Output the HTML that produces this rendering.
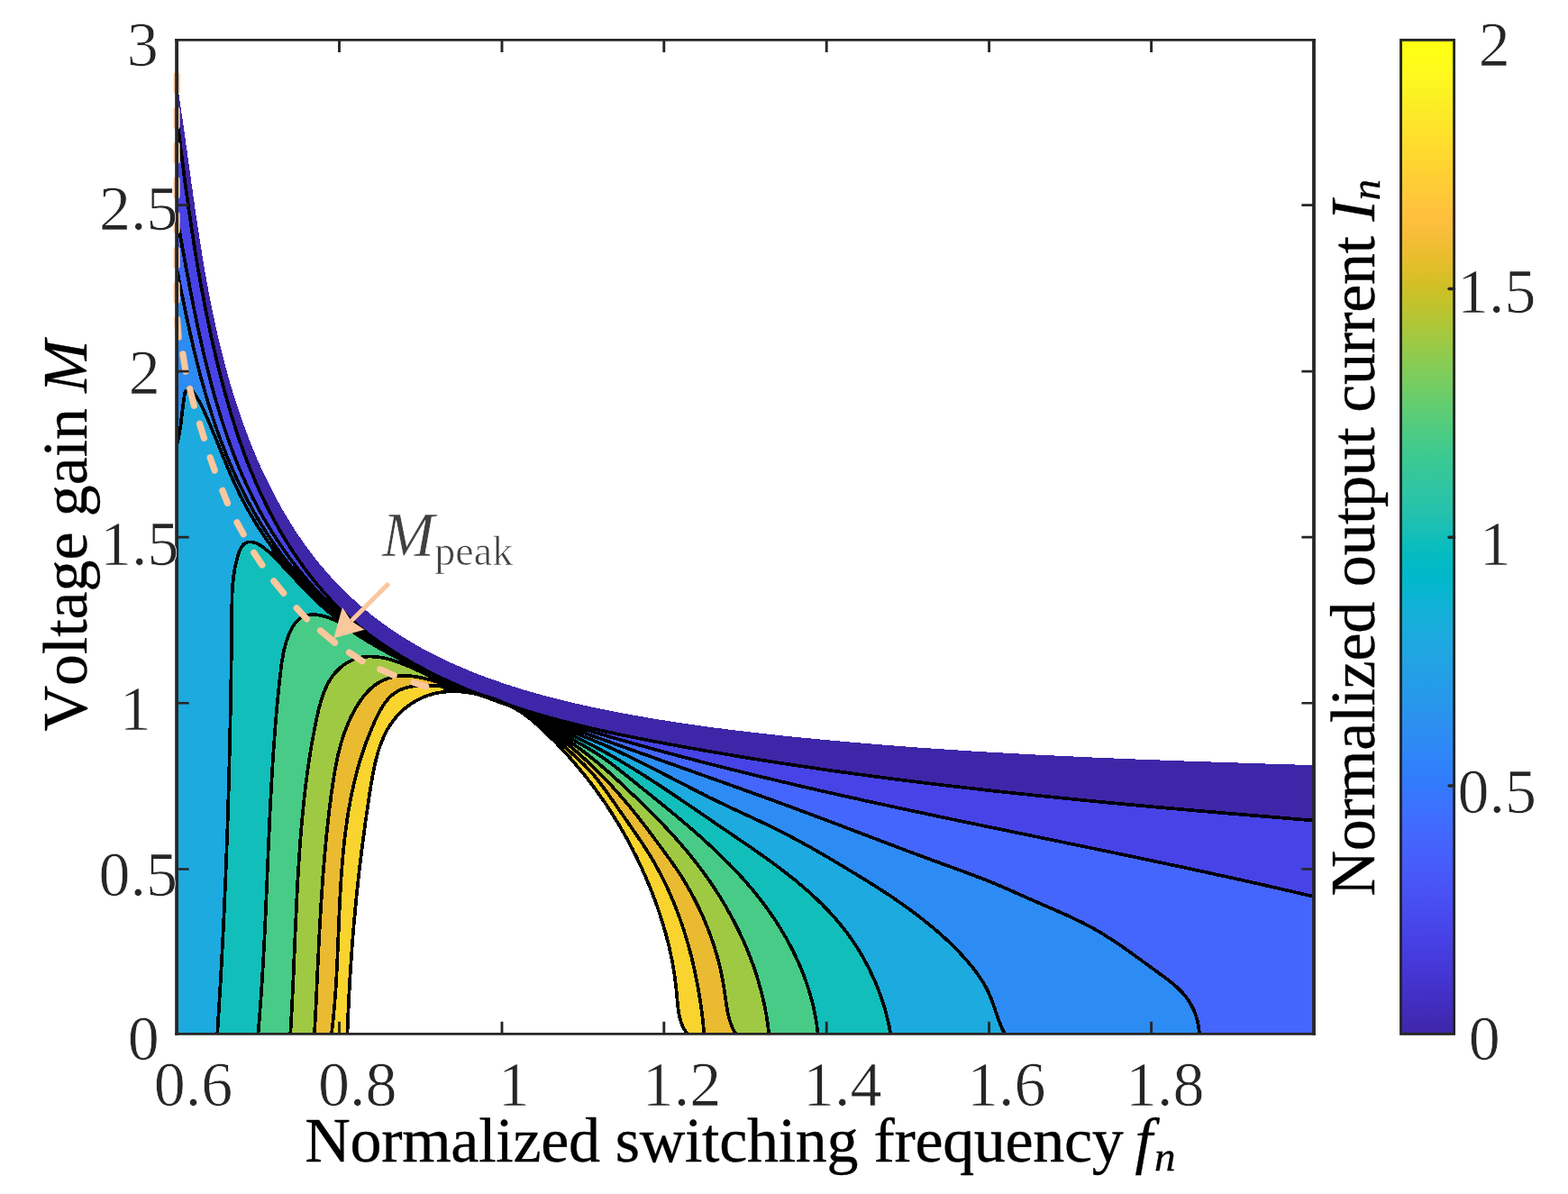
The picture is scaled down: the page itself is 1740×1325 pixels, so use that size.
<!DOCTYPE html>
<html lang="en"><head><meta charset="utf-8"><title>Voltage gain contour</title>
<style>html,body{margin:0;padding:0;background:#fff}body{width:1740px;height:1325px;overflow:hidden}svg{display:block}text{font-family:"Liberation Serif","Times New Roman",serif;font-kerning:none}</style></head><body>
<svg width="1740" height="1325" viewBox="0 0 1740 1325">
<defs><linearGradient id="cb" x1="0" y1="1" x2="0" y2="0">
<stop offset="0.0000" stop-color="#3E26A8"/>
<stop offset="0.0159" stop-color="#402AB4"/>
<stop offset="0.0317" stop-color="#422EC0"/>
<stop offset="0.0476" stop-color="#4332CB"/>
<stop offset="0.0635" stop-color="#4537D5"/>
<stop offset="0.0794" stop-color="#463CDE"/>
<stop offset="0.0952" stop-color="#4741E5"/>
<stop offset="0.1111" stop-color="#4747EB"/>
<stop offset="0.1270" stop-color="#484DF0"/>
<stop offset="0.1429" stop-color="#4852F4"/>
<stop offset="0.1587" stop-color="#4758F8"/>
<stop offset="0.1746" stop-color="#465EFB"/>
<stop offset="0.1905" stop-color="#4563FD"/>
<stop offset="0.2063" stop-color="#4269FE"/>
<stop offset="0.2222" stop-color="#3E6FFF"/>
<stop offset="0.2381" stop-color="#3875FE"/>
<stop offset="0.2540" stop-color="#327CFC"/>
<stop offset="0.2698" stop-color="#2F81FA"/>
<stop offset="0.2857" stop-color="#2E87F7"/>
<stop offset="0.3016" stop-color="#2D8CF3"/>
<stop offset="0.3175" stop-color="#2B91EF"/>
<stop offset="0.3333" stop-color="#2797EB"/>
<stop offset="0.3492" stop-color="#259BE8"/>
<stop offset="0.3651" stop-color="#23A0E5"/>
<stop offset="0.3810" stop-color="#20A5E3"/>
<stop offset="0.3968" stop-color="#1CA9DF"/>
<stop offset="0.4127" stop-color="#18ADDB"/>
<stop offset="0.4286" stop-color="#12B1D6"/>
<stop offset="0.4444" stop-color="#08B5D0"/>
<stop offset="0.4603" stop-color="#01B8CA"/>
<stop offset="0.4762" stop-color="#02BAC3"/>
<stop offset="0.4921" stop-color="#0BBDBD"/>
<stop offset="0.5079" stop-color="#19BFB6"/>
<stop offset="0.5238" stop-color="#24C1AE"/>
<stop offset="0.5397" stop-color="#2CC4A7"/>
<stop offset="0.5556" stop-color="#31C69F"/>
<stop offset="0.5714" stop-color="#37C897"/>
<stop offset="0.5873" stop-color="#3FCA8E"/>
<stop offset="0.6032" stop-color="#4ACB84"/>
<stop offset="0.6190" stop-color="#57CC7A"/>
<stop offset="0.6349" stop-color="#64CD6F"/>
<stop offset="0.6508" stop-color="#72CD64"/>
<stop offset="0.6667" stop-color="#81CC59"/>
<stop offset="0.6825" stop-color="#8FCB4E"/>
<stop offset="0.6966" stop-color="#9DC943"/>
<stop offset="0.7106" stop-color="#ABC739"/>
<stop offset="0.7247" stop-color="#B9C431"/>
<stop offset="0.7387" stop-color="#C5C22A"/>
<stop offset="0.7527" stop-color="#D1BF27"/>
<stop offset="0.7668" stop-color="#DDBE29"/>
<stop offset="0.7827" stop-color="#E9BD2D"/>
<stop offset="0.7985" stop-color="#F3BD36"/>
<stop offset="0.8144" stop-color="#FDBE3D"/>
<stop offset="0.8303" stop-color="#FFC23C"/>
<stop offset="0.8461" stop-color="#FFC938"/>
<stop offset="0.8620" stop-color="#FFCF34"/>
<stop offset="0.8779" stop-color="#FFD630"/>
<stop offset="0.8938" stop-color="#FFDC2D"/>
<stop offset="0.9096" stop-color="#FEE32A"/>
<stop offset="0.9255" stop-color="#FCE927"/>
<stop offset="0.9414" stop-color="#FCF024"/>
<stop offset="0.9573" stop-color="#FDF620"/>
<stop offset="0.9731" stop-color="#FFFC1B"/>
<stop offset="0.9890" stop-color="#FFFF15"/>
<stop offset="1" stop-color="#FFFF14"/>
</linearGradient>
<clipPath id="ax"><rect x="196.1" y="44.4" width="1261.9" height="1103.0"/></clipPath>
</defs>
<rect width="1740" height="1325" fill="#fff"/>
<g clip-path="url(#ax)" shape-rendering="crispEdges">
<path d="M196.1 90.0L196.6 93.0L197.0 95.9L197.5 98.9L198.0 101.8L198.4 104.8L198.9 107.7L199.3 110.7L199.8 113.7L200.2 116.6L200.7 119.6L201.1 122.6L201.5 125.5L202.0 128.5L202.4 131.5L202.8 134.4L203.3 137.4L203.7 140.4L204.1 143.3L204.5 146.3L205.0 149.3L205.4 152.3L205.8 155.2L206.2 158.2L206.6 161.2L207.0 164.2L207.5 167.1L207.9 170.1L208.3 173.1L208.7 176.1L209.1 179.0L209.5 182.0L209.9 185.0L210.4 188.0L210.8 191.0L211.2 193.9L211.6 196.9L212.0 199.9L212.4 202.9L212.9 205.8L213.3 208.8L213.7 211.8L214.1 214.8L214.5 217.8L215.0 220.7L215.4 223.7L215.8 226.7L216.2 229.7L216.7 232.7L217.1 235.6L217.5 238.6L218.0 241.6L218.4 244.6L218.9 247.5L219.3 250.5L219.8 253.5L220.2 256.5L220.7 259.4L221.1 262.4L221.6 265.4L222.0 268.4L222.5 271.3L223.0 274.3L223.5 277.3L223.9 280.2L224.4 283.2L224.9 286.2L225.4 289.2L225.9 292.1L226.4 295.1L226.9 298.0L227.4 301.0L228.0 304.0L228.5 306.9L229.0 309.9L229.5 312.9L230.1 315.8L230.6 318.8L231.2 321.7L231.7 324.7L232.3 327.6L232.9 330.6L233.4 333.5L234.0 336.5L234.6 339.4L235.2 342.4L235.8 345.3L236.4 348.2L237.0 351.2L237.7 354.1L238.3 357.1L238.9 360.0L239.6 362.9L240.2 365.9L240.9 368.8L241.5 371.7L242.2 374.6L242.9 377.6L243.6 380.5L244.3 383.4L245.0 386.3L245.7 389.2L246.5 392.1L247.2 395.1L247.9 398.0L248.7 400.9L249.5 403.8L250.2 406.7L251.0 409.6L251.8 412.5L252.6 415.4L253.4 418.3L254.2 421.2L255.1 424.0L255.9 426.9L256.8 429.8L257.6 432.7L258.5 435.6L259.4 438.4L260.3 441.3L261.2 444.2L262.1 447.0L263.1 449.9L264.0 452.8L265.0 455.6L265.9 458.5L266.9 461.3L267.9 464.2L268.9 467.0L269.9 469.9L270.9 472.7L272.0 475.5L273.0 478.4L274.1 481.2L275.1 484.0L276.2 486.9L277.3 489.7L278.5 492.5L279.6 495.3L280.7 498.1L281.9 500.9L283.0 503.7L284.2 506.5L285.4 509.3L286.6 512.0L287.8 514.8L289.1 517.6L290.3 520.3L291.6 523.1L292.9 525.8L294.2 528.6L295.5 531.3L296.8 534.0L298.1 536.7L299.5 539.4L300.8 542.1L302.2 544.8L303.6 547.5L305.0 550.2L306.4 552.8L307.8 555.5L309.3 558.1L310.8 560.8L312.2 563.4L313.7 566.0L315.2 568.6L316.8 571.2L318.3 573.8L319.9 576.4L321.4 578.9L323.0 581.5L324.6 584.0L326.2 586.6L327.9 589.1L329.5 591.6L331.2 594.1L332.9 596.6L334.6 599.0L336.3 601.5L338.0 603.9L339.8 606.4L341.5 608.8L343.3 611.2L345.1 613.6L346.9 616.0L348.8 618.3L350.6 620.7L352.5 623.0L354.3 625.3L356.2 627.6L358.2 629.9L360.1 632.2L362.1 634.4L364.0 636.7L366.0 638.9L368.0 641.1L370.0 643.3L372.1 645.5L374.1 647.6L376.2 649.8L378.3 651.9L380.4 654.0L382.5 656.1L384.7 658.2L386.8 660.3L389.0 662.3L391.2 664.3L393.4 666.3L395.6 668.3L397.9 670.3L400.1 672.3L402.4 674.2L404.7 676.1L407.0 678.0L409.3 679.9L411.6 681.8L413.9 683.6L416.3 685.5L418.7 687.3L421.0 689.1L423.4 690.8L425.9 692.6L428.3 694.3L430.7 696.1L433.2 697.8L435.6 699.4L438.1 701.1L440.6 702.8L443.1 704.4L445.6 706.0L448.2 707.6L450.7 709.2L453.3 710.7L455.8 712.3L458.4 713.8L461.0 715.3L463.6 716.8L466.2 718.2L468.8 719.7L471.5 721.1L474.1 722.5L476.8 723.9L479.4 725.3L482.1 726.7L484.8 728.0L487.5 729.3L490.2 730.7L492.9 732.0L495.6 733.2L498.3 734.5L501.1 735.8L503.8 737.0L506.6 738.2L509.3 739.4L512.1 740.6L514.9 741.8L517.7 743.0L520.4 744.1L523.2 745.2L526.0 746.4L528.9 747.5L531.7 748.6L534.5 749.6L537.3 750.7L540.1 751.8L543.0 752.8L545.8 753.8L548.7 754.8L551.5 755.8L554.4 756.8L557.3 757.8L560.1 758.8L563.0 759.7L565.9 760.6L568.7 761.6L571.6 762.5L574.5 763.4L577.4 764.3L580.3 765.2L583.2 766.0L586.1 766.9L589.0 767.7L591.9 768.6L594.8 769.4L597.7 770.2L600.6 771.0L603.5 771.8L606.4 772.6L609.3 773.4L612.3 774.1L615.2 774.9L618.1 775.6L621.0 776.3L623.9 777.1L626.9 777.8L629.8 778.5L632.7 779.2L635.7 779.9L638.6 780.6L641.5 781.2L644.5 781.9L647.4 782.6L650.4 783.2L653.3 783.9L656.2 784.5L659.2 785.1L662.1 785.7L665.1 786.4L668.0 787.0L671.0 787.6L673.9 788.2L676.9 788.7L679.8 789.3L682.8 789.9L685.7 790.5L688.7 791.0L691.6 791.6L694.6 792.1L697.6 792.7L700.5 793.2L703.5 793.7L706.4 794.3L709.4 794.8L712.4 795.3L715.3 795.8L718.3 796.3L721.2 796.8L724.2 797.3L727.2 797.8L730.1 798.3L733.1 798.8L736.1 799.3L739.0 799.7L742.0 800.2L745.0 800.7L747.9 801.1L750.9 801.6L753.9 802.0L756.8 802.5L759.8 802.9L762.8 803.3L765.7 803.8L768.7 804.2L771.7 804.6L774.7 805.0L777.6 805.5L780.6 805.9L783.6 806.3L786.5 806.7L789.5 807.1L792.5 807.5L795.5 807.9L798.4 808.2L801.4 808.6L804.4 809.0L807.4 809.4L810.3 809.8L813.3 810.1L816.3 810.5L819.3 810.9L822.3 811.2L825.2 811.6L828.2 811.9L831.2 812.3L834.2 812.6L837.2 813.0L840.1 813.3L843.1 813.6L846.1 814.0L849.1 814.3L852.1 814.6L855.0 815.0L858.0 815.3L861.0 815.6L864.0 815.9L867.0 816.2L870.0 816.6L872.9 816.9L875.9 817.2L878.9 817.5L881.9 817.8L884.9 818.1L887.9 818.4L890.9 818.7L893.9 819.0L896.8 819.3L899.8 819.5L902.8 819.8L905.8 820.1L908.8 820.4L911.8 820.7L914.8 821.0L917.8 821.2L920.7 821.5L923.7 821.8L926.7 822.1L929.7 822.3L932.7 822.6L935.7 822.9L938.7 823.1L941.7 823.4L944.7 823.7L947.7 823.9L950.7 824.2L953.7 824.4L956.6 824.7L959.6 824.9L962.6 825.2L965.6 825.4L968.6 825.7L971.6 825.9L974.6 826.1L977.6 826.4L980.6 826.6L983.6 826.9L986.6 827.1L989.6 827.3L992.6 827.6L995.6 827.8L998.6 828.0L1001.6 828.2L1004.6 828.5L1007.6 828.7L1010.6 828.9L1013.6 829.1L1016.6 829.4L1019.6 829.6L1022.6 829.8L1025.6 830.0L1028.6 830.2L1031.6 830.4L1034.6 830.6L1037.6 830.8L1040.6 831.0L1043.6 831.2L1046.6 831.4L1049.6 831.6L1052.6 831.8L1055.6 832.0L1058.6 832.2L1061.6 832.4L1064.6 832.6L1067.6 832.8L1070.6 833.0L1073.6 833.2L1076.6 833.4L1079.6 833.6L1082.6 833.7L1085.6 833.9L1088.6 834.1L1091.6 834.3L1094.6 834.5L1097.6 834.6L1100.6 834.8L1103.6 835.0L1106.6 835.2L1109.6 835.3L1112.6 835.5L1115.6 835.7L1118.6 835.9L1121.6 836.0L1124.6 836.2L1127.6 836.3L1130.6 836.5L1133.6 836.7L1136.6 836.8L1139.6 837.0L1142.6 837.2L1145.6 837.3L1148.6 837.5L1151.6 837.6L1154.6 837.8L1157.6 837.9L1160.6 838.1L1163.6 838.2L1166.7 838.4L1169.7 838.5L1172.7 838.7L1175.7 838.8L1178.7 839.0L1181.7 839.1L1184.7 839.2L1187.7 839.4L1190.7 839.5L1193.7 839.7L1196.7 839.8L1199.7 839.9L1202.7 840.1L1205.7 840.2L1208.7 840.3L1211.7 840.5L1214.7 840.6L1217.7 840.7L1220.7 840.9L1223.7 841.0L1226.8 841.1L1229.8 841.3L1232.8 841.4L1235.8 841.5L1238.8 841.6L1241.8 841.8L1244.8 841.9L1247.8 842.0L1250.8 842.1L1253.8 842.3L1256.8 842.4L1259.8 842.5L1262.8 842.6L1265.8 842.7L1268.8 842.8L1271.8 843.0L1274.8 843.1L1277.8 843.2L1280.8 843.3L1283.9 843.4L1286.9 843.5L1289.9 843.6L1292.9 843.8L1295.9 843.9L1298.9 844.0L1301.9 844.1L1304.9 844.2L1307.9 844.3L1310.9 844.4L1313.9 844.5L1316.9 844.6L1319.9 844.7L1322.9 844.8L1325.9 844.9L1328.9 845.0L1331.9 845.1L1334.9 845.2L1337.9 845.3L1340.9 845.4L1343.9 845.5L1346.9 845.6L1350.0 845.7L1353.0 845.8L1356.0 845.9L1359.0 846.0L1362.0 846.1L1365.0 846.2L1368.0 846.3L1371.0 846.4L1374.0 846.5L1377.0 846.6L1380.0 846.7L1383.0 846.8L1386.0 846.9L1389.0 847.0L1392.0 847.1L1395.0 847.2L1398.0 847.3L1401.0 847.4L1404.0 847.5L1407.0 847.6L1410.0 847.7L1413.0 847.7L1416.0 847.8L1419.0 847.9L1422.0 848.0L1425.0 848.1L1428.0 848.2L1431.0 848.3L1434.0 848.4L1437.0 848.5L1440.0 848.6L1443.0 848.7L1446.0 848.7L1449.0 848.8L1452.0 848.9L1455.0 849.0L1458.0 849.1L1458.0 1147.4L196.1 1147.4Z" fill="#3E26A8"/>
<path d="M196.1 128.0L196.5 131.0L196.8 134.0L197.2 137.0L197.5 140.0L197.9 143.0L198.2 146.0L198.6 149.0L199.0 151.9L199.3 154.9L199.7 157.9L200.1 160.9L200.4 163.9L200.8 166.9L201.2 169.9L201.6 172.9L201.9 175.9L202.3 178.9L202.7 181.8L203.1 184.8L203.5 187.8L203.8 190.8L204.2 193.8L204.6 196.8L205.0 199.8L205.4 202.7L205.8 205.7L206.2 208.7L206.6 211.7L207.0 214.7L207.4 217.6L207.8 220.6L208.3 223.6L208.7 226.6L209.1 229.6L209.5 232.5L209.9 235.5L210.4 238.5L210.8 241.5L211.2 244.4L211.7 247.4L212.1 250.4L212.6 253.4L213.0 256.3L213.5 259.3L213.9 262.3L214.4 265.2L214.8 268.2L215.3 271.2L215.8 274.1L216.3 277.1L216.7 280.1L217.2 283.0L217.7 286.0L218.2 289.0L218.7 291.9L219.2 294.9L219.7 297.9L220.2 300.8L220.7 303.8L221.3 306.7L221.8 309.7L222.3 312.7L222.8 315.6L223.4 318.6L223.9 321.5L224.5 324.5L225.0 327.4L225.6 330.4L226.2 333.3L226.7 336.3L227.3 339.2L227.9 342.2L228.5 345.1L229.1 348.1L229.6 351.0L230.3 354.0L230.9 356.9L231.5 359.8L232.1 362.8L232.7 365.7L233.4 368.7L234.0 371.6L234.6 374.5L235.3 377.5L235.9 380.4L236.6 383.4L237.3 386.3L237.9 389.2L238.6 392.1L239.3 395.1L240.0 398.0L240.7 400.9L241.4 403.9L242.1 406.8L242.9 409.7L243.6 412.6L244.3 415.6L245.1 418.5L245.8 421.4L246.6 424.3L247.3 427.2L248.1 430.1L248.9 433.1L249.7 436.0L250.5 438.9L251.3 441.8L252.1 444.7L252.9 447.6L253.8 450.5L254.6 453.4L255.5 456.3L256.3 459.2L257.2 462.1L258.1 464.9L259.0 467.8L259.9 470.7L260.8 473.6L261.7 476.4L262.7 479.3L263.6 482.2L264.6 485.0L265.6 487.9L266.5 490.7L267.5 493.6L268.5 496.4L269.6 499.3L270.6 502.1L271.6 504.9L272.7 507.8L273.8 510.6L274.8 513.4L275.9 516.2L277.1 519.0L278.2 521.8L279.3 524.6L280.5 527.4L281.6 530.2L282.8 533.0L284.0 535.7L285.2 538.5L286.4 541.2L287.7 544.0L288.9 546.7L290.2 549.5L291.5 552.2L292.8 554.9L294.1 557.7L295.4 560.4L296.8 563.1L298.1 565.8L299.5 568.5L300.9 571.1L302.3 573.8L303.8 576.5L305.2 579.1L306.7 581.8L308.1 584.4L309.6 587.0L311.1 589.6L312.6 592.3L314.2 594.8L315.7 597.4L317.3 600.0L318.9 602.6L320.5 605.1L322.1 607.7L323.8 610.2L325.4 612.7L327.1 615.2L328.8 617.7L330.5 620.2L332.2 622.6L333.9 625.1L335.7 627.5L337.4 630.0L339.2 632.4L341.0 634.8L342.8 637.2L344.7 639.5L346.5 641.9L348.4 644.2L350.3 646.6L352.2 648.9L354.1 651.2L356.1 653.4L358.0 655.7L360.0 657.9L362.0 660.2L364.0 662.4L366.0 664.6L368.1 666.8L370.1 668.9L372.2 671.1L374.3 673.2L376.4 675.3L378.6 677.4L380.7 679.5L382.9 681.5L385.1 683.6L387.3 685.6L389.5 687.6L391.8 689.6L394.0 691.5L396.3 693.5L398.6 695.4L400.9 697.3L403.3 699.2L405.6 701.0L408.0 702.9L410.3 704.7L412.7 706.5L415.2 708.3L417.6 710.0L420.0 711.8L422.5 713.5L425.0 715.2L427.4 716.9L429.9 718.6L432.4 720.3L435.0 721.9L437.5 723.5L440.1 725.1L442.6 726.7L445.2 728.3L447.8 729.9L450.4 731.4L453.0 732.9L455.6 734.4L458.2 735.9L460.9 737.4L463.5 738.9L466.2 740.3L468.8 741.7L471.5 743.1L474.2 744.5L476.9 745.9L479.6 747.3L482.3 748.6L485.0 750.0L487.7 751.3L490.4 752.6L493.2 753.9L495.9 755.2L498.6 756.4L501.4 757.7L504.1 758.9L506.9 760.1L509.7 761.3L512.4 762.5L515.2 763.7L518.0 764.9L520.7 766.0L523.5 767.2L526.3 768.3L529.1 769.4L531.9 770.5L534.7 771.6L537.5 772.7L540.3 773.8L543.1 774.8L545.9 775.8L548.8 776.9L551.6 777.9L554.4 778.9L557.3 779.9L560.1 780.9L562.9 781.9L565.8 782.8L568.6 783.8L571.5 784.7L574.3 785.6L577.2 786.6L580.1 787.5L582.9 788.4L585.8 789.3L588.7 790.1L591.5 791.0L594.4 791.9L597.3 792.7L600.2 793.6L603.1 794.4L606.0 795.2L608.8 796.0L611.7 796.8L614.6 797.6L617.5 798.4L620.4 799.2L623.3 800.0L626.3 800.7L629.2 801.5L632.1 802.2L635.0 803.0L637.9 803.7L640.8 804.4L643.8 805.2L646.7 805.9L649.6 806.6L652.5 807.3L655.5 808.0L658.4 808.6L661.3 809.3L664.3 810.0L667.2 810.6L670.2 811.3L673.1 812.0L676.0 812.6L679.0 813.2L681.9 813.9L684.9 814.5L687.8 815.1L690.8 815.7L693.7 816.4L696.7 817.0L699.6 817.6L702.6 818.2L705.6 818.8L708.5 819.4L711.5 819.9L714.4 820.5L717.4 821.1L720.3 821.7L723.3 822.3L726.3 822.8L729.2 823.4L732.2 823.9L735.2 824.5L738.1 825.1L741.1 825.6L744.1 826.2L747.0 826.7L750.0 827.2L753.0 827.8L755.9 828.3L758.9 828.9L761.9 829.4L764.8 829.9L767.8 830.5L770.8 831.0L773.7 831.5L776.7 832.0L779.7 832.6L782.6 833.1L785.6 833.6L788.6 834.1L791.5 834.6L794.5 835.1L797.5 835.6L800.5 836.1L803.4 836.6L806.4 837.1L809.4 837.6L812.3 838.1L815.3 838.6L818.3 839.1L821.3 839.6L824.2 840.1L827.2 840.6L830.2 841.1L833.1 841.6L836.1 842.0L839.1 842.5L842.1 843.0L845.0 843.5L848.0 843.9L851.0 844.4L853.9 844.9L856.9 845.3L859.9 845.8L862.9 846.3L865.8 846.7L868.8 847.2L871.8 847.6L874.8 848.1L877.7 848.5L880.7 849.0L883.7 849.4L886.7 849.9L889.6 850.3L892.6 850.8L895.6 851.2L898.6 851.6L901.6 852.1L904.5 852.5L907.5 852.9L910.5 853.4L913.5 853.8L916.4 854.2L919.4 854.7L922.4 855.1L925.4 855.5L928.4 855.9L931.3 856.3L934.3 856.8L937.3 857.2L940.3 857.6L943.2 858.0L946.2 858.4L949.2 858.8L952.2 859.2L955.2 859.6L958.1 860.0L961.1 860.4L964.1 860.8L967.1 861.2L970.1 861.6L973.0 862.0L976.0 862.4L979.0 862.8L982.0 863.2L985.0 863.6L988.0 864.0L990.9 864.3L993.9 864.7L996.9 865.1L999.9 865.5L1002.9 865.9L1005.9 866.2L1008.8 866.6L1011.8 867.0L1014.8 867.4L1017.8 867.7L1020.8 868.1L1023.8 868.5L1026.7 868.8L1029.7 869.2L1032.7 869.6L1035.7 869.9L1038.7 870.3L1041.7 870.6L1044.6 871.0L1047.6 871.4L1050.6 871.7L1053.6 872.1L1056.6 872.4L1059.6 872.8L1062.6 873.1L1065.5 873.5L1068.5 873.8L1071.5 874.2L1074.5 874.5L1077.5 874.8L1080.5 875.2L1083.5 875.5L1086.5 875.9L1089.4 876.2L1092.4 876.5L1095.4 876.9L1098.4 877.2L1101.4 877.5L1104.4 877.9L1107.4 878.2L1110.4 878.5L1113.4 878.8L1116.3 879.2L1119.3 879.5L1122.3 879.8L1125.3 880.1L1128.3 880.5L1131.3 880.8L1134.3 881.1L1137.3 881.4L1140.3 881.7L1143.2 882.0L1146.2 882.4L1149.2 882.7L1152.2 883.0L1155.2 883.3L1158.2 883.6L1161.2 883.9L1164.2 884.2L1167.2 884.5L1170.2 884.8L1173.2 885.1L1176.2 885.4L1179.1 885.7L1182.1 886.0L1185.1 886.3L1188.1 886.6L1191.1 886.9L1194.1 887.2L1197.1 887.5L1200.1 887.8L1203.1 888.1L1206.1 888.4L1209.1 888.7L1212.1 889.0L1215.1 889.3L1218.1 889.6L1221.1 889.8L1224.0 890.1L1227.0 890.4L1230.0 890.7L1233.0 891.0L1236.0 891.3L1239.0 891.6L1242.0 891.8L1245.0 892.1L1248.0 892.4L1251.0 892.7L1254.0 893.0L1257.0 893.2L1260.0 893.5L1263.0 893.8L1266.0 894.1L1269.0 894.3L1272.0 894.6L1275.0 894.9L1278.0 895.2L1281.0 895.4L1284.0 895.7L1287.0 896.0L1290.0 896.2L1293.0 896.5L1296.0 896.8L1299.0 897.0L1301.9 897.3L1304.9 897.6L1307.9 897.8L1310.9 898.1L1313.9 898.4L1316.9 898.6L1319.9 898.9L1322.9 899.2L1325.9 899.4L1328.9 899.7L1331.9 899.9L1334.9 900.2L1337.9 900.5L1340.9 900.7L1343.9 901.0L1346.9 901.2L1349.9 901.5L1352.9 901.8L1355.9 902.0L1358.9 902.3L1361.9 902.5L1364.9 902.8L1367.9 903.0L1370.9 903.3L1373.9 903.5L1376.9 903.8L1379.9 904.0L1382.9 904.3L1385.9 904.6L1388.9 904.8L1391.9 905.1L1394.9 905.3L1397.9 905.6L1400.9 905.8L1403.9 906.1L1406.9 906.3L1410.0 906.6L1413.0 906.8L1416.0 907.1L1419.0 907.3L1422.0 907.5L1425.0 907.8L1428.0 908.0L1431.0 908.3L1434.0 908.5L1437.0 908.8L1440.0 909.0L1443.0 909.3L1446.0 909.5L1449.0 909.8L1452.0 910.0L1455.0 910.3L1458.0 910.5L1458.0 1147.4L196.1 1147.4Z" fill="#4743E6"/>
<path d="M196.1 240.0L196.6 242.9L197.2 245.9L197.7 248.8L198.3 251.8L198.8 254.7L199.3 257.7L199.9 260.6L200.4 263.6L200.9 266.5L201.5 269.5L202.0 272.5L202.5 275.4L203.1 278.4L203.6 281.3L204.2 284.3L204.7 287.2L205.2 290.2L205.8 293.1L206.3 296.1L206.9 299.1L207.4 302.0L208.0 305.0L208.5 307.9L209.1 310.9L209.7 313.8L210.2 316.8L210.8 319.8L211.3 322.7L211.9 325.7L212.5 328.6L213.1 331.6L213.7 334.5L214.2 337.5L214.8 340.5L215.4 343.4L216.0 346.4L216.6 349.3L217.2 352.3L217.8 355.2L218.5 358.2L219.1 361.1L219.7 364.1L220.3 367.0L221.0 370.0L221.6 372.9L222.3 375.8L222.9 378.8L223.6 381.7L224.3 384.7L224.9 387.6L225.6 390.5L226.3 393.5L227.0 396.4L227.7 399.3L228.4 402.3L229.1 405.2L229.8 408.1L230.6 411.1L231.3 414.0L232.1 416.9L232.8 419.8L233.6 422.7L234.4 425.7L235.1 428.6L235.9 431.5L236.7 434.4L237.5 437.3L238.3 440.2L239.2 443.1L240.0 446.0L240.9 448.9L241.7 451.8L242.6 454.7L243.5 457.6L244.3 460.5L245.2 463.3L246.1 466.2L247.1 469.1L248.0 472.0L248.9 474.8L249.9 477.7L250.9 480.6L251.8 483.4L252.8 486.3L253.8 489.1L254.8 492.0L255.9 494.8L256.9 497.6L258.0 500.5L259.0 503.3L260.1 506.1L261.2 508.9L262.3 511.7L263.5 514.5L264.6 517.3L265.7 520.1L266.9 522.9L268.1 525.6L269.3 528.4L270.5 531.2L271.8 533.9L273.0 536.7L274.3 539.4L275.5 542.1L276.8 544.9L278.2 547.6L279.5 550.3L280.8 553.0L282.2 555.7L283.6 558.3L285.0 561.0L286.4 563.7L287.8 566.3L289.3 569.0L290.8 571.6L292.2 574.2L293.7 576.9L295.3 579.5L296.8 582.1L298.3 584.6L299.9 587.2L301.5 589.8L303.1 592.3L304.7 594.9L306.3 597.4L308.0 599.9L309.7 602.4L311.3 604.9L313.0 607.4L314.8 609.9L316.5 612.3L318.2 614.8L320.0 617.2L321.8 619.7L323.6 622.1L325.4 624.5L327.2 626.8L329.1 629.2L330.9 631.6L332.8 633.9L334.7 636.2L336.6 638.6L338.6 640.9L340.5 643.1L342.5 645.4L344.4 647.7L346.4 649.9L348.4 652.1L350.5 654.4L352.5 656.6L354.6 658.7L356.6 660.9L358.7 663.0L360.8 665.2L363.0 667.3L365.1 669.4L367.2 671.5L369.4 673.5L371.6 675.6L373.8 677.6L376.0 679.6L378.2 681.6L380.5 683.6L382.8 685.6L385.0 687.5L387.3 689.4L389.6 691.4L392.0 693.2L394.3 695.1L396.7 697.0L399.0 698.8L401.4 700.6L403.8 702.4L406.2 704.2L408.7 706.0L411.1 707.7L413.6 709.4L416.0 711.2L418.5 712.9L421.0 714.5L423.5 716.2L426.0 717.8L428.6 719.5L431.1 721.1L433.7 722.7L436.2 724.3L438.8 725.8L441.4 727.4L444.0 728.9L446.6 730.4L449.2 731.9L451.8 733.4L454.5 734.9L457.1 736.3L459.8 737.8L462.4 739.2L465.1 740.6L467.8 742.0L470.5 743.4L473.2 744.8L475.9 746.1L478.6 747.5L481.3 748.8L484.0 750.1L486.7 751.4L489.5 752.7L492.2 754.0L494.9 755.2L497.7 756.5L500.5 757.7L503.2 758.9L506.0 760.2L508.7 761.3L511.5 762.5L514.3 763.7L517.1 764.9L519.9 766.0L522.7 767.2L525.5 768.3L528.3 769.4L531.1 770.5L533.9 771.6L536.7 772.7L539.5 773.8L542.3 774.8L545.1 775.9L548.0 776.9L550.8 778.0L553.6 779.0L556.5 780.0L559.3 781.0L562.2 782.0L565.0 783.0L567.8 784.0L570.7 785.0L573.5 786.0L576.4 786.9L579.3 787.9L582.1 788.8L585.0 789.8L587.8 790.7L590.7 791.6L593.6 792.6L596.5 793.5L599.3 794.4L602.2 795.3L605.1 796.2L607.9 797.1L610.8 798.0L613.7 798.9L616.6 799.8L619.5 800.7L622.4 801.6L625.2 802.4L628.1 803.3L631.0 804.2L633.9 805.0L636.8 805.9L639.7 806.8L642.6 807.6L645.4 808.5L648.3 809.3L651.2 810.2L654.1 811.0L657.0 811.9L659.9 812.7L662.8 813.6L665.7 814.4L668.6 815.3L671.4 816.1L674.3 816.9L677.2 817.8L680.1 818.6L683.0 819.4L685.9 820.3L688.8 821.1L691.7 821.9L694.6 822.7L697.5 823.5L700.4 824.4L703.3 825.2L706.2 826.0L709.1 826.8L712.0 827.6L714.9 828.4L717.8 829.2L720.7 830.0L723.6 830.8L726.5 831.6L729.4 832.4L732.3 833.2L735.2 834.0L738.1 834.8L741.0 835.5L743.9 836.3L746.8 837.1L749.7 837.9L752.6 838.7L755.5 839.4L758.4 840.2L761.3 841.0L764.3 841.7L767.2 842.5L770.1 843.3L773.0 844.0L775.9 844.8L778.8 845.5L781.7 846.3L784.6 847.0L787.6 847.8L790.5 848.5L793.4 849.3L796.3 850.0L799.2 850.7L802.1 851.5L805.0 852.2L808.0 852.9L810.9 853.7L813.8 854.4L816.7 855.1L819.6 855.8L822.6 856.6L825.5 857.3L828.4 858.0L831.3 858.7L834.3 859.4L837.2 860.1L840.1 860.8L843.0 861.6L845.9 862.3L848.9 863.0L851.8 863.7L854.7 864.4L857.7 865.1L860.6 865.8L863.5 866.5L866.4 867.2L869.4 867.9L872.3 868.5L875.2 869.2L878.2 869.9L881.1 870.6L884.0 871.3L886.9 872.0L889.9 872.7L892.8 873.3L895.7 874.0L898.7 874.7L901.6 875.4L904.5 876.0L907.5 876.7L910.4 877.4L913.3 878.0L916.3 878.7L919.2 879.4L922.1 880.0L925.1 880.7L928.0 881.4L931.0 882.0L933.9 882.7L936.8 883.3L939.8 884.0L942.7 884.7L945.6 885.3L948.6 886.0L951.5 886.6L954.5 887.3L957.4 887.9L960.3 888.6L963.3 889.2L966.2 889.8L969.2 890.5L972.1 891.1L975.0 891.8L978.0 892.4L980.9 893.1L983.9 893.7L986.8 894.3L989.8 895.0L992.7 895.6L995.6 896.2L998.6 896.9L1001.5 897.5L1004.5 898.1L1007.4 898.8L1010.4 899.4L1013.3 900.0L1016.3 900.7L1019.2 901.3L1022.2 901.9L1025.1 902.5L1028.0 903.2L1031.0 903.8L1033.9 904.4L1036.9 905.0L1039.8 905.7L1042.8 906.3L1045.7 906.9L1048.7 907.5L1051.6 908.1L1054.6 908.8L1057.5 909.4L1060.5 910.0L1063.4 910.6L1066.4 911.2L1069.3 911.8L1072.3 912.5L1075.2 913.1L1078.2 913.7L1081.1 914.3L1084.1 914.9L1087.0 915.5L1090.0 916.1L1092.9 916.8L1095.9 917.4L1098.8 918.0L1101.8 918.6L1104.7 919.2L1107.7 919.8L1110.6 920.4L1113.6 921.0L1116.5 921.6L1119.5 922.3L1122.4 922.9L1125.4 923.5L1128.3 924.1L1131.3 924.7L1134.2 925.3L1137.2 925.9L1140.1 926.5L1143.1 927.1L1146.0 927.7L1149.0 928.3L1151.9 928.9L1154.9 929.5L1157.8 930.2L1160.8 930.8L1163.7 931.4L1166.7 932.0L1169.6 932.6L1172.6 933.2L1175.5 933.8L1178.5 934.4L1181.4 935.0L1184.4 935.6L1187.3 936.2L1190.3 936.8L1193.2 937.4L1196.2 938.1L1199.1 938.7L1202.1 939.3L1205.0 939.9L1208.0 940.5L1210.9 941.1L1213.9 941.7L1216.8 942.3L1219.8 942.9L1222.7 943.5L1225.7 944.2L1228.6 944.8L1231.6 945.4L1234.5 946.0L1237.5 946.6L1240.4 947.2L1243.4 947.8L1246.3 948.4L1249.3 949.1L1252.2 949.7L1255.2 950.3L1258.1 950.9L1261.1 951.5L1264.0 952.1L1267.0 952.8L1269.9 953.4L1272.8 954.0L1275.8 954.6L1278.7 955.2L1281.7 955.9L1284.6 956.5L1287.6 957.1L1290.5 957.7L1293.5 958.3L1296.4 959.0L1299.4 959.6L1302.3 960.2L1305.3 960.8L1308.2 961.5L1311.1 962.1L1314.1 962.7L1317.0 963.4L1320.0 964.0L1322.9 964.6L1325.9 965.3L1328.8 965.9L1331.8 966.5L1334.7 967.2L1337.6 967.8L1340.6 968.4L1343.5 969.1L1346.5 969.7L1349.4 970.4L1352.3 971.0L1355.3 971.6L1358.2 972.3L1361.2 972.9L1364.1 973.6L1367.1 974.2L1370.0 974.9L1372.9 975.5L1375.9 976.2L1378.8 976.8L1381.7 977.5L1384.7 978.1L1387.6 978.8L1390.6 979.5L1393.5 980.1L1396.4 980.8L1399.4 981.4L1402.3 982.1L1405.2 982.8L1408.2 983.4L1411.1 984.1L1414.0 984.8L1417.0 985.4L1419.9 986.1L1422.8 986.8L1425.8 987.5L1428.7 988.1L1431.6 988.8L1434.6 989.5L1437.5 990.2L1440.4 990.9L1443.4 991.6L1446.3 992.2L1449.2 992.9L1452.1 993.6L1455.1 994.3L1458.0 995.0L1458.0 1147.4L196.1 1147.4Z" fill="#4466FD"/>
<path d="M196.1 298.0L196.7 300.9L197.3 303.9L197.9 306.8L198.4 309.8L199.0 312.7L199.6 315.7L200.2 318.6L200.8 321.6L201.4 324.5L202.0 327.5L202.6 330.4L203.2 333.4L203.8 336.3L204.4 339.3L205.0 342.2L205.7 345.2L206.3 348.1L206.9 351.0L207.5 354.0L208.2 356.9L208.8 359.9L209.5 362.8L210.1 365.7L210.8 368.7L211.4 371.6L212.1 374.5L212.7 377.5L213.4 380.4L214.1 383.3L214.8 386.3L215.5 389.2L216.2 392.1L216.9 395.0L217.6 398.0L218.3 400.9L219.0 403.8L219.8 406.7L220.5 409.6L221.3 412.5L222.0 415.4L222.8 418.4L223.6 421.3L224.4 424.2L225.2 427.1L226.0 429.9L226.8 432.8L227.6 435.7L228.5 438.6L229.3 441.5L230.2 444.4L231.0 447.3L231.9 450.1L232.8 453.0L233.7 455.9L234.6 458.7L235.5 461.6L236.5 464.4L237.4 467.3L238.4 470.1L239.3 473.0L240.3 475.8L241.3 478.7L242.3 481.5L243.4 484.3L244.4 487.1L245.4 490.0L246.5 492.8L247.6 495.6L248.7 498.4L249.8 501.2L250.9 504.0L252.0 506.8L253.2 509.6L254.4 512.3L255.5 515.1L256.7 517.9L257.9 520.6L259.2 523.4L260.4 526.1L261.7 528.9L262.9 531.6L264.2 534.4L265.5 537.1L266.8 539.8L268.2 542.5L269.5 545.2L270.9 547.9L272.2 550.6L273.6 553.3L275.0 555.9L276.5 558.6L277.9 561.2L279.4 563.9L280.8 566.5L282.3 569.1L283.8 571.7L285.3 574.3L286.9 576.9L288.4 579.5L290.0 582.1L291.6 584.6L293.2 587.2L294.8 589.7L296.4 592.3L298.1 594.8L299.7 597.3L301.4 599.8L303.1 602.2L304.8 604.7L306.6 607.2L308.3 609.6L310.1 612.0L311.8 614.5L313.6 616.9L315.5 619.2L317.3 621.6L319.1 624.0L321.0 626.3L322.9 628.7L324.8 631.0L326.7 633.3L328.6 635.6L330.6 637.9L332.5 640.1L334.5 642.4L336.5 644.6L338.5 646.8L340.6 649.0L342.6 651.2L344.7 653.3L346.8 655.5L348.9 657.6L351.0 659.7L353.2 661.8L355.3 663.9L357.5 666.0L359.7 668.0L361.9 670.0L364.2 672.1L366.4 674.0L368.7 676.0L370.9 678.0L373.2 679.9L375.5 681.9L377.9 683.8L380.2 685.7L382.6 687.5L384.9 689.4L387.3 691.3L389.7 693.1L392.1 694.9L394.5 696.7L396.9 698.5L399.4 700.3L401.8 702.0L404.3 703.8L406.8 705.5L409.2 707.2L411.7 708.9L414.2 710.6L416.8 712.3L419.3 714.0L421.8 715.6L424.4 717.2L426.9 718.9L429.5 720.5L432.0 722.1L434.6 723.6L437.2 725.2L439.7 726.8L442.3 728.3L444.9 729.8L447.5 731.4L450.1 732.9L452.8 734.4L455.4 735.8L458.0 737.3L460.6 738.8L463.2 740.2L465.9 741.7L468.5 743.1L471.2 744.5L473.8 745.9L476.5 747.3L479.1 748.6L481.8 750.0L484.5 751.3L487.2 752.6L489.9 753.9L492.6 755.2L495.3 756.4L498.0 757.6L500.8 758.8L503.5 760.0L506.3 761.2L509.1 762.3L511.9 763.4L514.7 764.5L517.5 765.6L520.3 766.7L523.1 767.7L525.9 768.8L528.8 769.8L531.6 770.9L534.4 771.9L537.2 772.9L540.1 774.0L542.9 775.0L545.7 776.0L548.6 777.0L551.4 778.1L554.2 779.1L557.1 780.1L559.9 781.2L562.7 782.2L565.5 783.2L568.4 784.2L571.2 785.3L574.0 786.3L576.9 787.3L579.7 788.4L582.5 789.4L585.3 790.4L588.2 791.5L591.0 792.5L593.8 793.5L596.6 794.5L599.5 795.6L602.3 796.6L605.1 797.6L607.9 798.6L610.8 799.7L613.6 800.7L616.4 801.7L619.2 802.8L622.1 803.8L624.9 804.8L627.7 805.8L630.5 806.9L633.4 807.9L636.2 808.9L639.0 809.9L641.8 811.0L644.7 812.0L647.5 813.0L650.3 814.0L653.1 815.0L656.0 816.1L658.8 817.1L661.6 818.1L664.4 819.1L667.3 820.1L670.1 821.1L672.9 822.2L675.8 823.2L678.6 824.2L681.4 825.2L684.3 826.2L687.1 827.2L689.9 828.2L692.7 829.2L695.6 830.3L698.4 831.3L701.2 832.3L704.1 833.3L706.9 834.3L709.7 835.3L712.6 836.3L715.4 837.3L718.2 838.3L721.1 839.3L723.9 840.3L726.7 841.3L729.6 842.3L732.4 843.3L735.2 844.4L738.1 845.4L740.9 846.4L743.7 847.4L746.6 848.4L749.4 849.4L752.2 850.4L755.1 851.4L757.9 852.4L760.7 853.4L763.6 854.4L766.4 855.4L769.2 856.4L772.1 857.4L774.9 858.4L777.7 859.5L780.6 860.5L783.4 861.5L786.2 862.5L789.1 863.5L791.9 864.5L794.7 865.5L797.6 866.5L800.4 867.5L803.2 868.5L806.1 869.6L808.9 870.6L811.7 871.6L814.6 872.6L817.4 873.6L820.2 874.6L823.1 875.7L825.9 876.7L828.7 877.7L831.5 878.7L834.4 879.7L837.2 880.8L840.0 881.8L842.9 882.8L845.7 883.8L848.5 884.9L851.3 885.9L854.2 886.9L857.0 887.9L859.8 889.0L862.6 890.0L865.5 891.0L868.3 892.1L871.1 893.1L873.9 894.1L876.8 895.2L879.6 896.2L882.4 897.3L885.2 898.3L888.0 899.4L890.9 900.4L893.7 901.5L896.5 902.5L899.3 903.6L902.1 904.6L904.9 905.7L907.8 906.7L910.6 907.8L913.4 908.8L916.2 909.9L919.0 911.0L921.8 912.0L924.6 913.1L927.4 914.1L930.3 915.2L933.1 916.3L935.9 917.3L938.7 918.4L941.5 919.5L944.3 920.6L947.1 921.6L949.9 922.7L952.7 923.8L955.6 924.8L958.4 925.9L961.2 927.0L964.0 928.0L966.8 929.1L969.6 930.2L972.4 931.2L975.2 932.3L978.0 933.4L980.8 934.4L983.7 935.5L986.5 936.6L989.3 937.6L992.1 938.7L994.9 939.8L997.7 940.8L1000.5 941.9L1003.3 942.9L1006.2 944.0L1009.0 945.1L1011.8 946.1L1014.6 947.2L1017.4 948.2L1020.2 949.3L1023.1 950.3L1025.9 951.3L1028.7 952.4L1031.5 953.4L1034.3 954.5L1037.2 955.5L1040.0 956.5L1042.8 957.6L1045.6 958.6L1048.5 959.6L1051.3 960.6L1054.1 961.7L1057.0 962.7L1059.8 963.7L1062.6 964.8L1065.4 965.8L1068.3 966.8L1071.1 967.9L1073.9 968.9L1076.7 970.0L1079.5 971.0L1082.3 972.1L1085.1 973.2L1087.9 974.2L1090.7 975.3L1093.5 976.4L1096.3 977.6L1099.1 978.7L1101.9 979.8L1104.7 981.0L1107.4 982.2L1110.2 983.3L1113.0 984.5L1115.7 985.7L1118.5 986.9L1121.2 988.1L1124.0 989.3L1126.7 990.6L1129.5 991.8L1132.2 993.0L1135.0 994.2L1137.7 995.4L1140.5 996.7L1143.2 997.9L1146.0 999.1L1148.7 1000.3L1151.5 1001.5L1154.3 1002.7L1157.0 1003.9L1159.8 1005.1L1162.6 1006.3L1165.3 1007.5L1168.1 1008.7L1170.8 1009.9L1173.6 1011.1L1176.3 1012.3L1179.1 1013.5L1181.8 1014.7L1184.6 1016.0L1187.3 1017.2L1190.0 1018.5L1192.7 1019.8L1195.4 1021.1L1198.1 1022.4L1200.8 1023.7L1203.5 1025.1L1206.1 1026.5L1208.8 1027.9L1211.4 1029.3L1214.0 1030.7L1216.6 1032.2L1219.2 1033.7L1221.8 1035.2L1224.4 1036.8L1226.9 1038.4L1229.4 1040.0L1232.0 1041.6L1234.5 1043.2L1237.0 1044.9L1239.5 1046.5L1242.0 1048.2L1244.5 1049.9L1246.9 1051.6L1249.4 1053.4L1251.9 1055.1L1254.3 1056.9L1256.8 1058.6L1259.3 1060.4L1261.7 1062.2L1264.2 1063.9L1266.6 1065.7L1269.0 1067.5L1271.5 1069.3L1273.9 1071.1L1276.4 1072.9L1278.8 1074.7L1281.3 1076.4L1283.8 1078.2L1286.2 1080.0L1288.7 1081.8L1291.1 1083.6L1293.5 1085.4L1295.9 1087.2L1298.3 1089.0L1300.7 1090.9L1302.9 1092.8L1305.2 1094.8L1307.4 1096.8L1309.5 1098.9L1311.5 1101.0L1313.5 1103.2L1315.3 1105.4L1317.1 1107.8L1318.8 1110.2L1320.4 1112.7L1321.9 1115.2L1323.2 1117.9L1324.5 1120.5L1325.7 1123.3L1326.7 1126.1L1327.7 1129.0L1328.5 1131.9L1329.2 1134.9L1329.8 1138.0L1330.3 1141.1L1330.7 1144.2L1330.9 1147.4L196.1 1147.4Z" fill="#2D8CF3"/>
<path d="M196.1 494.0L197.0 490.9L197.7 487.8L198.4 484.7L199.0 481.5L199.5 478.4L200.0 475.3L200.5 472.1L200.9 468.9L201.2 465.8L201.6 462.6L202.0 459.4L202.3 456.3L202.7 453.1L203.1 449.9L203.5 446.8L203.9 443.6L204.4 440.5L205.0 437.3L205.6 434.2L207.3 433.7L208.9 433.4L210.6 433.4L212.3 433.7L214.0 434.2L215.7 436.7L217.4 439.2L218.9 441.7L220.4 444.3L221.9 446.9L223.3 449.6L224.6 452.3L225.9 455.0L227.1 457.7L228.4 460.4L229.6 463.1L230.8 465.9L232.0 468.7L233.1 471.4L234.3 474.2L235.5 477.0L236.6 479.8L237.7 482.6L238.9 485.3L240.0 488.1L241.2 490.9L242.3 493.7L243.4 496.5L244.5 499.3L245.7 502.1L246.8 504.9L248.0 507.7L249.1 510.5L250.3 513.3L251.4 516.1L252.6 518.9L253.8 521.7L254.9 524.4L256.2 527.2L257.4 530.0L258.6 532.7L259.8 535.5L261.1 538.2L262.4 540.9L263.7 543.6L265.0 546.4L266.3 549.0L267.7 551.7L269.0 554.4L270.4 557.1L271.9 559.7L273.3 562.4L274.7 565.0L276.2 567.6L277.7 570.2L279.2 572.8L280.7 575.4L282.3 578.0L283.9 580.5L285.4 583.1L287.0 585.6L288.7 588.1L290.3 590.7L292.0 593.2L293.6 595.6L295.3 598.1L297.0 600.6L298.8 603.0L300.5 605.5L302.3 607.9L304.1 610.3L305.9 612.7L307.7 615.1L309.5 617.5L311.4 619.8L313.3 622.2L315.2 624.5L317.1 626.9L319.0 629.2L320.9 631.5L322.9 633.8L324.8 636.0L326.8 638.3L328.8 640.5L330.9 642.8L332.9 645.0L335.0 647.2L337.0 649.4L339.1 651.5L341.2 653.7L343.3 655.9L345.5 658.0L347.6 660.1L349.8 662.2L352.0 664.3L354.2 666.4L356.4 668.4L358.6 670.4L360.9 672.5L363.1 674.5L365.4 676.4L367.7 678.4L370.0 680.3L372.3 682.3L374.6 684.2L377.0 686.0L379.3 687.9L381.7 689.7L384.1 691.6L386.5 693.3L389.0 695.1L391.4 696.9L393.8 698.6L396.3 700.3L398.8 702.0L401.3 703.7L403.8 705.3L406.3 707.0L408.8 708.6L411.3 710.2L413.9 711.8L416.4 713.4L419.0 715.0L421.5 716.5L424.1 718.1L426.7 719.6L429.3 721.2L431.9 722.7L434.5 724.2L437.1 725.7L439.7 727.2L442.3 728.7L444.9 730.2L447.5 731.7L450.1 733.2L452.8 734.7L455.4 736.1L458.0 737.6L460.6 739.1L463.3 740.6L465.9 742.1L468.5 743.5L471.1 745.0L473.8 746.5L476.4 747.9L479.1 749.3L481.7 750.7L484.4 752.1L487.1 753.4L489.8 754.8L492.5 756.1L495.2 757.3L498.0 758.5L500.8 759.7L503.5 760.8L506.3 761.9L509.2 763.0L512.0 764.0L514.8 765.0L517.7 766.0L520.5 766.9L523.4 767.9L526.2 768.8L529.1 769.8L532.0 770.7L534.8 771.7L537.7 772.6L540.5 773.6L543.4 774.6L546.2 775.6L549.0 776.7L551.8 777.7L554.6 778.8L557.5 779.9L560.2 781.0L563.0 782.1L565.8 783.2L568.6 784.3L571.4 785.4L574.2 786.6L576.9 787.7L579.7 788.9L582.5 790.1L585.3 791.2L588.0 792.4L590.8 793.6L593.5 794.8L596.3 795.9L599.1 797.1L601.8 798.3L604.6 799.5L607.4 800.7L610.1 801.8L612.9 803.0L615.7 804.2L618.4 805.3L621.2 806.5L624.0 807.6L626.8 808.8L629.6 809.9L632.3 811.0L635.1 812.1L637.9 813.3L640.7 814.4L643.5 815.5L646.3 816.7L649.1 817.8L651.8 818.9L654.6 820.1L657.4 821.2L660.2 822.4L662.9 823.6L665.7 824.7L668.5 825.9L671.2 827.1L674.0 828.3L676.7 829.6L679.4 830.8L682.2 832.1L684.9 833.3L687.6 834.6L690.3 835.9L693.0 837.2L695.7 838.5L698.4 839.8L701.1 841.1L703.8 842.4L706.5 843.7L709.2 845.1L711.9 846.4L714.6 847.7L717.3 849.1L720.0 850.5L722.6 851.8L725.3 853.2L728.0 854.6L730.7 855.9L733.3 857.3L736.0 858.7L738.7 860.1L741.4 861.5L744.0 862.8L746.7 864.2L749.4 865.6L752.0 867.0L754.7 868.4L757.4 869.8L760.1 871.1L762.7 872.5L765.4 873.9L768.1 875.3L770.8 876.6L773.5 878.0L776.1 879.4L778.8 880.7L781.5 882.1L784.2 883.4L786.9 884.8L789.6 886.1L792.3 887.4L795.0 888.8L797.7 890.1L800.4 891.4L803.1 892.7L805.9 894.0L808.6 895.2L811.3 896.5L814.0 897.8L816.8 899.1L819.5 900.3L822.2 901.6L825.0 902.9L827.7 904.1L830.4 905.4L833.2 906.7L835.9 907.9L838.6 909.2L841.4 910.5L844.1 911.8L846.8 913.1L849.5 914.4L852.2 915.7L854.9 917.0L857.6 918.3L860.3 919.6L863.0 921.0L865.7 922.3L868.4 923.7L871.0 925.0L873.7 926.4L876.3 927.8L879.0 929.2L881.6 930.6L884.3 932.1L886.9 933.5L889.6 934.9L892.2 936.4L894.8 937.8L897.4 939.3L900.1 940.7L902.7 942.2L905.3 943.7L907.9 945.2L910.5 946.7L913.1 948.2L915.7 949.7L918.3 951.2L920.9 952.7L923.5 954.3L926.0 955.8L928.6 957.3L931.2 958.9L933.8 960.4L936.4 961.9L939.0 963.5L941.5 965.1L944.1 966.6L946.7 968.2L949.3 969.7L951.8 971.3L954.4 972.9L957.0 974.5L959.6 976.0L962.1 977.6L964.7 979.2L967.2 980.8L969.8 982.4L972.3 984.1L974.9 985.7L977.4 987.3L979.9 989.0L982.4 990.6L985.0 992.3L987.5 993.9L990.0 995.6L992.5 997.3L995.0 999.0L997.4 1000.7L999.9 1002.4L1002.4 1004.2L1004.8 1005.9L1007.3 1007.7L1009.7 1009.4L1012.1 1011.2L1014.5 1013.0L1016.9 1014.8L1019.3 1016.6L1021.7 1018.5L1024.0 1020.3L1026.4 1022.2L1028.7 1024.1L1031.1 1026.0L1033.4 1027.9L1035.7 1029.8L1038.0 1031.7L1040.2 1033.7L1042.5 1035.7L1044.7 1037.7L1047.0 1039.7L1049.2 1041.7L1051.4 1043.8L1053.5 1045.8L1055.7 1047.9L1057.8 1050.0L1060.0 1052.2L1062.1 1054.3L1064.2 1056.5L1066.2 1058.7L1068.3 1060.9L1070.3 1063.1L1072.3 1065.4L1074.3 1067.7L1076.3 1070.0L1078.2 1072.3L1080.1 1074.7L1081.9 1077.1L1083.7 1079.5L1085.5 1081.9L1087.2 1084.4L1088.9 1086.9L1090.5 1089.4L1092.0 1092.0L1093.5 1094.6L1094.9 1097.2L1096.2 1099.9L1097.5 1102.6L1098.6 1105.4L1099.8 1108.2L1100.8 1111.0L1101.9 1113.8L1102.9 1116.6L1103.9 1119.4L1104.8 1122.3L1105.8 1125.1L1106.8 1128.0L1107.8 1130.8L1108.9 1133.7L1110.0 1136.5L1111.1 1139.2L1112.3 1142.0L1113.6 1144.7L1115.0 1147.4L196.1 1147.4Z" fill="#1CAADF"/>
<path d="M241.2 1147.4L241.4 1144.4L241.6 1141.4L241.8 1138.4L242.0 1135.4L242.2 1132.4L242.3 1129.4L242.5 1126.4L242.7 1123.4L242.9 1120.4L243.1 1117.4L243.3 1114.4L243.4 1111.4L243.6 1108.4L243.8 1105.4L244.0 1102.4L244.2 1099.4L244.3 1096.4L244.5 1093.3L244.7 1090.3L244.8 1087.3L245.0 1084.3L245.2 1081.3L245.3 1078.3L245.5 1075.3L245.7 1072.3L245.8 1069.3L246.0 1066.3L246.1 1063.3L246.3 1060.3L246.5 1057.3L246.6 1054.3L246.8 1051.3L246.9 1048.3L247.1 1045.3L247.2 1042.2L247.4 1039.2L247.5 1036.2L247.7 1033.2L247.8 1030.2L248.0 1027.2L248.1 1024.2L248.2 1021.2L248.4 1018.2L248.5 1015.2L248.7 1012.2L248.8 1009.2L248.9 1006.2L249.1 1003.1L249.2 1000.1L249.3 997.1L249.5 994.1L249.6 991.1L249.7 988.1L249.9 985.1L250.0 982.1L250.1 979.1L250.2 976.1L250.4 973.1L250.5 970.1L250.6 967.0L250.7 964.0L250.8 961.0L250.9 958.0L251.1 955.0L251.2 952.0L251.3 949.0L251.4 946.0L251.5 943.0L251.6 940.0L251.7 936.9L251.8 933.9L251.9 930.9L252.1 927.9L252.2 924.9L252.3 921.9L252.4 918.9L252.5 915.9L252.6 912.9L252.7 909.9L252.8 906.9L252.9 903.8L253.0 900.8L253.0 897.8L253.1 894.8L253.2 891.8L253.3 888.8L253.4 885.8L253.5 882.8L253.6 879.8L253.7 876.8L253.8 873.7L253.9 870.7L253.9 867.7L254.0 864.7L254.1 861.7L254.2 858.7L254.3 855.7L254.3 852.7L254.4 849.7L254.5 846.6L254.6 843.6L254.6 840.6L254.7 837.6L254.8 834.6L254.9 831.6L254.9 828.6L255.0 825.6L255.1 822.6L255.1 819.6L255.2 816.6L255.3 813.5L255.3 810.5L255.4 807.5L255.5 804.5L255.5 801.5L255.6 798.5L255.6 795.5L255.7 792.5L255.8 789.5L255.8 786.5L255.9 783.5L255.9 780.4L256.0 777.4L256.0 774.4L256.1 771.4L256.1 768.4L256.2 765.4L256.2 762.4L256.3 759.4L256.3 756.4L256.4 753.4L256.4 750.4L256.5 747.3L256.5 744.3L256.6 741.3L256.6 738.3L256.6 735.3L256.7 732.3L256.7 729.3L256.8 726.3L256.8 723.3L256.8 720.3L256.9 717.3L256.9 714.3L256.9 711.3L257.0 708.3L257.0 705.3L257.0 702.2L257.1 699.2L257.1 696.2L257.1 693.2L257.1 690.2L257.2 687.2L257.2 684.2L257.2 681.2L257.2 678.2L257.3 675.2L257.3 672.2L257.4 669.2L257.4 666.2L257.5 663.2L257.6 660.2L257.7 657.2L257.9 654.2L258.1 651.2L258.3 648.2L258.6 645.2L258.9 642.1L259.3 639.1L259.7 636.1L260.2 633.1L260.7 630.1L261.3 627.1L262.0 624.1L262.8 621.1L263.6 618.1L264.5 615.1L265.6 612.1L266.7 609.3L268.1 606.8L269.8 604.6L271.8 603.0L274.1 601.9L276.7 601.4L279.4 601.5L282.2 602.0L285.1 603.1L287.8 604.5L290.4 606.2L293.0 608.1L295.4 610.0L297.7 612.0L300.0 614.0L302.2 616.1L304.3 618.3L306.4 620.4L308.5 622.6L310.6 624.8L312.7 627.0L314.7 629.2L316.8 631.4L318.9 633.6L320.9 635.8L323.0 638.0L325.1 640.2L327.1 642.4L329.2 644.6L331.3 646.8L333.4 649.0L335.5 651.1L337.6 653.3L339.7 655.5L341.8 657.6L343.9 659.7L346.0 661.9L348.2 664.0L350.4 666.1L352.5 668.2L354.7 670.2L356.9 672.3L359.1 674.3L361.4 676.3L363.6 678.3L365.9 680.2L368.2 682.1L370.5 684.0L372.9 685.9L375.2 687.8L377.6 689.6L380.0 691.4L382.4 693.1L384.9 694.8L387.4 696.5L389.9 698.2L392.4 699.8L394.9 701.5L397.5 703.0L400.1 704.6L402.7 706.2L405.3 707.7L407.9 709.3L410.5 710.8L413.1 712.3L415.7 713.8L418.3 715.3L420.9 716.8L423.5 718.3L426.1 719.8L428.7 721.4L431.3 722.9L433.9 724.4L436.5 725.9L439.1 727.4L441.7 728.9L444.3 730.4L446.9 732.0L449.5 733.5L452.1 735.0L454.7 736.5L457.3 738.0L459.9 739.5L462.6 741.0L465.2 742.5L467.8 744.0L470.4 745.5L473.1 746.9L475.7 748.4L478.4 749.8L481.1 751.2L483.7 752.6L486.4 753.9L489.1 755.2L491.9 756.5L494.6 757.7L497.4 758.9L500.1 760.1L502.9 761.2L505.7 762.2L508.6 763.3L511.4 764.2L514.3 765.2L517.1 766.1L520.0 767.1L522.9 768.0L525.7 768.9L528.6 769.8L531.5 770.7L534.4 771.6L537.2 772.5L540.1 773.4L543.0 774.4L545.8 775.3L548.7 776.3L551.5 777.4L554.4 778.4L557.2 779.5L560.0 780.5L562.8 781.7L565.6 782.8L568.4 783.9L571.1 785.1L573.9 786.3L576.6 787.6L579.4 788.8L582.1 790.1L584.8 791.4L587.5 792.7L590.2 794.0L592.8 795.4L595.5 796.7L598.2 798.1L600.8 799.4L603.5 800.8L606.1 802.2L608.8 803.6L611.5 804.9L614.2 806.3L616.9 807.6L619.6 808.9L622.3 810.3L625.0 811.6L627.8 812.8L630.5 814.1L633.3 815.4L636.0 816.7L638.8 818.0L641.5 819.3L644.2 820.6L646.9 821.9L649.6 823.3L652.3 824.6L655.0 826.0L657.7 827.4L660.4 828.8L663.0 830.2L665.7 831.6L668.3 833.1L670.9 834.5L673.6 836.0L676.2 837.4L678.8 838.9L681.4 840.4L684.0 841.9L686.6 843.4L689.2 844.9L691.8 846.4L694.4 848.0L696.9 849.5L699.5 851.1L702.0 852.6L704.6 854.2L707.1 855.8L709.7 857.4L712.2 859.0L714.8 860.6L717.3 862.2L719.8 863.8L722.3 865.4L724.9 867.0L727.4 868.7L729.9 870.3L732.4 871.9L734.9 873.6L737.4 875.3L739.9 876.9L742.4 878.6L744.9 880.2L747.4 881.9L749.9 883.6L752.4 885.3L754.9 887.0L757.3 888.6L759.8 890.3L762.3 892.0L764.8 893.7L767.3 895.4L769.8 897.1L772.3 898.8L774.7 900.5L777.2 902.2L779.7 903.9L782.2 905.6L784.7 907.3L787.2 909.0L789.7 910.7L792.2 912.5L794.7 914.2L797.1 915.9L799.6 917.6L802.1 919.3L804.6 921.0L807.2 922.7L809.7 924.4L812.2 926.1L814.7 927.8L817.2 929.5L819.7 931.2L822.2 932.9L824.7 934.6L827.2 936.3L829.7 938.0L832.2 939.7L834.7 941.5L837.2 943.2L839.6 944.9L842.1 946.7L844.6 948.4L847.1 950.2L849.5 951.9L852.0 953.7L854.4 955.4L856.9 957.2L859.3 959.0L861.7 960.8L864.1 962.6L866.6 964.4L868.9 966.3L871.3 968.1L873.7 969.9L876.1 971.8L878.4 973.7L880.8 975.5L883.1 977.4L885.4 979.3L887.7 981.3L890.0 983.2L892.3 985.1L894.5 987.1L896.8 989.1L899.0 991.1L901.2 993.1L903.4 995.1L905.6 997.1L907.7 999.2L909.9 1001.3L912.0 1003.3L914.1 1005.5L916.2 1007.6L918.3 1009.7L920.3 1011.9L922.3 1014.1L924.3 1016.3L926.3 1018.5L928.3 1020.8L930.2 1023.0L932.1 1025.3L934.0 1027.7L935.9 1030.0L937.7 1032.4L939.5 1034.7L941.3 1037.1L943.1 1039.6L944.8 1042.0L946.5 1044.5L948.2 1047.0L949.9 1049.6L951.5 1052.1L953.1 1054.7L954.7 1057.3L956.2 1059.9L957.8 1062.6L959.2 1065.2L960.7 1067.9L962.1 1070.6L963.5 1073.3L964.9 1076.1L966.2 1078.8L967.5 1081.6L968.8 1084.4L970.1 1087.1L971.3 1089.9L972.4 1092.8L973.6 1095.6L974.7 1098.4L975.8 1101.3L976.8 1104.1L977.8 1107.0L978.8 1109.8L979.8 1112.7L980.7 1115.6L981.6 1118.5L982.4 1121.4L983.2 1124.3L984.0 1127.2L984.7 1130.0L985.4 1132.9L986.0 1135.8L986.7 1138.7L987.2 1141.6L987.8 1144.5L988.3 1147.4Z" fill="#12BEB9"/>
<path d="M286.4 1147.4L286.7 1144.4L286.9 1141.4L287.2 1138.4L287.4 1135.4L287.7 1132.4L287.9 1129.4L288.1 1126.3L288.4 1123.3L288.6 1120.3L288.8 1117.3L289.1 1114.3L289.3 1111.3L289.5 1108.3L289.7 1105.3L289.9 1102.3L290.1 1099.3L290.3 1096.3L290.5 1093.3L290.7 1090.3L290.9 1087.3L291.1 1084.3L291.3 1081.2L291.4 1078.2L291.6 1075.2L291.8 1072.2L292.0 1069.2L292.1 1066.2L292.3 1063.2L292.5 1060.2L292.6 1057.2L292.8 1054.2L292.9 1051.2L293.1 1048.2L293.2 1045.2L293.4 1042.2L293.5 1039.2L293.7 1036.2L293.8 1033.2L294.0 1030.1L294.1 1027.1L294.3 1024.1L294.4 1021.1L294.5 1018.1L294.7 1015.1L294.8 1012.1L294.9 1009.1L295.1 1006.1L295.2 1003.1L295.3 1000.1L295.5 997.1L295.6 994.1L295.7 991.1L295.8 988.1L296.0 985.1L296.1 982.1L296.2 979.1L296.4 976.1L296.5 973.0L296.6 970.0L296.7 967.0L296.9 964.0L297.0 961.0L297.1 958.0L297.2 955.0L297.4 952.0L297.5 949.0L297.6 946.0L297.7 943.0L297.9 940.0L298.0 937.0L298.1 934.0L298.3 931.0L298.4 928.0L298.5 925.0L298.7 922.0L298.8 919.0L298.9 916.0L299.1 913.0L299.2 910.0L299.4 906.9L299.5 903.9L299.6 900.9L299.8 897.9L299.9 894.9L300.1 891.9L300.2 888.9L300.4 885.9L300.6 882.9L300.7 879.9L300.9 876.9L301.0 873.9L301.2 870.9L301.4 867.9L301.5 864.9L301.7 861.9L301.9 858.9L302.1 855.9L302.3 852.9L302.4 849.9L302.6 846.9L302.8 843.9L303.0 840.8L303.2 837.8L303.4 834.8L303.6 831.8L303.8 828.8L304.0 825.8L304.3 822.8L304.5 819.8L304.7 816.8L304.9 813.8L305.2 810.8L305.4 807.8L305.6 804.8L305.9 801.8L306.1 798.8L306.4 795.8L306.6 792.8L306.9 789.8L307.2 786.8L307.4 783.8L307.7 780.8L308.0 777.8L308.3 774.8L308.6 771.7L308.9 768.7L309.2 765.7L309.5 762.7L309.8 759.7L310.1 756.7L310.4 753.7L310.8 750.7L311.1 747.7L311.5 744.7L311.8 741.7L312.2 738.7L312.6 735.7L313.1 732.7L313.6 729.8L314.1 726.8L314.7 723.8L315.3 720.9L316.1 717.9L316.9 715.0L317.7 712.1L318.7 709.2L319.7 706.4L320.9 703.5L322.2 700.7L323.5 697.9L325.0 695.3L326.7 692.7L328.4 690.4L330.4 688.3L332.5 686.5L334.8 685.0L337.3 683.8L340.0 683.0L342.7 682.4L345.6 682.1L348.6 682.1L351.6 682.3L354.6 682.7L357.7 683.4L360.8 684.2L363.8 685.2L366.8 686.3L369.7 687.5L372.5 688.9L375.2 690.3L377.8 691.8L380.4 693.4L382.9 695.0L385.4 696.7L387.9 698.4L390.3 700.1L392.8 701.8L395.2 703.5L397.7 705.2L400.2 706.8L402.7 708.4L405.2 710.0L407.8 711.6L410.3 713.1L412.9 714.6L415.5 716.1L418.1 717.6L420.7 719.1L423.3 720.6L426.0 722.1L428.6 723.5L431.3 724.9L433.9 726.4L436.6 727.8L439.2 729.2L441.9 730.6L444.6 732.1L447.2 733.5L449.9 734.9L452.6 736.3L455.2 737.8L457.9 739.2L460.6 740.6L463.2 742.1L465.9 743.5L468.5 745.0L471.2 746.4L473.8 747.9L476.5 749.3L479.1 750.7L481.8 752.1L484.5 753.4L487.2 754.8L489.9 756.1L492.6 757.3L495.4 758.5L498.1 759.7L500.9 760.8L503.7 761.9L506.5 762.9L509.4 763.9L512.2 764.9L515.1 765.8L518.0 766.7L520.8 767.6L523.7 768.4L526.6 769.3L529.5 770.1L532.4 771.0L535.3 771.9L538.2 772.8L541.1 773.7L543.9 774.7L546.8 775.6L549.6 776.6L552.5 777.7L555.3 778.7L558.1 779.8L560.9 780.9L563.7 782.1L566.5 783.2L569.2 784.5L572.0 785.7L574.7 786.9L577.4 788.2L580.1 789.6L582.8 790.9L585.4 792.3L588.1 793.7L590.7 795.2L593.3 796.6L596.0 798.1L598.6 799.6L601.2 801.1L603.8 802.6L606.4 804.1L609.0 805.6L611.6 807.1L614.2 808.7L616.8 810.2L619.4 811.7L622.0 813.2L624.6 814.7L627.3 816.1L629.9 817.6L632.5 819.1L635.2 820.5L637.8 822.0L640.4 823.5L643.1 825.0L645.7 826.4L648.3 827.9L650.9 829.5L653.5 831.0L656.1 832.5L658.6 834.1L661.2 835.7L663.7 837.3L666.2 839.0L668.7 840.6L671.2 842.3L673.6 844.1L676.0 845.8L678.5 847.6L680.8 849.4L683.2 851.2L685.6 853.1L687.9 854.9L690.3 856.8L692.6 858.7L695.0 860.6L697.3 862.4L699.6 864.3L702.0 866.2L704.3 868.1L706.7 870.0L709.0 871.9L711.4 873.8L713.7 875.7L716.1 877.6L718.4 879.4L720.8 881.3L723.1 883.2L725.5 885.1L727.8 887.0L730.2 888.9L732.5 890.8L734.8 892.7L737.2 894.6L739.5 896.6L741.9 898.5L744.2 900.4L746.5 902.3L748.9 904.2L751.2 906.2L753.5 908.1L755.8 910.1L758.1 912.0L760.4 914.0L762.7 915.9L765.0 917.9L767.3 919.9L769.6 921.8L771.8 923.8L774.1 925.8L776.4 927.8L778.6 929.8L780.9 931.8L783.1 933.8L785.3 935.9L787.5 937.9L789.7 940.0L791.9 942.0L794.1 944.1L796.3 946.2L798.5 948.3L800.6 950.3L802.8 952.5L804.9 954.6L807.0 956.7L809.2 958.8L811.3 961.0L813.3 963.1L815.4 965.3L817.5 967.5L819.5 969.7L821.5 971.9L823.6 974.1L825.6 976.4L827.6 978.6L829.5 980.9L831.5 983.2L833.4 985.4L835.4 987.7L837.3 990.1L839.2 992.4L841.0 994.7L842.9 997.1L844.8 999.5L846.6 1001.9L848.4 1004.3L850.2 1006.7L851.9 1009.2L853.7 1011.6L855.4 1014.1L857.1 1016.6L858.8 1019.1L860.5 1021.6L862.1 1024.1L863.8 1026.7L865.4 1029.2L866.9 1031.8L868.5 1034.4L870.0 1037.0L871.6 1039.6L873.0 1042.2L874.5 1044.9L875.9 1047.5L877.4 1050.2L878.7 1052.8L880.1 1055.5L881.4 1058.2L882.7 1061.0L884.0 1063.7L885.3 1066.4L886.5 1069.2L887.7 1071.9L888.9 1074.7L890.0 1077.5L891.1 1080.3L892.2 1083.1L893.2 1085.9L894.3 1088.8L895.2 1091.6L896.2 1094.4L897.1 1097.3L898.0 1100.2L898.9 1103.1L899.7 1106.0L900.5 1108.9L901.3 1111.8L902.0 1114.7L902.7 1117.6L903.3 1120.6L904.0 1123.5L904.5 1126.5L905.1 1129.4L905.6 1132.4L906.1 1135.4L906.5 1138.4L906.9 1141.4L907.3 1144.4L907.6 1147.4Z" fill="#48CB86"/>
<path d="M322.2 1147.4L322.4 1144.4L322.6 1141.5L322.8 1138.5L322.9 1135.5L323.1 1132.5L323.3 1129.5L323.4 1126.6L323.6 1123.6L323.8 1120.6L323.9 1117.6L324.1 1114.6L324.2 1111.6L324.4 1108.6L324.5 1105.6L324.7 1102.6L324.8 1099.6L325.0 1096.6L325.1 1093.6L325.3 1090.5L325.4 1087.5L325.5 1084.5L325.7 1081.5L325.8 1078.5L325.9 1075.5L326.1 1072.4L326.2 1069.4L326.3 1066.4L326.4 1063.4L326.6 1060.3L326.7 1057.3L326.8 1054.3L327.0 1051.3L327.1 1048.2L327.2 1045.2L327.3 1042.2L327.5 1039.1L327.6 1036.1L327.7 1033.1L327.9 1030.0L328.0 1027.0L328.1 1024.0L328.3 1020.9L328.4 1017.9L328.5 1014.9L328.7 1011.8L328.8 1008.8L328.9 1005.8L329.1 1002.7L329.2 999.7L329.4 996.7L329.5 993.6L329.7 990.6L329.8 987.6L330.0 984.6L330.2 981.5L330.3 978.5L330.5 975.5L330.7 972.4L330.8 969.4L331.0 966.4L331.2 963.4L331.4 960.4L331.6 957.3L331.8 954.3L332.0 951.3L332.2 948.3L332.4 945.3L332.6 942.3L332.8 939.3L333.0 936.3L333.2 933.2L333.5 930.2L333.7 927.2L333.9 924.2L334.2 921.3L334.4 918.3L334.7 915.3L335.0 912.3L335.2 909.3L335.5 906.3L335.8 903.3L336.1 900.4L336.4 897.4L336.7 894.4L337.0 891.4L337.3 888.5L337.6 885.5L337.9 882.5L338.3 879.6L338.6 876.6L339.0 873.7L339.3 870.7L339.7 867.8L340.1 864.9L340.5 861.9L340.8 859.0L341.2 856.0L341.7 853.1L342.1 850.1L342.5 847.2L342.9 844.2L343.4 841.3L343.9 838.3L344.3 835.4L344.8 832.4L345.3 829.4L345.8 826.4L346.3 823.5L346.9 820.5L347.4 817.5L348.0 814.5L348.6 811.5L349.1 808.4L349.7 805.4L350.4 802.4L351.0 799.3L351.6 796.2L352.3 793.2L353.0 790.1L353.7 787.1L354.5 784.0L355.3 781.0L356.2 778.0L357.1 775.0L358.1 772.1L359.1 769.2L360.2 766.3L361.5 763.5L362.7 760.8L364.1 758.1L365.6 755.5L367.2 752.9L368.9 750.5L370.7 748.1L372.7 745.8L374.7 743.7L376.9 741.6L379.1 739.6L381.5 737.8L383.9 736.2L386.5 734.7L389.1 733.3L391.8 732.1L394.5 731.1L397.3 730.3L400.2 729.6L403.0 729.1L405.9 728.8L408.8 728.6L411.8 728.6L414.7 728.7L417.7 728.9L420.6 729.3L423.6 729.8L426.6 730.4L429.6 731.0L432.5 731.8L435.5 732.7L438.5 733.7L441.4 734.7L444.4 735.8L447.3 736.9L450.2 738.1L453.1 739.3L456.0 740.5L458.8 741.8L461.6 743.1L464.4 744.4L467.1 745.7L469.8 747.0L472.6 748.3L475.2 749.6L477.9 750.9L480.6 752.2L483.3 753.5L486.0 754.7L488.6 756.0L491.3 757.1L494.0 758.3L496.8 759.4L499.5 760.5L502.3 761.6L505.1 762.6L507.9 763.6L510.7 764.5L513.6 765.4L516.5 766.3L519.3 767.2L522.2 768.1L525.1 769.0L528.0 769.8L530.9 770.7L533.8 771.6L536.7 772.5L539.6 773.4L542.5 774.3L545.4 775.3L548.3 776.3L551.1 777.3L553.9 778.3L556.8 779.4L559.6 780.5L562.4 781.7L565.1 782.8L567.9 784.0L570.7 785.3L573.4 786.6L576.1 787.9L578.8 789.2L581.4 790.6L584.1 792.1L586.7 793.6L589.3 795.1L591.9 796.6L594.4 798.2L597.0 799.8L599.5 801.4L602.1 803.0L604.6 804.7L607.1 806.4L609.6 808.0L612.1 809.7L614.6 811.4L617.1 813.1L619.7 814.8L622.2 816.4L624.7 818.1L627.2 819.8L629.7 821.5L632.2 823.1L634.7 824.8L637.2 826.5L639.6 828.3L642.1 830.0L644.5 831.8L646.9 833.6L649.3 835.4L651.7 837.2L654.1 839.0L656.4 840.9L658.8 842.8L661.1 844.7L663.4 846.6L665.7 848.5L668.0 850.5L670.3 852.5L672.6 854.4L674.9 856.4L677.1 858.4L679.4 860.4L681.6 862.4L683.8 864.5L686.0 866.5L688.3 868.6L690.5 870.6L692.7 872.7L694.9 874.7L697.1 876.8L699.2 878.9L701.4 881.0L703.6 883.0L705.8 885.1L708.0 887.2L710.1 889.3L712.3 891.4L714.5 893.5L716.6 895.6L718.8 897.8L720.9 899.9L723.0 902.0L725.1 904.1L727.3 906.3L729.4 908.4L731.5 910.6L733.6 912.8L735.7 915.0L737.7 917.1L739.8 919.3L741.8 921.5L743.9 923.7L745.9 926.0L748.0 928.2L750.0 930.4L752.0 932.7L754.0 934.9L755.9 937.2L757.9 939.5L759.8 941.8L761.8 944.1L763.7 946.4L765.6 948.8L767.5 951.1L769.4 953.5L771.3 955.8L773.1 958.2L775.0 960.6L776.8 963.0L778.6 965.4L780.4 967.9L782.1 970.3L783.9 972.8L785.6 975.2L787.4 977.7L789.1 980.2L790.8 982.7L792.5 985.2L794.1 987.7L795.7 990.3L797.4 992.8L799.0 995.4L800.6 998.0L802.1 1000.5L803.7 1003.1L805.2 1005.7L806.7 1008.3L808.2 1011.0L809.7 1013.6L811.1 1016.2L812.6 1018.9L814.0 1021.6L815.4 1024.2L816.7 1026.9L818.1 1029.6L819.4 1032.3L820.7 1035.0L822.0 1037.8L823.3 1040.5L824.5 1043.2L825.8 1046.0L827.0 1048.7L828.2 1051.5L829.3 1054.3L830.4 1057.1L831.6 1059.9L832.6 1062.7L833.7 1065.5L834.8 1068.3L835.8 1071.2L836.8 1074.0L837.7 1076.8L838.7 1079.7L839.6 1082.6L840.5 1085.4L841.4 1088.3L842.2 1091.2L843.0 1094.1L843.8 1097.0L844.6 1099.9L845.4 1102.8L846.1 1105.7L846.8 1108.7L847.4 1111.6L848.1 1114.6L848.7 1117.5L849.3 1120.5L849.8 1123.4L850.4 1126.4L850.9 1129.4L851.3 1132.4L851.8 1135.4L852.2 1138.4L852.6 1141.4L853.0 1144.4L853.3 1147.4Z" fill="#9FC942"/>
<path d="M349.0 1147.4L349.2 1144.4L349.3 1141.4L349.5 1138.3L349.6 1135.3L349.8 1132.3L349.9 1129.3L350.1 1126.3L350.2 1123.2L350.4 1120.2L350.5 1117.2L350.7 1114.2L350.8 1111.2L350.9 1108.2L351.1 1105.2L351.2 1102.1L351.4 1099.1L351.5 1096.1L351.6 1093.1L351.8 1090.1L351.9 1087.1L352.1 1084.1L352.2 1081.1L352.3 1078.1L352.5 1075.1L352.6 1072.1L352.8 1069.1L352.9 1066.1L353.1 1063.1L353.2 1060.1L353.4 1057.1L353.5 1054.1L353.6 1051.1L353.8 1048.1L353.9 1045.1L354.1 1042.1L354.3 1039.1L354.4 1036.1L354.6 1033.1L354.7 1030.1L354.9 1027.1L355.1 1024.1L355.2 1021.1L355.4 1018.1L355.6 1015.1L355.8 1012.1L355.9 1009.1L356.1 1006.1L356.3 1003.1L356.5 1000.1L356.7 997.1L356.9 994.1L357.1 991.1L357.3 988.1L357.5 985.1L357.7 982.1L357.9 979.1L358.1 976.1L358.3 973.1L358.6 970.1L358.8 967.1L359.0 964.1L359.3 961.1L359.5 958.1L359.8 955.1L360.0 952.1L360.3 949.1L360.5 946.1L360.8 943.2L361.1 940.2L361.4 937.2L361.6 934.2L361.9 931.2L362.2 928.2L362.5 925.2L362.8 922.2L363.2 919.2L363.5 916.2L363.8 913.2L364.1 910.2L364.5 907.1L364.8 904.1L365.2 901.1L365.5 898.1L365.9 895.1L366.3 892.1L366.7 889.1L367.0 886.1L367.4 883.1L367.8 880.1L368.3 877.1L368.7 874.1L369.1 871.1L369.6 868.1L370.0 865.1L370.5 862.1L371.0 859.1L371.5 856.1L372.0 853.1L372.6 850.1L373.2 847.1L373.8 844.2L374.4 841.2L375.0 838.3L375.7 835.3L376.5 832.4L377.2 829.5L378.0 826.6L378.8 823.7L379.7 820.8L380.6 817.9L381.6 815.1L382.5 812.3L383.6 809.4L384.7 806.6L385.8 803.9L387.0 801.1L388.2 798.4L389.5 795.6L390.9 792.9L392.3 790.2L393.7 787.6L395.2 785.0L396.8 782.3L398.5 779.8L400.2 777.2L402.0 774.8L403.8 772.3L405.8 770.0L407.8 767.8L409.9 765.6L412.1 763.5L414.4 761.6L416.8 759.8L419.3 758.1L421.9 756.6L424.6 755.2L427.3 754.0L430.2 752.9L433.0 752.0L435.9 751.3L438.9 750.7L441.8 750.3L444.7 750.1L447.7 749.9L450.6 750.0L453.5 750.1L456.5 750.3L459.4 750.7L462.4 751.1L465.4 751.7L468.3 752.3L471.3 752.9L474.2 753.7L477.2 754.4L480.2 755.2L483.1 756.1L486.1 756.9L489.0 757.8L492.0 758.6L494.9 759.5L497.9 760.3L500.8 761.2L503.7 762.0L506.6 762.8L509.5 763.7L512.5 764.5L515.4 765.4L518.2 766.3L521.1 767.1L524.0 768.0L526.9 768.9L529.7 769.8L532.6 770.8L535.4 771.7L538.3 772.7L541.1 773.6L543.9 774.6L546.7 775.7L549.5 776.7L552.2 777.8L555.0 778.9L557.8 780.0L560.5 781.2L563.2 782.3L565.9 783.6L568.6 784.8L571.3 786.1L574.0 787.4L576.6 788.8L579.3 790.2L581.9 791.6L584.5 793.1L587.1 794.6L589.6 796.2L592.2 797.8L594.7 799.4L597.3 801.1L599.8 802.8L602.3 804.5L604.8 806.2L607.2 808.0L609.7 809.8L612.1 811.6L614.6 813.5L617.0 815.3L619.4 817.2L621.7 819.1L624.1 821.0L626.5 823.0L628.8 824.9L631.1 826.8L633.4 828.8L635.7 830.8L638.0 832.8L640.3 834.7L642.5 836.7L644.8 838.7L647.0 840.7L649.2 842.7L651.4 844.7L653.6 846.8L655.8 848.8L657.9 850.8L660.1 852.9L662.2 855.0L664.3 857.0L666.4 859.2L668.5 861.3L670.6 863.4L672.7 865.6L674.7 867.7L676.8 869.9L678.8 872.1L680.8 874.4L682.9 876.6L684.9 878.8L686.8 881.1L688.8 883.4L690.8 885.7L692.8 888.0L694.7 890.3L696.6 892.6L698.6 894.9L700.5 897.3L702.4 899.6L704.3 902.0L706.2 904.3L708.1 906.7L709.9 909.1L711.8 911.5L713.7 913.9L715.5 916.3L717.3 918.7L719.2 921.1L721.0 923.5L722.8 925.9L724.6 928.3L726.4 930.8L728.2 933.2L730.0 935.6L731.8 938.0L733.6 940.5L735.4 942.9L737.2 945.3L738.9 947.7L740.7 950.2L742.4 952.6L744.2 955.0L745.9 957.4L747.6 959.9L749.4 962.3L751.0 964.8L752.7 967.3L754.3 969.8L756.0 972.3L757.6 974.9L759.1 977.4L760.7 980.0L762.2 982.6L763.7 985.2L765.2 987.8L766.7 990.4L768.1 993.1L769.6 995.7L771.0 998.4L772.3 1001.1L773.7 1003.8L775.0 1006.5L776.3 1009.2L777.6 1012.0L778.9 1014.7L780.1 1017.5L781.3 1020.3L782.5 1023.1L783.6 1025.8L784.8 1028.7L785.9 1031.5L786.9 1034.3L788.0 1037.1L789.0 1040.0L790.0 1042.8L791.0 1045.7L792.0 1048.6L792.9 1051.5L793.8 1054.3L794.6 1057.2L795.5 1060.1L796.3 1063.1L797.1 1066.0L797.8 1068.9L798.6 1071.8L799.3 1074.8L799.9 1077.7L800.6 1080.7L801.2 1083.6L801.8 1086.6L802.3 1089.5L802.8 1092.5L803.3 1095.5L803.8 1098.5L804.2 1101.4L804.6 1104.4L805.0 1107.4L805.4 1110.4L805.9 1113.3L806.3 1116.3L806.8 1119.2L807.3 1122.2L807.9 1125.1L808.6 1128.0L809.3 1130.9L810.2 1133.7L811.2 1136.5L812.3 1139.3L813.6 1142.0L815.0 1144.7L816.6 1147.4Z" fill="#EABA31"/>
<path d="M367.9 1147.4L368.3 1144.4L368.6 1141.5L369.0 1138.5L369.3 1135.5L369.6 1132.6L369.9 1129.6L370.2 1126.6L370.5 1123.6L370.7 1120.7L371.0 1117.7L371.3 1114.7L371.5 1111.7L371.7 1108.7L371.9 1105.7L372.2 1102.7L372.4 1099.7L372.6 1096.7L372.8 1093.7L372.9 1090.7L373.1 1087.7L373.3 1084.6L373.5 1081.6L373.6 1078.6L373.8 1075.6L373.9 1072.6L374.1 1069.5L374.2 1066.5L374.4 1063.5L374.5 1060.5L374.6 1057.4L374.8 1054.4L374.9 1051.4L375.0 1048.4L375.2 1045.3L375.3 1042.3L375.4 1039.3L375.5 1036.2L375.7 1033.2L375.8 1030.2L375.9 1027.1L376.0 1024.1L376.2 1021.1L376.3 1018.0L376.4 1015.0L376.6 1012.0L376.7 1008.9L376.8 1005.9L377.0 1002.9L377.1 999.8L377.3 996.8L377.4 993.8L377.6 990.7L377.8 987.7L378.0 984.7L378.1 981.6L378.3 978.6L378.5 975.6L378.7 972.6L378.9 969.5L379.1 966.5L379.4 963.5L379.6 960.5L379.8 957.5L380.1 954.4L380.4 951.4L380.6 948.4L380.9 945.4L381.2 942.4L381.5 939.4L381.8 936.4L382.1 933.4L382.5 930.4L382.8 927.4L383.2 924.4L383.6 921.4L384.0 918.4L384.4 915.4L384.8 912.5L385.2 909.5L385.7 906.5L386.2 903.5L386.6 900.6L387.1 897.6L387.7 894.7L388.2 891.7L388.7 888.7L389.3 885.8L389.9 882.8L390.5 879.9L391.1 877.0L391.8 874.0L392.4 871.1L393.1 868.2L393.8 865.3L394.5 862.3L395.3 859.4L396.0 856.5L396.8 853.6L397.6 850.7L398.5 847.8L399.3 844.9L400.2 842.1L401.1 839.2L402.0 836.3L403.0 833.4L404.0 830.6L405.0 827.7L406.0 824.9L407.0 822.0L408.1 819.2L409.2 816.4L410.3 813.5L411.5 810.7L412.7 807.9L413.9 805.1L415.1 802.3L416.4 799.5L417.7 796.7L419.0 793.9L420.4 791.2L421.8 788.5L423.4 785.9L424.9 783.3L426.6 780.9L428.3 778.5L430.2 776.3L432.1 774.1L434.2 772.1L436.4 770.3L438.7 768.6L441.2 767.0L443.8 765.7L446.5 764.5L449.4 763.6L452.4 762.7L455.4 762.0L458.5 761.5L461.7 761.1L464.8 760.8L468.1 760.6L471.3 760.5L474.4 760.6L477.6 760.7L480.7 760.8L483.7 761.1L486.7 761.4L489.7 761.8L492.6 762.2L495.5 762.6L498.4 763.1L501.3 763.6L504.2 764.2L507.1 764.8L510.0 765.4L512.9 766.0L515.8 766.7L518.8 767.4L521.7 768.1L524.6 768.9L527.5 769.6L530.5 770.5L533.4 771.3L536.3 772.2L539.2 773.1L542.1 774.0L545.0 774.9L547.9 775.9L550.7 776.9L553.6 778.0L556.4 779.1L559.2 780.2L562.0 781.4L564.8 782.6L567.5 783.9L570.2 785.2L572.9 786.6L575.5 788.0L578.2 789.5L580.7 791.0L583.3 792.6L585.8 794.2L588.3 795.8L590.8 797.6L593.2 799.3L595.6 801.1L598.0 803.0L600.3 804.9L602.6 806.8L604.9 808.7L607.2 810.7L609.5 812.7L611.8 814.7L614.0 816.7L616.3 818.8L618.5 820.8L620.7 822.9L622.9 825.0L625.1 827.1L627.3 829.2L629.5 831.3L631.7 833.4L633.9 835.4L636.1 837.5L638.3 839.6L640.6 841.7L642.8 843.7L645.0 845.8L647.2 847.8L649.3 849.9L651.4 852.1L653.5 854.2L655.5 856.4L657.5 858.7L659.5 860.9L661.4 863.2L663.2 865.6L665.1 867.9L666.9 870.3L668.7 872.7L670.5 875.1L672.3 877.5L674.0 880.0L675.8 882.4L677.5 884.9L679.2 887.4L680.9 889.8L682.7 892.3L684.4 894.8L686.1 897.3L687.8 899.8L689.5 902.3L691.3 904.8L693.0 907.2L694.7 909.7L696.5 912.2L698.2 914.7L699.9 917.2L701.7 919.7L703.4 922.2L705.1 924.7L706.8 927.2L708.5 929.7L710.2 932.2L711.9 934.7L713.6 937.2L715.2 939.8L716.9 942.3L718.5 944.9L720.1 947.4L721.7 950.0L723.2 952.6L724.8 955.2L726.3 957.8L727.7 960.4L729.2 963.1L730.6 965.7L732.1 968.4L733.5 971.0L734.8 973.7L736.2 976.4L737.5 979.1L738.8 981.8L740.1 984.5L741.4 987.3L742.6 990.0L743.8 992.8L745.0 995.5L746.2 998.3L747.4 1001.1L748.5 1003.8L749.6 1006.6L750.7 1009.4L751.8 1012.3L752.8 1015.1L753.9 1017.9L754.9 1020.7L755.9 1023.6L756.9 1026.4L757.8 1029.3L758.8 1032.1L759.7 1035.0L760.6 1037.9L761.5 1040.8L762.3 1043.7L763.2 1046.6L764.0 1049.5L764.8 1052.4L765.6 1055.3L766.3 1058.2L767.1 1061.1L767.8 1064.1L768.5 1067.0L769.2 1069.9L769.9 1072.9L770.6 1075.8L771.2 1078.8L771.8 1081.7L772.4 1084.7L773.0 1087.6L773.6 1090.6L774.1 1093.6L774.7 1096.6L775.2 1099.5L775.7 1102.5L776.2 1105.5L776.7 1108.5L777.1 1111.5L777.6 1114.5L778.0 1117.4L778.4 1120.4L778.8 1123.4L779.2 1126.4L779.5 1129.4L779.9 1132.4L780.2 1135.4L780.5 1138.4L780.8 1141.4L781.1 1144.4L781.4 1147.4Z" fill="#FAD42E"/>
<path d="M385.5 1147.4L385.6 1144.3L385.7 1141.2L385.8 1138.0L386.0 1134.9L386.1 1131.9L386.2 1128.8L386.3 1125.7L386.5 1122.6L386.6 1119.5L386.8 1116.5L386.9 1113.4L387.0 1110.4L387.2 1107.3L387.3 1104.3L387.5 1101.3L387.7 1098.2L387.8 1095.2L388.0 1092.2L388.2 1089.2L388.3 1086.2L388.5 1083.2L388.7 1080.2L388.9 1077.2L389.1 1074.2L389.3 1071.2L389.5 1068.3L389.7 1065.3L389.9 1062.3L390.1 1059.3L390.3 1056.4L390.5 1053.4L390.7 1050.4L390.9 1047.5L391.2 1044.5L391.4 1041.6L391.6 1038.6L391.9 1035.7L392.1 1032.7L392.4 1029.8L392.6 1026.8L392.9 1023.9L393.1 1020.9L393.4 1018.0L393.7 1015.1L393.9 1012.1L394.2 1009.2L394.5 1006.2L394.8 1003.3L395.0 1000.3L395.3 997.4L395.6 994.4L395.9 991.5L396.2 988.6L396.5 985.6L396.9 982.7L397.2 979.7L397.5 976.8L397.8 973.8L398.2 970.8L398.5 967.9L398.8 964.9L399.2 962.0L399.5 959.0L399.9 956.0L400.2 953.1L400.6 950.1L401.0 947.1L401.3 944.1L401.7 941.1L402.1 938.1L402.5 935.1L402.9 932.1L403.3 929.1L403.7 926.1L404.1 923.1L404.5 920.1L404.9 917.1L405.3 914.1L405.7 911.0L406.2 908.0L406.6 904.9L407.0 901.9L407.5 898.8L407.9 895.8L408.4 892.7L408.8 889.6L409.3 886.5L409.8 883.4L410.2 880.3L410.7 877.2L411.2 874.1L411.7 871.0L412.2 867.9L412.8 864.8L413.3 861.7L413.9 858.6L414.5 855.5L415.1 852.4L415.8 849.3L416.4 846.3L417.2 843.3L418.0 840.3L418.8 837.3L419.6 834.3L420.6 831.4L421.5 828.5L422.5 825.6L423.6 822.8L424.8 820.0L426.0 817.3L427.3 814.6L428.6 812.0L430.0 809.4L431.5 806.8L433.1 804.3L434.8 801.9L436.5 799.5L438.4 797.2L440.3 794.9L442.3 792.8L444.4 790.6L446.6 788.6L448.8 786.6L451.1 784.8L453.5 783.0L455.9 781.2L458.4 779.6L461.0 778.1L463.6 776.6L466.3 775.3L469.0 774.0L471.7 772.9L474.5 771.8L477.4 770.9L480.2 770.1L483.1 769.4L486.1 768.8L489.0 768.3L492.0 767.9L495.0 767.6L498.0 767.4L501.1 767.3L504.1 767.3L507.2 767.4L510.2 767.5L513.3 767.8L516.3 768.1L519.4 768.5L522.4 769.0L525.5 769.5L528.5 770.1L531.5 770.8L534.5 771.5L537.5 772.3L540.5 773.1L543.4 774.0L546.3 775.0L549.2 776.0L552.0 777.0L554.9 778.1L557.7 779.3L560.4 780.5L563.1 781.7L565.8 783.1L568.5 784.5L571.1 785.9L573.6 787.4L576.2 789.0L578.7 790.6L581.1 792.3L583.5 794.0L585.9 795.8L588.3 797.7L590.6 799.6L592.9 801.5L595.1 803.5L597.4 805.5L599.6 807.5L601.8 809.6L604.0 811.6L606.2 813.7L608.4 815.8L610.5 817.9L612.6 820.0L614.8 822.1L616.9 824.2L619.0 826.4L621.1 828.6L623.2 830.7L625.2 832.9L627.3 835.1L629.3 837.4L631.3 839.6L633.3 841.9L635.3 844.1L637.3 846.4L639.2 848.7L641.2 851.0L643.1 853.3L645.0 855.7L647.0 858.0L648.8 860.3L650.7 862.7L652.6 865.1L654.4 867.5L656.3 869.9L658.1 872.3L659.9 874.7L661.7 877.2L663.4 879.6L665.2 882.1L666.9 884.5L668.7 887.0L670.4 889.5L672.1 892.0L673.8 894.5L675.4 897.1L677.1 899.6L678.7 902.1L680.3 904.7L681.9 907.3L683.5 909.8L685.1 912.4L686.7 915.0L688.2 917.6L689.7 920.2L691.2 922.9L692.7 925.5L694.2 928.1L695.7 930.8L697.1 933.4L698.5 936.1L700.0 938.8L701.4 941.4L702.7 944.1L704.1 946.8L705.5 949.5L706.8 952.2L708.1 955.0L709.4 957.7L710.7 960.4L712.0 963.2L713.2 965.9L714.4 968.7L715.7 971.4L716.9 974.2L718.1 977.0L719.2 979.8L720.4 982.5L721.5 985.3L722.6 988.1L723.7 990.9L724.8 993.7L725.9 996.6L726.9 999.4L727.9 1002.2L729.0 1005.0L730.0 1007.9L730.9 1010.7L731.9 1013.6L732.8 1016.4L733.7 1019.3L734.6 1022.1L735.5 1025.0L736.4 1027.9L737.2 1030.8L738.1 1033.7L738.9 1036.6L739.6 1039.5L740.4 1042.4L741.1 1045.3L741.9 1048.2L742.6 1051.1L743.2 1054.0L743.9 1057.0L744.5 1059.9L745.1 1062.9L745.7 1065.8L746.3 1068.8L746.8 1071.7L747.3 1074.7L747.8 1077.7L748.3 1080.7L748.7 1083.7L749.1 1086.7L749.5 1089.7L749.9 1092.7L750.2 1095.7L750.6 1098.8L750.8 1101.8L751.1 1104.8L751.4 1107.9L751.6 1110.9L751.9 1113.9L752.3 1116.9L752.6 1119.9L753.1 1122.9L753.6 1125.8L754.2 1128.7L754.9 1131.6L755.8 1134.4L756.8 1137.1L758.0 1139.8L759.4 1142.4L761.0 1145.0L762.8 1147.4Z" fill="#FFFFFF"/>
</g><g clip-path="url(#ax)" shape-rendering="crispEdges">
<g fill="none" stroke="#000" stroke-width="3.7" stroke-linejoin="miter" stroke-miterlimit="3">
<path d="M196.1 128.0L196.5 131.0L196.8 134.0L197.2 137.0L197.5 140.0L197.9 143.0L198.2 146.0L198.6 149.0L199.0 151.9L199.3 154.9L199.7 157.9L200.1 160.9L200.4 163.9L200.8 166.9L201.2 169.9L201.6 172.9L201.9 175.9L202.3 178.9L202.7 181.8L203.1 184.8L203.5 187.8L203.8 190.8L204.2 193.8L204.6 196.8L205.0 199.8L205.4 202.7L205.8 205.7L206.2 208.7L206.6 211.7L207.0 214.7L207.4 217.6L207.8 220.6L208.3 223.6L208.7 226.6L209.1 229.6L209.5 232.5L209.9 235.5L210.4 238.5L210.8 241.5L211.2 244.4L211.7 247.4L212.1 250.4L212.6 253.4L213.0 256.3L213.5 259.3L213.9 262.3L214.4 265.2L214.8 268.2L215.3 271.2L215.8 274.1L216.3 277.1L216.7 280.1L217.2 283.0L217.7 286.0L218.2 289.0L218.7 291.9L219.2 294.9L219.7 297.9L220.2 300.8L220.7 303.8L221.3 306.7L221.8 309.7L222.3 312.7L222.8 315.6L223.4 318.6L223.9 321.5L224.5 324.5L225.0 327.4L225.6 330.4L226.2 333.3L226.7 336.3L227.3 339.2L227.9 342.2L228.5 345.1L229.1 348.1L229.6 351.0L230.3 354.0L230.9 356.9L231.5 359.8L232.1 362.8L232.7 365.7L233.4 368.7L234.0 371.6L234.6 374.5L235.3 377.5L235.9 380.4L236.6 383.4L237.3 386.3L237.9 389.2L238.6 392.1L239.3 395.1L240.0 398.0L240.7 400.9L241.4 403.9L242.1 406.8L242.9 409.7L243.6 412.6L244.3 415.6L245.1 418.5L245.8 421.4L246.6 424.3L247.3 427.2L248.1 430.1L248.9 433.1L249.7 436.0L250.5 438.9L251.3 441.8L252.1 444.7L252.9 447.6L253.8 450.5L254.6 453.4L255.5 456.3L256.3 459.2L257.2 462.1L258.1 464.9L259.0 467.8L259.9 470.7L260.8 473.6L261.7 476.4L262.7 479.3L263.6 482.2L264.6 485.0L265.6 487.9L266.5 490.7L267.5 493.6L268.5 496.4L269.6 499.3L270.6 502.1L271.6 504.9L272.7 507.8L273.8 510.6L274.8 513.4L275.9 516.2L277.1 519.0L278.2 521.8L279.3 524.6L280.5 527.4L281.6 530.2L282.8 533.0L284.0 535.7L285.2 538.5L286.4 541.2L287.7 544.0L288.9 546.7L290.2 549.5L291.5 552.2L292.8 554.9L294.1 557.7L295.4 560.4L296.8 563.1L298.1 565.8L299.5 568.5L300.9 571.1L302.3 573.8L303.8 576.5L305.2 579.1L306.7 581.8L308.1 584.4L309.6 587.0L311.1 589.6L312.6 592.3L314.2 594.8L315.7 597.4L317.3 600.0L318.9 602.6L320.5 605.1L322.1 607.7L323.8 610.2L325.4 612.7L327.1 615.2L328.8 617.7L330.5 620.2L332.2 622.6L333.9 625.1L335.7 627.5L337.4 630.0L339.2 632.4L341.0 634.8L342.8 637.2L344.7 639.5L346.5 641.9L348.4 644.2L350.3 646.6L352.2 648.9L354.1 651.2L356.1 653.4L358.0 655.7L360.0 657.9L362.0 660.2L364.0 662.4L366.0 664.6L368.1 666.8L370.1 668.9L372.2 671.1L374.3 673.2L376.4 675.3L378.6 677.4L380.7 679.5L382.9 681.5L385.1 683.6L387.3 685.6L389.5 687.6L391.8 689.6L394.0 691.5L396.3 693.5L398.6 695.4L400.9 697.3L403.3 699.2L405.6 701.0L408.0 702.9L410.3 704.7L412.7 706.5L415.2 708.3L417.6 710.0L420.0 711.8L422.5 713.5L425.0 715.2L427.4 716.9L429.9 718.6L432.4 720.3L435.0 721.9L437.5 723.5L440.1 725.1L442.6 726.7L445.2 728.3L447.8 729.9L450.4 731.4L453.0 732.9L455.6 734.4L458.2 735.9L460.9 737.4L463.5 738.9L466.2 740.3L468.8 741.7L471.5 743.1L474.2 744.5L476.9 745.9L479.6 747.3L482.3 748.6L485.0 750.0L487.7 751.3L490.4 752.6L493.2 753.9L495.9 755.2L498.6 756.4L501.4 757.7L504.1 758.9L506.9 760.1L509.7 761.3L512.4 762.5L515.2 763.7L518.0 764.9L520.7 766.0L523.5 767.2L526.3 768.3L529.1 769.4L531.9 770.5L534.7 771.6L537.5 772.7L540.3 773.8L543.1 774.8L545.9 775.8L548.8 776.9L551.6 777.9L554.4 778.9L557.3 779.9L560.1 780.9L562.9 781.9L565.8 782.8L568.6 783.8L571.5 784.7L574.3 785.6L577.2 786.6L580.1 787.5L582.9 788.4L585.8 789.3L588.7 790.1L591.5 791.0L594.4 791.9L597.3 792.7L600.2 793.6L603.1 794.4L606.0 795.2L608.8 796.0L611.7 796.8L614.6 797.6L617.5 798.4L620.4 799.2L623.3 800.0L626.3 800.7L629.2 801.5L632.1 802.2L635.0 803.0L637.9 803.7L640.8 804.4L643.8 805.2L646.7 805.9L649.6 806.6L652.5 807.3L655.5 808.0L658.4 808.6L661.3 809.3L664.3 810.0L667.2 810.6L670.2 811.3L673.1 812.0L676.0 812.6L679.0 813.2L681.9 813.9L684.9 814.5L687.8 815.1L690.8 815.7L693.7 816.4L696.7 817.0L699.6 817.6L702.6 818.2L705.6 818.8L708.5 819.4L711.5 819.9L714.4 820.5L717.4 821.1L720.3 821.7L723.3 822.3L726.3 822.8L729.2 823.4L732.2 823.9L735.2 824.5L738.1 825.1L741.1 825.6L744.1 826.2L747.0 826.7L750.0 827.2L753.0 827.8L755.9 828.3L758.9 828.9L761.9 829.4L764.8 829.9L767.8 830.5L770.8 831.0L773.7 831.5L776.7 832.0L779.7 832.6L782.6 833.1L785.6 833.6L788.6 834.1L791.5 834.6L794.5 835.1L797.5 835.6L800.5 836.1L803.4 836.6L806.4 837.1L809.4 837.6L812.3 838.1L815.3 838.6L818.3 839.1L821.3 839.6L824.2 840.1L827.2 840.6L830.2 841.1L833.1 841.6L836.1 842.0L839.1 842.5L842.1 843.0L845.0 843.5L848.0 843.9L851.0 844.4L853.9 844.9L856.9 845.3L859.9 845.8L862.9 846.3L865.8 846.7L868.8 847.2L871.8 847.6L874.8 848.1L877.7 848.5L880.7 849.0L883.7 849.4L886.7 849.9L889.6 850.3L892.6 850.8L895.6 851.2L898.6 851.6L901.6 852.1L904.5 852.5L907.5 852.9L910.5 853.4L913.5 853.8L916.4 854.2L919.4 854.7L922.4 855.1L925.4 855.5L928.4 855.9L931.3 856.3L934.3 856.8L937.3 857.2L940.3 857.6L943.2 858.0L946.2 858.4L949.2 858.8L952.2 859.2L955.2 859.6L958.1 860.0L961.1 860.4L964.1 860.8L967.1 861.2L970.1 861.6L973.0 862.0L976.0 862.4L979.0 862.8L982.0 863.2L985.0 863.6L988.0 864.0L990.9 864.3L993.9 864.7L996.9 865.1L999.9 865.5L1002.9 865.9L1005.9 866.2L1008.8 866.6L1011.8 867.0L1014.8 867.4L1017.8 867.7L1020.8 868.1L1023.8 868.5L1026.7 868.8L1029.7 869.2L1032.7 869.6L1035.7 869.9L1038.7 870.3L1041.7 870.6L1044.6 871.0L1047.6 871.4L1050.6 871.7L1053.6 872.1L1056.6 872.4L1059.6 872.8L1062.6 873.1L1065.5 873.5L1068.5 873.8L1071.5 874.2L1074.5 874.5L1077.5 874.8L1080.5 875.2L1083.5 875.5L1086.5 875.9L1089.4 876.2L1092.4 876.5L1095.4 876.9L1098.4 877.2L1101.4 877.5L1104.4 877.9L1107.4 878.2L1110.4 878.5L1113.4 878.8L1116.3 879.2L1119.3 879.5L1122.3 879.8L1125.3 880.1L1128.3 880.5L1131.3 880.8L1134.3 881.1L1137.3 881.4L1140.3 881.7L1143.2 882.0L1146.2 882.4L1149.2 882.7L1152.2 883.0L1155.2 883.3L1158.2 883.6L1161.2 883.9L1164.2 884.2L1167.2 884.5L1170.2 884.8L1173.2 885.1L1176.2 885.4L1179.1 885.7L1182.1 886.0L1185.1 886.3L1188.1 886.6L1191.1 886.9L1194.1 887.2L1197.1 887.5L1200.1 887.8L1203.1 888.1L1206.1 888.4L1209.1 888.7L1212.1 889.0L1215.1 889.3L1218.1 889.6L1221.1 889.8L1224.0 890.1L1227.0 890.4L1230.0 890.7L1233.0 891.0L1236.0 891.3L1239.0 891.6L1242.0 891.8L1245.0 892.1L1248.0 892.4L1251.0 892.7L1254.0 893.0L1257.0 893.2L1260.0 893.5L1263.0 893.8L1266.0 894.1L1269.0 894.3L1272.0 894.6L1275.0 894.9L1278.0 895.2L1281.0 895.4L1284.0 895.7L1287.0 896.0L1290.0 896.2L1293.0 896.5L1296.0 896.8L1299.0 897.0L1301.9 897.3L1304.9 897.6L1307.9 897.8L1310.9 898.1L1313.9 898.4L1316.9 898.6L1319.9 898.9L1322.9 899.2L1325.9 899.4L1328.9 899.7L1331.9 899.9L1334.9 900.2L1337.9 900.5L1340.9 900.7L1343.9 901.0L1346.9 901.2L1349.9 901.5L1352.9 901.8L1355.9 902.0L1358.9 902.3L1361.9 902.5L1364.9 902.8L1367.9 903.0L1370.9 903.3L1373.9 903.5L1376.9 903.8L1379.9 904.0L1382.9 904.3L1385.9 904.6L1388.9 904.8L1391.9 905.1L1394.9 905.3L1397.9 905.6L1400.9 905.8L1403.9 906.1L1406.9 906.3L1410.0 906.6L1413.0 906.8L1416.0 907.1L1419.0 907.3L1422.0 907.5L1425.0 907.8L1428.0 908.0L1431.0 908.3L1434.0 908.5L1437.0 908.8L1440.0 909.0L1443.0 909.3L1446.0 909.5L1449.0 909.8L1452.0 910.0L1455.0 910.3L1458.0 910.5"/>
<path d="M196.1 240.0L196.6 242.9L197.2 245.9L197.7 248.8L198.3 251.8L198.8 254.7L199.3 257.7L199.9 260.6L200.4 263.6L200.9 266.5L201.5 269.5L202.0 272.5L202.5 275.4L203.1 278.4L203.6 281.3L204.2 284.3L204.7 287.2L205.2 290.2L205.8 293.1L206.3 296.1L206.9 299.1L207.4 302.0L208.0 305.0L208.5 307.9L209.1 310.9L209.7 313.8L210.2 316.8L210.8 319.8L211.3 322.7L211.9 325.7L212.5 328.6L213.1 331.6L213.7 334.5L214.2 337.5L214.8 340.5L215.4 343.4L216.0 346.4L216.6 349.3L217.2 352.3L217.8 355.2L218.5 358.2L219.1 361.1L219.7 364.1L220.3 367.0L221.0 370.0L221.6 372.9L222.3 375.8L222.9 378.8L223.6 381.7L224.3 384.7L224.9 387.6L225.6 390.5L226.3 393.5L227.0 396.4L227.7 399.3L228.4 402.3L229.1 405.2L229.8 408.1L230.6 411.1L231.3 414.0L232.1 416.9L232.8 419.8L233.6 422.7L234.4 425.7L235.1 428.6L235.9 431.5L236.7 434.4L237.5 437.3L238.3 440.2L239.2 443.1L240.0 446.0L240.9 448.9L241.7 451.8L242.6 454.7L243.5 457.6L244.3 460.5L245.2 463.3L246.1 466.2L247.1 469.1L248.0 472.0L248.9 474.8L249.9 477.7L250.9 480.6L251.8 483.4L252.8 486.3L253.8 489.1L254.8 492.0L255.9 494.8L256.9 497.6L258.0 500.5L259.0 503.3L260.1 506.1L261.2 508.9L262.3 511.7L263.5 514.5L264.6 517.3L265.7 520.1L266.9 522.9L268.1 525.6L269.3 528.4L270.5 531.2L271.8 533.9L273.0 536.7L274.3 539.4L275.5 542.1L276.8 544.9L278.2 547.6L279.5 550.3L280.8 553.0L282.2 555.7L283.6 558.3L285.0 561.0L286.4 563.7L287.8 566.3L289.3 569.0L290.8 571.6L292.2 574.2L293.7 576.9L295.3 579.5L296.8 582.1L298.3 584.6L299.9 587.2L301.5 589.8L303.1 592.3L304.7 594.9L306.3 597.4L308.0 599.9L309.7 602.4L311.3 604.9L313.0 607.4L314.8 609.9L316.5 612.3L318.2 614.8L320.0 617.2L321.8 619.7L323.6 622.1L325.4 624.5L327.2 626.8L329.1 629.2L330.9 631.6L332.8 633.9L334.7 636.2L336.6 638.6L338.6 640.9L340.5 643.1L342.5 645.4L344.4 647.7L346.4 649.9L348.4 652.1L350.5 654.4L352.5 656.6L354.6 658.7L356.6 660.9L358.7 663.0L360.8 665.2L363.0 667.3L365.1 669.4L367.2 671.5L369.4 673.5L371.6 675.6L373.8 677.6L376.0 679.6L378.2 681.6L380.5 683.6L382.8 685.6L385.0 687.5L387.3 689.4L389.6 691.4L392.0 693.2L394.3 695.1L396.7 697.0L399.0 698.8L401.4 700.6L403.8 702.4L406.2 704.2L408.7 706.0L411.1 707.7L413.6 709.4L416.0 711.2L418.5 712.9L421.0 714.5L423.5 716.2L426.0 717.8L428.6 719.5L431.1 721.1L433.7 722.7L436.2 724.3L438.8 725.8L441.4 727.4L444.0 728.9L446.6 730.4L449.2 731.9L451.8 733.4L454.5 734.9L457.1 736.3L459.8 737.8L462.4 739.2L465.1 740.6L467.8 742.0L470.5 743.4L473.2 744.8L475.9 746.1L478.6 747.5L481.3 748.8L484.0 750.1L486.7 751.4L489.5 752.7L492.2 754.0L494.9 755.2L497.7 756.5L500.5 757.7L503.2 758.9L506.0 760.2L508.7 761.3L511.5 762.5L514.3 763.7L517.1 764.9L519.9 766.0L522.7 767.2L525.5 768.3L528.3 769.4L531.1 770.5L533.9 771.6L536.7 772.7L539.5 773.8L542.3 774.8L545.1 775.9L548.0 776.9L550.8 778.0L553.6 779.0L556.5 780.0L559.3 781.0L562.2 782.0L565.0 783.0L567.8 784.0L570.7 785.0L573.5 786.0L576.4 786.9L579.3 787.9L582.1 788.8L585.0 789.8L587.8 790.7L590.7 791.6L593.6 792.6L596.5 793.5L599.3 794.4L602.2 795.3L605.1 796.2L607.9 797.1L610.8 798.0L613.7 798.9L616.6 799.8L619.5 800.7L622.4 801.6L625.2 802.4L628.1 803.3L631.0 804.2L633.9 805.0L636.8 805.9L639.7 806.8L642.6 807.6L645.4 808.5L648.3 809.3L651.2 810.2L654.1 811.0L657.0 811.9L659.9 812.7L662.8 813.6L665.7 814.4L668.6 815.3L671.4 816.1L674.3 816.9L677.2 817.8L680.1 818.6L683.0 819.4L685.9 820.3L688.8 821.1L691.7 821.9L694.6 822.7L697.5 823.5L700.4 824.4L703.3 825.2L706.2 826.0L709.1 826.8L712.0 827.6L714.9 828.4L717.8 829.2L720.7 830.0L723.6 830.8L726.5 831.6L729.4 832.4L732.3 833.2L735.2 834.0L738.1 834.8L741.0 835.5L743.9 836.3L746.8 837.1L749.7 837.9L752.6 838.7L755.5 839.4L758.4 840.2L761.3 841.0L764.3 841.7L767.2 842.5L770.1 843.3L773.0 844.0L775.9 844.8L778.8 845.5L781.7 846.3L784.6 847.0L787.6 847.8L790.5 848.5L793.4 849.3L796.3 850.0L799.2 850.7L802.1 851.5L805.0 852.2L808.0 852.9L810.9 853.7L813.8 854.4L816.7 855.1L819.6 855.8L822.6 856.6L825.5 857.3L828.4 858.0L831.3 858.7L834.3 859.4L837.2 860.1L840.1 860.8L843.0 861.6L845.9 862.3L848.9 863.0L851.8 863.7L854.7 864.4L857.7 865.1L860.6 865.8L863.5 866.5L866.4 867.2L869.4 867.9L872.3 868.5L875.2 869.2L878.2 869.9L881.1 870.6L884.0 871.3L886.9 872.0L889.9 872.7L892.8 873.3L895.7 874.0L898.7 874.7L901.6 875.4L904.5 876.0L907.5 876.7L910.4 877.4L913.3 878.0L916.3 878.7L919.2 879.4L922.1 880.0L925.1 880.7L928.0 881.4L931.0 882.0L933.9 882.7L936.8 883.3L939.8 884.0L942.7 884.7L945.6 885.3L948.6 886.0L951.5 886.6L954.5 887.3L957.4 887.9L960.3 888.6L963.3 889.2L966.2 889.8L969.2 890.5L972.1 891.1L975.0 891.8L978.0 892.4L980.9 893.1L983.9 893.7L986.8 894.3L989.8 895.0L992.7 895.6L995.6 896.2L998.6 896.9L1001.5 897.5L1004.5 898.1L1007.4 898.8L1010.4 899.4L1013.3 900.0L1016.3 900.7L1019.2 901.3L1022.2 901.9L1025.1 902.5L1028.0 903.2L1031.0 903.8L1033.9 904.4L1036.9 905.0L1039.8 905.7L1042.8 906.3L1045.7 906.9L1048.7 907.5L1051.6 908.1L1054.6 908.8L1057.5 909.4L1060.5 910.0L1063.4 910.6L1066.4 911.2L1069.3 911.8L1072.3 912.5L1075.2 913.1L1078.2 913.7L1081.1 914.3L1084.1 914.9L1087.0 915.5L1090.0 916.1L1092.9 916.8L1095.9 917.4L1098.8 918.0L1101.8 918.6L1104.7 919.2L1107.7 919.8L1110.6 920.4L1113.6 921.0L1116.5 921.6L1119.5 922.3L1122.4 922.9L1125.4 923.5L1128.3 924.1L1131.3 924.7L1134.2 925.3L1137.2 925.9L1140.1 926.5L1143.1 927.1L1146.0 927.7L1149.0 928.3L1151.9 928.9L1154.9 929.5L1157.8 930.2L1160.8 930.8L1163.7 931.4L1166.7 932.0L1169.6 932.6L1172.6 933.2L1175.5 933.8L1178.5 934.4L1181.4 935.0L1184.4 935.6L1187.3 936.2L1190.3 936.8L1193.2 937.4L1196.2 938.1L1199.1 938.7L1202.1 939.3L1205.0 939.9L1208.0 940.5L1210.9 941.1L1213.9 941.7L1216.8 942.3L1219.8 942.9L1222.7 943.5L1225.7 944.2L1228.6 944.8L1231.6 945.4L1234.5 946.0L1237.5 946.6L1240.4 947.2L1243.4 947.8L1246.3 948.4L1249.3 949.1L1252.2 949.7L1255.2 950.3L1258.1 950.9L1261.1 951.5L1264.0 952.1L1267.0 952.8L1269.9 953.4L1272.8 954.0L1275.8 954.6L1278.7 955.2L1281.7 955.9L1284.6 956.5L1287.6 957.1L1290.5 957.7L1293.5 958.3L1296.4 959.0L1299.4 959.6L1302.3 960.2L1305.3 960.8L1308.2 961.5L1311.1 962.1L1314.1 962.7L1317.0 963.4L1320.0 964.0L1322.9 964.6L1325.9 965.3L1328.8 965.9L1331.8 966.5L1334.7 967.2L1337.6 967.8L1340.6 968.4L1343.5 969.1L1346.5 969.7L1349.4 970.4L1352.3 971.0L1355.3 971.6L1358.2 972.3L1361.2 972.9L1364.1 973.6L1367.1 974.2L1370.0 974.9L1372.9 975.5L1375.9 976.2L1378.8 976.8L1381.7 977.5L1384.7 978.1L1387.6 978.8L1390.6 979.5L1393.5 980.1L1396.4 980.8L1399.4 981.4L1402.3 982.1L1405.2 982.8L1408.2 983.4L1411.1 984.1L1414.0 984.8L1417.0 985.4L1419.9 986.1L1422.8 986.8L1425.8 987.5L1428.7 988.1L1431.6 988.8L1434.6 989.5L1437.5 990.2L1440.4 990.9L1443.4 991.6L1446.3 992.2L1449.2 992.9L1452.1 993.6L1455.1 994.3L1458.0 995.0"/>
<path d="M196.1 298.0L196.7 300.9L197.3 303.9L197.9 306.8L198.4 309.8L199.0 312.7L199.6 315.7L200.2 318.6L200.8 321.6L201.4 324.5L202.0 327.5L202.6 330.4L203.2 333.4L203.8 336.3L204.4 339.3L205.0 342.2L205.7 345.2L206.3 348.1L206.9 351.0L207.5 354.0L208.2 356.9L208.8 359.9L209.5 362.8L210.1 365.7L210.8 368.7L211.4 371.6L212.1 374.5L212.7 377.5L213.4 380.4L214.1 383.3L214.8 386.3L215.5 389.2L216.2 392.1L216.9 395.0L217.6 398.0L218.3 400.9L219.0 403.8L219.8 406.7L220.5 409.6L221.3 412.5L222.0 415.4L222.8 418.4L223.6 421.3L224.4 424.2L225.2 427.1L226.0 429.9L226.8 432.8L227.6 435.7L228.5 438.6L229.3 441.5L230.2 444.4L231.0 447.3L231.9 450.1L232.8 453.0L233.7 455.9L234.6 458.7L235.5 461.6L236.5 464.4L237.4 467.3L238.4 470.1L239.3 473.0L240.3 475.8L241.3 478.7L242.3 481.5L243.4 484.3L244.4 487.1L245.4 490.0L246.5 492.8L247.6 495.6L248.7 498.4L249.8 501.2L250.9 504.0L252.0 506.8L253.2 509.6L254.4 512.3L255.5 515.1L256.7 517.9L257.9 520.6L259.2 523.4L260.4 526.1L261.7 528.9L262.9 531.6L264.2 534.4L265.5 537.1L266.8 539.8L268.2 542.5L269.5 545.2L270.9 547.9L272.2 550.6L273.6 553.3L275.0 555.9L276.5 558.6L277.9 561.2L279.4 563.9L280.8 566.5L282.3 569.1L283.8 571.7L285.3 574.3L286.9 576.9L288.4 579.5L290.0 582.1L291.6 584.6L293.2 587.2L294.8 589.7L296.4 592.3L298.1 594.8L299.7 597.3L301.4 599.8L303.1 602.2L304.8 604.7L306.6 607.2L308.3 609.6L310.1 612.0L311.8 614.5L313.6 616.9L315.5 619.2L317.3 621.6L319.1 624.0L321.0 626.3L322.9 628.7L324.8 631.0L326.7 633.3L328.6 635.6L330.6 637.9L332.5 640.1L334.5 642.4L336.5 644.6L338.5 646.8L340.6 649.0L342.6 651.2L344.7 653.3L346.8 655.5L348.9 657.6L351.0 659.7L353.2 661.8L355.3 663.9L357.5 666.0L359.7 668.0L361.9 670.0L364.2 672.1L366.4 674.0L368.7 676.0L370.9 678.0L373.2 679.9L375.5 681.9L377.9 683.8L380.2 685.7L382.6 687.5L384.9 689.4L387.3 691.3L389.7 693.1L392.1 694.9L394.5 696.7L396.9 698.5L399.4 700.3L401.8 702.0L404.3 703.8L406.8 705.5L409.2 707.2L411.7 708.9L414.2 710.6L416.8 712.3L419.3 714.0L421.8 715.6L424.4 717.2L426.9 718.9L429.5 720.5L432.0 722.1L434.6 723.6L437.2 725.2L439.7 726.8L442.3 728.3L444.9 729.8L447.5 731.4L450.1 732.9L452.8 734.4L455.4 735.8L458.0 737.3L460.6 738.8L463.2 740.2L465.9 741.7L468.5 743.1L471.2 744.5L473.8 745.9L476.5 747.3L479.1 748.6L481.8 750.0L484.5 751.3L487.2 752.6L489.9 753.9L492.6 755.2L495.3 756.4L498.0 757.6L500.8 758.8L503.5 760.0L506.3 761.2L509.1 762.3L511.9 763.4L514.7 764.5L517.5 765.6L520.3 766.7L523.1 767.7L525.9 768.8L528.8 769.8L531.6 770.9L534.4 771.9L537.2 772.9L540.1 774.0L542.9 775.0L545.7 776.0L548.6 777.0L551.4 778.1L554.2 779.1L557.1 780.1L559.9 781.2L562.7 782.2L565.5 783.2L568.4 784.2L571.2 785.3L574.0 786.3L576.9 787.3L579.7 788.4L582.5 789.4L585.3 790.4L588.2 791.5L591.0 792.5L593.8 793.5L596.6 794.5L599.5 795.6L602.3 796.6L605.1 797.6L607.9 798.6L610.8 799.7L613.6 800.7L616.4 801.7L619.2 802.8L622.1 803.8L624.9 804.8L627.7 805.8L630.5 806.9L633.4 807.9L636.2 808.9L639.0 809.9L641.8 811.0L644.7 812.0L647.5 813.0L650.3 814.0L653.1 815.0L656.0 816.1L658.8 817.1L661.6 818.1L664.4 819.1L667.3 820.1L670.1 821.1L672.9 822.2L675.8 823.2L678.6 824.2L681.4 825.2L684.3 826.2L687.1 827.2L689.9 828.2L692.7 829.2L695.6 830.3L698.4 831.3L701.2 832.3L704.1 833.3L706.9 834.3L709.7 835.3L712.6 836.3L715.4 837.3L718.2 838.3L721.1 839.3L723.9 840.3L726.7 841.3L729.6 842.3L732.4 843.3L735.2 844.4L738.1 845.4L740.9 846.4L743.7 847.4L746.6 848.4L749.4 849.4L752.2 850.4L755.1 851.4L757.9 852.4L760.7 853.4L763.6 854.4L766.4 855.4L769.2 856.4L772.1 857.4L774.9 858.4L777.7 859.5L780.6 860.5L783.4 861.5L786.2 862.5L789.1 863.5L791.9 864.5L794.7 865.5L797.6 866.5L800.4 867.5L803.2 868.5L806.1 869.6L808.9 870.6L811.7 871.6L814.6 872.6L817.4 873.6L820.2 874.6L823.1 875.7L825.9 876.7L828.7 877.7L831.5 878.7L834.4 879.7L837.2 880.8L840.0 881.8L842.9 882.8L845.7 883.8L848.5 884.9L851.3 885.9L854.2 886.9L857.0 887.9L859.8 889.0L862.6 890.0L865.5 891.0L868.3 892.1L871.1 893.1L873.9 894.1L876.8 895.2L879.6 896.2L882.4 897.3L885.2 898.3L888.0 899.4L890.9 900.4L893.7 901.5L896.5 902.5L899.3 903.6L902.1 904.6L904.9 905.7L907.8 906.7L910.6 907.8L913.4 908.8L916.2 909.9L919.0 911.0L921.8 912.0L924.6 913.1L927.4 914.1L930.3 915.2L933.1 916.3L935.9 917.3L938.7 918.4L941.5 919.5L944.3 920.6L947.1 921.6L949.9 922.7L952.7 923.8L955.6 924.8L958.4 925.9L961.2 927.0L964.0 928.0L966.8 929.1L969.6 930.2L972.4 931.2L975.2 932.3L978.0 933.4L980.8 934.4L983.7 935.5L986.5 936.6L989.3 937.6L992.1 938.7L994.9 939.8L997.7 940.8L1000.5 941.9L1003.3 942.9L1006.2 944.0L1009.0 945.1L1011.8 946.1L1014.6 947.2L1017.4 948.2L1020.2 949.3L1023.1 950.3L1025.9 951.3L1028.7 952.4L1031.5 953.4L1034.3 954.5L1037.2 955.5L1040.0 956.5L1042.8 957.6L1045.6 958.6L1048.5 959.6L1051.3 960.6L1054.1 961.7L1057.0 962.7L1059.8 963.7L1062.6 964.8L1065.4 965.8L1068.3 966.8L1071.1 967.9L1073.9 968.9L1076.7 970.0L1079.5 971.0L1082.3 972.1L1085.1 973.2L1087.9 974.2L1090.7 975.3L1093.5 976.4L1096.3 977.6L1099.1 978.7L1101.9 979.8L1104.7 981.0L1107.4 982.2L1110.2 983.3L1113.0 984.5L1115.7 985.7L1118.5 986.9L1121.2 988.1L1124.0 989.3L1126.7 990.6L1129.5 991.8L1132.2 993.0L1135.0 994.2L1137.7 995.4L1140.5 996.7L1143.2 997.9L1146.0 999.1L1148.7 1000.3L1151.5 1001.5L1154.3 1002.7L1157.0 1003.9L1159.8 1005.1L1162.6 1006.3L1165.3 1007.5L1168.1 1008.7L1170.8 1009.9L1173.6 1011.1L1176.3 1012.3L1179.1 1013.5L1181.8 1014.7L1184.6 1016.0L1187.3 1017.2L1190.0 1018.5L1192.7 1019.8L1195.4 1021.1L1198.1 1022.4L1200.8 1023.7L1203.5 1025.1L1206.1 1026.5L1208.8 1027.9L1211.4 1029.3L1214.0 1030.7L1216.6 1032.2L1219.2 1033.7L1221.8 1035.2L1224.4 1036.8L1226.9 1038.4L1229.4 1040.0L1232.0 1041.6L1234.5 1043.2L1237.0 1044.9L1239.5 1046.5L1242.0 1048.2L1244.5 1049.9L1246.9 1051.6L1249.4 1053.4L1251.9 1055.1L1254.3 1056.9L1256.8 1058.6L1259.3 1060.4L1261.7 1062.2L1264.2 1063.9L1266.6 1065.7L1269.0 1067.5L1271.5 1069.3L1273.9 1071.1L1276.4 1072.9L1278.8 1074.7L1281.3 1076.4L1283.8 1078.2L1286.2 1080.0L1288.7 1081.8L1291.1 1083.6L1293.5 1085.4L1295.9 1087.2L1298.3 1089.0L1300.7 1090.9L1302.9 1092.8L1305.2 1094.8L1307.4 1096.8L1309.5 1098.9L1311.5 1101.0L1313.5 1103.2L1315.3 1105.4L1317.1 1107.8L1318.8 1110.2L1320.4 1112.7L1321.9 1115.2L1323.2 1117.9L1324.5 1120.5L1325.7 1123.3L1326.7 1126.1L1327.7 1129.0L1328.5 1131.9L1329.2 1134.9L1329.8 1138.0L1330.3 1141.1L1330.7 1144.2L1330.9 1147.4"/>
<path d="M196.1 494.0L197.0 490.9L197.7 487.8L198.4 484.7L199.0 481.5L199.5 478.4L200.0 475.3L200.5 472.1L200.9 468.9L201.2 465.8L201.6 462.6L202.0 459.4L202.3 456.3L202.7 453.1L203.1 449.9L203.5 446.8L203.9 443.6L204.4 440.5L205.0 437.3L205.6 434.2L207.3 433.7L208.9 433.4L210.6 433.4L212.3 433.7L214.0 434.2L215.7 436.7L217.4 439.2L218.9 441.7L220.4 444.3L221.9 446.9L223.3 449.6L224.6 452.3L225.9 455.0L227.1 457.7L228.4 460.4L229.6 463.1L230.8 465.9L232.0 468.7L233.1 471.4L234.3 474.2L235.5 477.0L236.6 479.8L237.7 482.6L238.9 485.3L240.0 488.1L241.2 490.9L242.3 493.7L243.4 496.5L244.5 499.3L245.7 502.1L246.8 504.9L248.0 507.7L249.1 510.5L250.3 513.3L251.4 516.1L252.6 518.9L253.8 521.7L254.9 524.4L256.2 527.2L257.4 530.0L258.6 532.7L259.8 535.5L261.1 538.2L262.4 540.9L263.7 543.6L265.0 546.4L266.3 549.0L267.7 551.7L269.0 554.4L270.4 557.1L271.9 559.7L273.3 562.4L274.7 565.0L276.2 567.6L277.7 570.2L279.2 572.8L280.7 575.4L282.3 578.0L283.9 580.5L285.4 583.1L287.0 585.6L288.7 588.1L290.3 590.7L292.0 593.2L293.6 595.6L295.3 598.1L297.0 600.6L298.8 603.0L300.5 605.5L302.3 607.9L304.1 610.3L305.9 612.7L307.7 615.1L309.5 617.5L311.4 619.8L313.3 622.2L315.2 624.5L317.1 626.9L319.0 629.2L320.9 631.5L322.9 633.8L324.8 636.0L326.8 638.3L328.8 640.5L330.9 642.8L332.9 645.0L335.0 647.2L337.0 649.4L339.1 651.5L341.2 653.7L343.3 655.9L345.5 658.0L347.6 660.1L349.8 662.2L352.0 664.3L354.2 666.4L356.4 668.4L358.6 670.4L360.9 672.5L363.1 674.5L365.4 676.4L367.7 678.4L370.0 680.3L372.3 682.3L374.6 684.2L377.0 686.0L379.3 687.9L381.7 689.7L384.1 691.6L386.5 693.3L389.0 695.1L391.4 696.9L393.8 698.6L396.3 700.3L398.8 702.0L401.3 703.7L403.8 705.3L406.3 707.0L408.8 708.6L411.3 710.2L413.9 711.8L416.4 713.4L419.0 715.0L421.5 716.5L424.1 718.1L426.7 719.6L429.3 721.2L431.9 722.7L434.5 724.2L437.1 725.7L439.7 727.2L442.3 728.7L444.9 730.2L447.5 731.7L450.1 733.2L452.8 734.7L455.4 736.1L458.0 737.6L460.6 739.1L463.3 740.6L465.9 742.1L468.5 743.5L471.1 745.0L473.8 746.5L476.4 747.9L479.1 749.3L481.7 750.7L484.4 752.1L487.1 753.4L489.8 754.8L492.5 756.1L495.2 757.3L498.0 758.5L500.8 759.7L503.5 760.8L506.3 761.9L509.2 763.0L512.0 764.0L514.8 765.0L517.7 766.0L520.5 766.9L523.4 767.9L526.2 768.8L529.1 769.8L532.0 770.7L534.8 771.7L537.7 772.6L540.5 773.6L543.4 774.6L546.2 775.6L549.0 776.7L551.8 777.7L554.6 778.8L557.5 779.9L560.2 781.0L563.0 782.1L565.8 783.2L568.6 784.3L571.4 785.4L574.2 786.6L576.9 787.7L579.7 788.9L582.5 790.1L585.3 791.2L588.0 792.4L590.8 793.6L593.5 794.8L596.3 795.9L599.1 797.1L601.8 798.3L604.6 799.5L607.4 800.7L610.1 801.8L612.9 803.0L615.7 804.2L618.4 805.3L621.2 806.5L624.0 807.6L626.8 808.8L629.6 809.9L632.3 811.0L635.1 812.1L637.9 813.3L640.7 814.4L643.5 815.5L646.3 816.7L649.1 817.8L651.8 818.9L654.6 820.1L657.4 821.2L660.2 822.4L662.9 823.6L665.7 824.7L668.5 825.9L671.2 827.1L674.0 828.3L676.7 829.6L679.4 830.8L682.2 832.1L684.9 833.3L687.6 834.6L690.3 835.9L693.0 837.2L695.7 838.5L698.4 839.8L701.1 841.1L703.8 842.4L706.5 843.7L709.2 845.1L711.9 846.4L714.6 847.7L717.3 849.1L720.0 850.5L722.6 851.8L725.3 853.2L728.0 854.6L730.7 855.9L733.3 857.3L736.0 858.7L738.7 860.1L741.4 861.5L744.0 862.8L746.7 864.2L749.4 865.6L752.0 867.0L754.7 868.4L757.4 869.8L760.1 871.1L762.7 872.5L765.4 873.9L768.1 875.3L770.8 876.6L773.5 878.0L776.1 879.4L778.8 880.7L781.5 882.1L784.2 883.4L786.9 884.8L789.6 886.1L792.3 887.4L795.0 888.8L797.7 890.1L800.4 891.4L803.1 892.7L805.9 894.0L808.6 895.2L811.3 896.5L814.0 897.8L816.8 899.1L819.5 900.3L822.2 901.6L825.0 902.9L827.7 904.1L830.4 905.4L833.2 906.7L835.9 907.9L838.6 909.2L841.4 910.5L844.1 911.8L846.8 913.1L849.5 914.4L852.2 915.7L854.9 917.0L857.6 918.3L860.3 919.6L863.0 921.0L865.7 922.3L868.4 923.7L871.0 925.0L873.7 926.4L876.3 927.8L879.0 929.2L881.6 930.6L884.3 932.1L886.9 933.5L889.6 934.9L892.2 936.4L894.8 937.8L897.4 939.3L900.1 940.7L902.7 942.2L905.3 943.7L907.9 945.2L910.5 946.7L913.1 948.2L915.7 949.7L918.3 951.2L920.9 952.7L923.5 954.3L926.0 955.8L928.6 957.3L931.2 958.9L933.8 960.4L936.4 961.9L939.0 963.5L941.5 965.1L944.1 966.6L946.7 968.2L949.3 969.7L951.8 971.3L954.4 972.9L957.0 974.5L959.6 976.0L962.1 977.6L964.7 979.2L967.2 980.8L969.8 982.4L972.3 984.1L974.9 985.7L977.4 987.3L979.9 989.0L982.4 990.6L985.0 992.3L987.5 993.9L990.0 995.6L992.5 997.3L995.0 999.0L997.4 1000.7L999.9 1002.4L1002.4 1004.2L1004.8 1005.9L1007.3 1007.7L1009.7 1009.4L1012.1 1011.2L1014.5 1013.0L1016.9 1014.8L1019.3 1016.6L1021.7 1018.5L1024.0 1020.3L1026.4 1022.2L1028.7 1024.1L1031.1 1026.0L1033.4 1027.9L1035.7 1029.8L1038.0 1031.7L1040.2 1033.7L1042.5 1035.7L1044.7 1037.7L1047.0 1039.7L1049.2 1041.7L1051.4 1043.8L1053.5 1045.8L1055.7 1047.9L1057.8 1050.0L1060.0 1052.2L1062.1 1054.3L1064.2 1056.5L1066.2 1058.7L1068.3 1060.9L1070.3 1063.1L1072.3 1065.4L1074.3 1067.7L1076.3 1070.0L1078.2 1072.3L1080.1 1074.7L1081.9 1077.1L1083.7 1079.5L1085.5 1081.9L1087.2 1084.4L1088.9 1086.9L1090.5 1089.4L1092.0 1092.0L1093.5 1094.6L1094.9 1097.2L1096.2 1099.9L1097.5 1102.6L1098.6 1105.4L1099.8 1108.2L1100.8 1111.0L1101.9 1113.8L1102.9 1116.6L1103.9 1119.4L1104.8 1122.3L1105.8 1125.1L1106.8 1128.0L1107.8 1130.8L1108.9 1133.7L1110.0 1136.5L1111.1 1139.2L1112.3 1142.0L1113.6 1144.7L1115.0 1147.4"/>
<path d="M241.2 1147.4L241.4 1144.4L241.6 1141.4L241.8 1138.4L242.0 1135.4L242.2 1132.4L242.3 1129.4L242.5 1126.4L242.7 1123.4L242.9 1120.4L243.1 1117.4L243.3 1114.4L243.4 1111.4L243.6 1108.4L243.8 1105.4L244.0 1102.4L244.2 1099.4L244.3 1096.4L244.5 1093.3L244.7 1090.3L244.8 1087.3L245.0 1084.3L245.2 1081.3L245.3 1078.3L245.5 1075.3L245.7 1072.3L245.8 1069.3L246.0 1066.3L246.1 1063.3L246.3 1060.3L246.5 1057.3L246.6 1054.3L246.8 1051.3L246.9 1048.3L247.1 1045.3L247.2 1042.2L247.4 1039.2L247.5 1036.2L247.7 1033.2L247.8 1030.2L248.0 1027.2L248.1 1024.2L248.2 1021.2L248.4 1018.2L248.5 1015.2L248.7 1012.2L248.8 1009.2L248.9 1006.2L249.1 1003.1L249.2 1000.1L249.3 997.1L249.5 994.1L249.6 991.1L249.7 988.1L249.9 985.1L250.0 982.1L250.1 979.1L250.2 976.1L250.4 973.1L250.5 970.1L250.6 967.0L250.7 964.0L250.8 961.0L250.9 958.0L251.1 955.0L251.2 952.0L251.3 949.0L251.4 946.0L251.5 943.0L251.6 940.0L251.7 936.9L251.8 933.9L251.9 930.9L252.1 927.9L252.2 924.9L252.3 921.9L252.4 918.9L252.5 915.9L252.6 912.9L252.7 909.9L252.8 906.9L252.9 903.8L253.0 900.8L253.0 897.8L253.1 894.8L253.2 891.8L253.3 888.8L253.4 885.8L253.5 882.8L253.6 879.8L253.7 876.8L253.8 873.7L253.9 870.7L253.9 867.7L254.0 864.7L254.1 861.7L254.2 858.7L254.3 855.7L254.3 852.7L254.4 849.7L254.5 846.6L254.6 843.6L254.6 840.6L254.7 837.6L254.8 834.6L254.9 831.6L254.9 828.6L255.0 825.6L255.1 822.6L255.1 819.6L255.2 816.6L255.3 813.5L255.3 810.5L255.4 807.5L255.5 804.5L255.5 801.5L255.6 798.5L255.6 795.5L255.7 792.5L255.8 789.5L255.8 786.5L255.9 783.5L255.9 780.4L256.0 777.4L256.0 774.4L256.1 771.4L256.1 768.4L256.2 765.4L256.2 762.4L256.3 759.4L256.3 756.4L256.4 753.4L256.4 750.4L256.5 747.3L256.5 744.3L256.6 741.3L256.6 738.3L256.6 735.3L256.7 732.3L256.7 729.3L256.8 726.3L256.8 723.3L256.8 720.3L256.9 717.3L256.9 714.3L256.9 711.3L257.0 708.3L257.0 705.3L257.0 702.2L257.1 699.2L257.1 696.2L257.1 693.2L257.1 690.2L257.2 687.2L257.2 684.2L257.2 681.2L257.2 678.2L257.3 675.2L257.3 672.2L257.4 669.2L257.4 666.2L257.5 663.2L257.6 660.2L257.7 657.2L257.9 654.2L258.1 651.2L258.3 648.2L258.6 645.2L258.9 642.1L259.3 639.1L259.7 636.1L260.2 633.1L260.7 630.1L261.3 627.1L262.0 624.1L262.8 621.1L263.6 618.1L264.5 615.1L265.6 612.1L266.7 609.3L268.1 606.8L269.8 604.6L271.8 603.0L274.1 601.9L276.7 601.4L279.4 601.5L282.2 602.0L285.1 603.1L287.8 604.5L290.4 606.2L293.0 608.1L295.4 610.0L297.7 612.0L300.0 614.0L302.2 616.1L304.3 618.3L306.4 620.4L308.5 622.6L310.6 624.8L312.7 627.0L314.7 629.2L316.8 631.4L318.9 633.6L320.9 635.8L323.0 638.0L325.1 640.2L327.1 642.4L329.2 644.6L331.3 646.8L333.4 649.0L335.5 651.1L337.6 653.3L339.7 655.5L341.8 657.6L343.9 659.7L346.0 661.9L348.2 664.0L350.4 666.1L352.5 668.2L354.7 670.2L356.9 672.3L359.1 674.3L361.4 676.3L363.6 678.3L365.9 680.2L368.2 682.1L370.5 684.0L372.9 685.9L375.2 687.8L377.6 689.6L380.0 691.4L382.4 693.1L384.9 694.8L387.4 696.5L389.9 698.2L392.4 699.8L394.9 701.5L397.5 703.0L400.1 704.6L402.7 706.2L405.3 707.7L407.9 709.3L410.5 710.8L413.1 712.3L415.7 713.8L418.3 715.3L420.9 716.8L423.5 718.3L426.1 719.8L428.7 721.4L431.3 722.9L433.9 724.4L436.5 725.9L439.1 727.4L441.7 728.9L444.3 730.4L446.9 732.0L449.5 733.5L452.1 735.0L454.7 736.5L457.3 738.0L459.9 739.5L462.6 741.0L465.2 742.5L467.8 744.0L470.4 745.5L473.1 746.9L475.7 748.4L478.4 749.8L481.1 751.2L483.7 752.6L486.4 753.9L489.1 755.2L491.9 756.5L494.6 757.7L497.4 758.9L500.1 760.1L502.9 761.2L505.7 762.2L508.6 763.3L511.4 764.2L514.3 765.2L517.1 766.1L520.0 767.1L522.9 768.0L525.7 768.9L528.6 769.8L531.5 770.7L534.4 771.6L537.2 772.5L540.1 773.4L543.0 774.4L545.8 775.3L548.7 776.3L551.5 777.4L554.4 778.4L557.2 779.5L560.0 780.5L562.8 781.7L565.6 782.8L568.4 783.9L571.1 785.1L573.9 786.3L576.6 787.6L579.4 788.8L582.1 790.1L584.8 791.4L587.5 792.7L590.2 794.0L592.8 795.4L595.5 796.7L598.2 798.1L600.8 799.4L603.5 800.8L606.1 802.2L608.8 803.6L611.5 804.9L614.2 806.3L616.9 807.6L619.6 808.9L622.3 810.3L625.0 811.6L627.8 812.8L630.5 814.1L633.3 815.4L636.0 816.7L638.8 818.0L641.5 819.3L644.2 820.6L646.9 821.9L649.6 823.3L652.3 824.6L655.0 826.0L657.7 827.4L660.4 828.8L663.0 830.2L665.7 831.6L668.3 833.1L670.9 834.5L673.6 836.0L676.2 837.4L678.8 838.9L681.4 840.4L684.0 841.9L686.6 843.4L689.2 844.9L691.8 846.4L694.4 848.0L696.9 849.5L699.5 851.1L702.0 852.6L704.6 854.2L707.1 855.8L709.7 857.4L712.2 859.0L714.8 860.6L717.3 862.2L719.8 863.8L722.3 865.4L724.9 867.0L727.4 868.7L729.9 870.3L732.4 871.9L734.9 873.6L737.4 875.3L739.9 876.9L742.4 878.6L744.9 880.2L747.4 881.9L749.9 883.6L752.4 885.3L754.9 887.0L757.3 888.6L759.8 890.3L762.3 892.0L764.8 893.7L767.3 895.4L769.8 897.1L772.3 898.8L774.7 900.5L777.2 902.2L779.7 903.9L782.2 905.6L784.7 907.3L787.2 909.0L789.7 910.7L792.2 912.5L794.7 914.2L797.1 915.9L799.6 917.6L802.1 919.3L804.6 921.0L807.2 922.7L809.7 924.4L812.2 926.1L814.7 927.8L817.2 929.5L819.7 931.2L822.2 932.9L824.7 934.6L827.2 936.3L829.7 938.0L832.2 939.7L834.7 941.5L837.2 943.2L839.6 944.9L842.1 946.7L844.6 948.4L847.1 950.2L849.5 951.9L852.0 953.7L854.4 955.4L856.9 957.2L859.3 959.0L861.7 960.8L864.1 962.6L866.6 964.4L868.9 966.3L871.3 968.1L873.7 969.9L876.1 971.8L878.4 973.7L880.8 975.5L883.1 977.4L885.4 979.3L887.7 981.3L890.0 983.2L892.3 985.1L894.5 987.1L896.8 989.1L899.0 991.1L901.2 993.1L903.4 995.1L905.6 997.1L907.7 999.2L909.9 1001.3L912.0 1003.3L914.1 1005.5L916.2 1007.6L918.3 1009.7L920.3 1011.9L922.3 1014.1L924.3 1016.3L926.3 1018.5L928.3 1020.8L930.2 1023.0L932.1 1025.3L934.0 1027.7L935.9 1030.0L937.7 1032.4L939.5 1034.7L941.3 1037.1L943.1 1039.6L944.8 1042.0L946.5 1044.5L948.2 1047.0L949.9 1049.6L951.5 1052.1L953.1 1054.7L954.7 1057.3L956.2 1059.9L957.8 1062.6L959.2 1065.2L960.7 1067.9L962.1 1070.6L963.5 1073.3L964.9 1076.1L966.2 1078.8L967.5 1081.6L968.8 1084.4L970.1 1087.1L971.3 1089.9L972.4 1092.8L973.6 1095.6L974.7 1098.4L975.8 1101.3L976.8 1104.1L977.8 1107.0L978.8 1109.8L979.8 1112.7L980.7 1115.6L981.6 1118.5L982.4 1121.4L983.2 1124.3L984.0 1127.2L984.7 1130.0L985.4 1132.9L986.0 1135.8L986.7 1138.7L987.2 1141.6L987.8 1144.5L988.3 1147.4"/>
<path d="M286.4 1147.4L286.7 1144.4L286.9 1141.4L287.2 1138.4L287.4 1135.4L287.7 1132.4L287.9 1129.4L288.1 1126.3L288.4 1123.3L288.6 1120.3L288.8 1117.3L289.1 1114.3L289.3 1111.3L289.5 1108.3L289.7 1105.3L289.9 1102.3L290.1 1099.3L290.3 1096.3L290.5 1093.3L290.7 1090.3L290.9 1087.3L291.1 1084.3L291.3 1081.2L291.4 1078.2L291.6 1075.2L291.8 1072.2L292.0 1069.2L292.1 1066.2L292.3 1063.2L292.5 1060.2L292.6 1057.2L292.8 1054.2L292.9 1051.2L293.1 1048.2L293.2 1045.2L293.4 1042.2L293.5 1039.2L293.7 1036.2L293.8 1033.2L294.0 1030.1L294.1 1027.1L294.3 1024.1L294.4 1021.1L294.5 1018.1L294.7 1015.1L294.8 1012.1L294.9 1009.1L295.1 1006.1L295.2 1003.1L295.3 1000.1L295.5 997.1L295.6 994.1L295.7 991.1L295.8 988.1L296.0 985.1L296.1 982.1L296.2 979.1L296.4 976.1L296.5 973.0L296.6 970.0L296.7 967.0L296.9 964.0L297.0 961.0L297.1 958.0L297.2 955.0L297.4 952.0L297.5 949.0L297.6 946.0L297.7 943.0L297.9 940.0L298.0 937.0L298.1 934.0L298.3 931.0L298.4 928.0L298.5 925.0L298.7 922.0L298.8 919.0L298.9 916.0L299.1 913.0L299.2 910.0L299.4 906.9L299.5 903.9L299.6 900.9L299.8 897.9L299.9 894.9L300.1 891.9L300.2 888.9L300.4 885.9L300.6 882.9L300.7 879.9L300.9 876.9L301.0 873.9L301.2 870.9L301.4 867.9L301.5 864.9L301.7 861.9L301.9 858.9L302.1 855.9L302.3 852.9L302.4 849.9L302.6 846.9L302.8 843.9L303.0 840.8L303.2 837.8L303.4 834.8L303.6 831.8L303.8 828.8L304.0 825.8L304.3 822.8L304.5 819.8L304.7 816.8L304.9 813.8L305.2 810.8L305.4 807.8L305.6 804.8L305.9 801.8L306.1 798.8L306.4 795.8L306.6 792.8L306.9 789.8L307.2 786.8L307.4 783.8L307.7 780.8L308.0 777.8L308.3 774.8L308.6 771.7L308.9 768.7L309.2 765.7L309.5 762.7L309.8 759.7L310.1 756.7L310.4 753.7L310.8 750.7L311.1 747.7L311.5 744.7L311.8 741.7L312.2 738.7L312.6 735.7L313.1 732.7L313.6 729.8L314.1 726.8L314.7 723.8L315.3 720.9L316.1 717.9L316.9 715.0L317.7 712.1L318.7 709.2L319.7 706.4L320.9 703.5L322.2 700.7L323.5 697.9L325.0 695.3L326.7 692.7L328.4 690.4L330.4 688.3L332.5 686.5L334.8 685.0L337.3 683.8L340.0 683.0L342.7 682.4L345.6 682.1L348.6 682.1L351.6 682.3L354.6 682.7L357.7 683.4L360.8 684.2L363.8 685.2L366.8 686.3L369.7 687.5L372.5 688.9L375.2 690.3L377.8 691.8L380.4 693.4L382.9 695.0L385.4 696.7L387.9 698.4L390.3 700.1L392.8 701.8L395.2 703.5L397.7 705.2L400.2 706.8L402.7 708.4L405.2 710.0L407.8 711.6L410.3 713.1L412.9 714.6L415.5 716.1L418.1 717.6L420.7 719.1L423.3 720.6L426.0 722.1L428.6 723.5L431.3 724.9L433.9 726.4L436.6 727.8L439.2 729.2L441.9 730.6L444.6 732.1L447.2 733.5L449.9 734.9L452.6 736.3L455.2 737.8L457.9 739.2L460.6 740.6L463.2 742.1L465.9 743.5L468.5 745.0L471.2 746.4L473.8 747.9L476.5 749.3L479.1 750.7L481.8 752.1L484.5 753.4L487.2 754.8L489.9 756.1L492.6 757.3L495.4 758.5L498.1 759.7L500.9 760.8L503.7 761.9L506.5 762.9L509.4 763.9L512.2 764.9L515.1 765.8L518.0 766.7L520.8 767.6L523.7 768.4L526.6 769.3L529.5 770.1L532.4 771.0L535.3 771.9L538.2 772.8L541.1 773.7L543.9 774.7L546.8 775.6L549.6 776.6L552.5 777.7L555.3 778.7L558.1 779.8L560.9 780.9L563.7 782.1L566.5 783.2L569.2 784.5L572.0 785.7L574.7 786.9L577.4 788.2L580.1 789.6L582.8 790.9L585.4 792.3L588.1 793.7L590.7 795.2L593.3 796.6L596.0 798.1L598.6 799.6L601.2 801.1L603.8 802.6L606.4 804.1L609.0 805.6L611.6 807.1L614.2 808.7L616.8 810.2L619.4 811.7L622.0 813.2L624.6 814.7L627.3 816.1L629.9 817.6L632.5 819.1L635.2 820.5L637.8 822.0L640.4 823.5L643.1 825.0L645.7 826.4L648.3 827.9L650.9 829.5L653.5 831.0L656.1 832.5L658.6 834.1L661.2 835.7L663.7 837.3L666.2 839.0L668.7 840.6L671.2 842.3L673.6 844.1L676.0 845.8L678.5 847.6L680.8 849.4L683.2 851.2L685.6 853.1L687.9 854.9L690.3 856.8L692.6 858.7L695.0 860.6L697.3 862.4L699.6 864.3L702.0 866.2L704.3 868.1L706.7 870.0L709.0 871.9L711.4 873.8L713.7 875.7L716.1 877.6L718.4 879.4L720.8 881.3L723.1 883.2L725.5 885.1L727.8 887.0L730.2 888.9L732.5 890.8L734.8 892.7L737.2 894.6L739.5 896.6L741.9 898.5L744.2 900.4L746.5 902.3L748.9 904.2L751.2 906.2L753.5 908.1L755.8 910.1L758.1 912.0L760.4 914.0L762.7 915.9L765.0 917.9L767.3 919.9L769.6 921.8L771.8 923.8L774.1 925.8L776.4 927.8L778.6 929.8L780.9 931.8L783.1 933.8L785.3 935.9L787.5 937.9L789.7 940.0L791.9 942.0L794.1 944.1L796.3 946.2L798.5 948.3L800.6 950.3L802.8 952.5L804.9 954.6L807.0 956.7L809.2 958.8L811.3 961.0L813.3 963.1L815.4 965.3L817.5 967.5L819.5 969.7L821.5 971.9L823.6 974.1L825.6 976.4L827.6 978.6L829.5 980.9L831.5 983.2L833.4 985.4L835.4 987.7L837.3 990.1L839.2 992.4L841.0 994.7L842.9 997.1L844.8 999.5L846.6 1001.9L848.4 1004.3L850.2 1006.7L851.9 1009.2L853.7 1011.6L855.4 1014.1L857.1 1016.6L858.8 1019.1L860.5 1021.6L862.1 1024.1L863.8 1026.7L865.4 1029.2L866.9 1031.8L868.5 1034.4L870.0 1037.0L871.6 1039.6L873.0 1042.2L874.5 1044.9L875.9 1047.5L877.4 1050.2L878.7 1052.8L880.1 1055.5L881.4 1058.2L882.7 1061.0L884.0 1063.7L885.3 1066.4L886.5 1069.2L887.7 1071.9L888.9 1074.7L890.0 1077.5L891.1 1080.3L892.2 1083.1L893.2 1085.9L894.3 1088.8L895.2 1091.6L896.2 1094.4L897.1 1097.3L898.0 1100.2L898.9 1103.1L899.7 1106.0L900.5 1108.9L901.3 1111.8L902.0 1114.7L902.7 1117.6L903.3 1120.6L904.0 1123.5L904.5 1126.5L905.1 1129.4L905.6 1132.4L906.1 1135.4L906.5 1138.4L906.9 1141.4L907.3 1144.4L907.6 1147.4"/>
<path d="M322.2 1147.4L322.4 1144.4L322.6 1141.5L322.8 1138.5L322.9 1135.5L323.1 1132.5L323.3 1129.5L323.4 1126.6L323.6 1123.6L323.8 1120.6L323.9 1117.6L324.1 1114.6L324.2 1111.6L324.4 1108.6L324.5 1105.6L324.7 1102.6L324.8 1099.6L325.0 1096.6L325.1 1093.6L325.3 1090.5L325.4 1087.5L325.5 1084.5L325.7 1081.5L325.8 1078.5L325.9 1075.5L326.1 1072.4L326.2 1069.4L326.3 1066.4L326.4 1063.4L326.6 1060.3L326.7 1057.3L326.8 1054.3L327.0 1051.3L327.1 1048.2L327.2 1045.2L327.3 1042.2L327.5 1039.1L327.6 1036.1L327.7 1033.1L327.9 1030.0L328.0 1027.0L328.1 1024.0L328.3 1020.9L328.4 1017.9L328.5 1014.9L328.7 1011.8L328.8 1008.8L328.9 1005.8L329.1 1002.7L329.2 999.7L329.4 996.7L329.5 993.6L329.7 990.6L329.8 987.6L330.0 984.6L330.2 981.5L330.3 978.5L330.5 975.5L330.7 972.4L330.8 969.4L331.0 966.4L331.2 963.4L331.4 960.4L331.6 957.3L331.8 954.3L332.0 951.3L332.2 948.3L332.4 945.3L332.6 942.3L332.8 939.3L333.0 936.3L333.2 933.2L333.5 930.2L333.7 927.2L333.9 924.2L334.2 921.3L334.4 918.3L334.7 915.3L335.0 912.3L335.2 909.3L335.5 906.3L335.8 903.3L336.1 900.4L336.4 897.4L336.7 894.4L337.0 891.4L337.3 888.5L337.6 885.5L337.9 882.5L338.3 879.6L338.6 876.6L339.0 873.7L339.3 870.7L339.7 867.8L340.1 864.9L340.5 861.9L340.8 859.0L341.2 856.0L341.7 853.1L342.1 850.1L342.5 847.2L342.9 844.2L343.4 841.3L343.9 838.3L344.3 835.4L344.8 832.4L345.3 829.4L345.8 826.4L346.3 823.5L346.9 820.5L347.4 817.5L348.0 814.5L348.6 811.5L349.1 808.4L349.7 805.4L350.4 802.4L351.0 799.3L351.6 796.2L352.3 793.2L353.0 790.1L353.7 787.1L354.5 784.0L355.3 781.0L356.2 778.0L357.1 775.0L358.1 772.1L359.1 769.2L360.2 766.3L361.5 763.5L362.7 760.8L364.1 758.1L365.6 755.5L367.2 752.9L368.9 750.5L370.7 748.1L372.7 745.8L374.7 743.7L376.9 741.6L379.1 739.6L381.5 737.8L383.9 736.2L386.5 734.7L389.1 733.3L391.8 732.1L394.5 731.1L397.3 730.3L400.2 729.6L403.0 729.1L405.9 728.8L408.8 728.6L411.8 728.6L414.7 728.7L417.7 728.9L420.6 729.3L423.6 729.8L426.6 730.4L429.6 731.0L432.5 731.8L435.5 732.7L438.5 733.7L441.4 734.7L444.4 735.8L447.3 736.9L450.2 738.1L453.1 739.3L456.0 740.5L458.8 741.8L461.6 743.1L464.4 744.4L467.1 745.7L469.8 747.0L472.6 748.3L475.2 749.6L477.9 750.9L480.6 752.2L483.3 753.5L486.0 754.7L488.6 756.0L491.3 757.1L494.0 758.3L496.8 759.4L499.5 760.5L502.3 761.6L505.1 762.6L507.9 763.6L510.7 764.5L513.6 765.4L516.5 766.3L519.3 767.2L522.2 768.1L525.1 769.0L528.0 769.8L530.9 770.7L533.8 771.6L536.7 772.5L539.6 773.4L542.5 774.3L545.4 775.3L548.3 776.3L551.1 777.3L553.9 778.3L556.8 779.4L559.6 780.5L562.4 781.7L565.1 782.8L567.9 784.0L570.7 785.3L573.4 786.6L576.1 787.9L578.8 789.2L581.4 790.6L584.1 792.1L586.7 793.6L589.3 795.1L591.9 796.6L594.4 798.2L597.0 799.8L599.5 801.4L602.1 803.0L604.6 804.7L607.1 806.4L609.6 808.0L612.1 809.7L614.6 811.4L617.1 813.1L619.7 814.8L622.2 816.4L624.7 818.1L627.2 819.8L629.7 821.5L632.2 823.1L634.7 824.8L637.2 826.5L639.6 828.3L642.1 830.0L644.5 831.8L646.9 833.6L649.3 835.4L651.7 837.2L654.1 839.0L656.4 840.9L658.8 842.8L661.1 844.7L663.4 846.6L665.7 848.5L668.0 850.5L670.3 852.5L672.6 854.4L674.9 856.4L677.1 858.4L679.4 860.4L681.6 862.4L683.8 864.5L686.0 866.5L688.3 868.6L690.5 870.6L692.7 872.7L694.9 874.7L697.1 876.8L699.2 878.9L701.4 881.0L703.6 883.0L705.8 885.1L708.0 887.2L710.1 889.3L712.3 891.4L714.5 893.5L716.6 895.6L718.8 897.8L720.9 899.9L723.0 902.0L725.1 904.1L727.3 906.3L729.4 908.4L731.5 910.6L733.6 912.8L735.7 915.0L737.7 917.1L739.8 919.3L741.8 921.5L743.9 923.7L745.9 926.0L748.0 928.2L750.0 930.4L752.0 932.7L754.0 934.9L755.9 937.2L757.9 939.5L759.8 941.8L761.8 944.1L763.7 946.4L765.6 948.8L767.5 951.1L769.4 953.5L771.3 955.8L773.1 958.2L775.0 960.6L776.8 963.0L778.6 965.4L780.4 967.9L782.1 970.3L783.9 972.8L785.6 975.2L787.4 977.7L789.1 980.2L790.8 982.7L792.5 985.2L794.1 987.7L795.7 990.3L797.4 992.8L799.0 995.4L800.6 998.0L802.1 1000.5L803.7 1003.1L805.2 1005.7L806.7 1008.3L808.2 1011.0L809.7 1013.6L811.1 1016.2L812.6 1018.9L814.0 1021.6L815.4 1024.2L816.7 1026.9L818.1 1029.6L819.4 1032.3L820.7 1035.0L822.0 1037.8L823.3 1040.5L824.5 1043.2L825.8 1046.0L827.0 1048.7L828.2 1051.5L829.3 1054.3L830.4 1057.1L831.6 1059.9L832.6 1062.7L833.7 1065.5L834.8 1068.3L835.8 1071.2L836.8 1074.0L837.7 1076.8L838.7 1079.7L839.6 1082.6L840.5 1085.4L841.4 1088.3L842.2 1091.2L843.0 1094.1L843.8 1097.0L844.6 1099.9L845.4 1102.8L846.1 1105.7L846.8 1108.7L847.4 1111.6L848.1 1114.6L848.7 1117.5L849.3 1120.5L849.8 1123.4L850.4 1126.4L850.9 1129.4L851.3 1132.4L851.8 1135.4L852.2 1138.4L852.6 1141.4L853.0 1144.4L853.3 1147.4"/>
<path d="M349.0 1147.4L349.2 1144.4L349.3 1141.4L349.5 1138.3L349.6 1135.3L349.8 1132.3L349.9 1129.3L350.1 1126.3L350.2 1123.2L350.4 1120.2L350.5 1117.2L350.7 1114.2L350.8 1111.2L350.9 1108.2L351.1 1105.2L351.2 1102.1L351.4 1099.1L351.5 1096.1L351.6 1093.1L351.8 1090.1L351.9 1087.1L352.1 1084.1L352.2 1081.1L352.3 1078.1L352.5 1075.1L352.6 1072.1L352.8 1069.1L352.9 1066.1L353.1 1063.1L353.2 1060.1L353.4 1057.1L353.5 1054.1L353.6 1051.1L353.8 1048.1L353.9 1045.1L354.1 1042.1L354.3 1039.1L354.4 1036.1L354.6 1033.1L354.7 1030.1L354.9 1027.1L355.1 1024.1L355.2 1021.1L355.4 1018.1L355.6 1015.1L355.8 1012.1L355.9 1009.1L356.1 1006.1L356.3 1003.1L356.5 1000.1L356.7 997.1L356.9 994.1L357.1 991.1L357.3 988.1L357.5 985.1L357.7 982.1L357.9 979.1L358.1 976.1L358.3 973.1L358.6 970.1L358.8 967.1L359.0 964.1L359.3 961.1L359.5 958.1L359.8 955.1L360.0 952.1L360.3 949.1L360.5 946.1L360.8 943.2L361.1 940.2L361.4 937.2L361.6 934.2L361.9 931.2L362.2 928.2L362.5 925.2L362.8 922.2L363.2 919.2L363.5 916.2L363.8 913.2L364.1 910.2L364.5 907.1L364.8 904.1L365.2 901.1L365.5 898.1L365.9 895.1L366.3 892.1L366.7 889.1L367.0 886.1L367.4 883.1L367.8 880.1L368.3 877.1L368.7 874.1L369.1 871.1L369.6 868.1L370.0 865.1L370.5 862.1L371.0 859.1L371.5 856.1L372.0 853.1L372.6 850.1L373.2 847.1L373.8 844.2L374.4 841.2L375.0 838.3L375.7 835.3L376.5 832.4L377.2 829.5L378.0 826.6L378.8 823.7L379.7 820.8L380.6 817.9L381.6 815.1L382.5 812.3L383.6 809.4L384.7 806.6L385.8 803.9L387.0 801.1L388.2 798.4L389.5 795.6L390.9 792.9L392.3 790.2L393.7 787.6L395.2 785.0L396.8 782.3L398.5 779.8L400.2 777.2L402.0 774.8L403.8 772.3L405.8 770.0L407.8 767.8L409.9 765.6L412.1 763.5L414.4 761.6L416.8 759.8L419.3 758.1L421.9 756.6L424.6 755.2L427.3 754.0L430.2 752.9L433.0 752.0L435.9 751.3L438.9 750.7L441.8 750.3L444.7 750.1L447.7 749.9L450.6 750.0L453.5 750.1L456.5 750.3L459.4 750.7L462.4 751.1L465.4 751.7L468.3 752.3L471.3 752.9L474.2 753.7L477.2 754.4L480.2 755.2L483.1 756.1L486.1 756.9L489.0 757.8L492.0 758.6L494.9 759.5L497.9 760.3L500.8 761.2L503.7 762.0L506.6 762.8L509.5 763.7L512.5 764.5L515.4 765.4L518.2 766.3L521.1 767.1L524.0 768.0L526.9 768.9L529.7 769.8L532.6 770.8L535.4 771.7L538.3 772.7L541.1 773.6L543.9 774.6L546.7 775.7L549.5 776.7L552.2 777.8L555.0 778.9L557.8 780.0L560.5 781.2L563.2 782.3L565.9 783.6L568.6 784.8L571.3 786.1L574.0 787.4L576.6 788.8L579.3 790.2L581.9 791.6L584.5 793.1L587.1 794.6L589.6 796.2L592.2 797.8L594.7 799.4L597.3 801.1L599.8 802.8L602.3 804.5L604.8 806.2L607.2 808.0L609.7 809.8L612.1 811.6L614.6 813.5L617.0 815.3L619.4 817.2L621.7 819.1L624.1 821.0L626.5 823.0L628.8 824.9L631.1 826.8L633.4 828.8L635.7 830.8L638.0 832.8L640.3 834.7L642.5 836.7L644.8 838.7L647.0 840.7L649.2 842.7L651.4 844.7L653.6 846.8L655.8 848.8L657.9 850.8L660.1 852.9L662.2 855.0L664.3 857.0L666.4 859.2L668.5 861.3L670.6 863.4L672.7 865.6L674.7 867.7L676.8 869.9L678.8 872.1L680.8 874.4L682.9 876.6L684.9 878.8L686.8 881.1L688.8 883.4L690.8 885.7L692.8 888.0L694.7 890.3L696.6 892.6L698.6 894.9L700.5 897.3L702.4 899.6L704.3 902.0L706.2 904.3L708.1 906.7L709.9 909.1L711.8 911.5L713.7 913.9L715.5 916.3L717.3 918.7L719.2 921.1L721.0 923.5L722.8 925.9L724.6 928.3L726.4 930.8L728.2 933.2L730.0 935.6L731.8 938.0L733.6 940.5L735.4 942.9L737.2 945.3L738.9 947.7L740.7 950.2L742.4 952.6L744.2 955.0L745.9 957.4L747.6 959.9L749.4 962.3L751.0 964.8L752.7 967.3L754.3 969.8L756.0 972.3L757.6 974.9L759.1 977.4L760.7 980.0L762.2 982.6L763.7 985.2L765.2 987.8L766.7 990.4L768.1 993.1L769.6 995.7L771.0 998.4L772.3 1001.1L773.7 1003.8L775.0 1006.5L776.3 1009.2L777.6 1012.0L778.9 1014.7L780.1 1017.5L781.3 1020.3L782.5 1023.1L783.6 1025.8L784.8 1028.7L785.9 1031.5L786.9 1034.3L788.0 1037.1L789.0 1040.0L790.0 1042.8L791.0 1045.7L792.0 1048.6L792.9 1051.5L793.8 1054.3L794.6 1057.2L795.5 1060.1L796.3 1063.1L797.1 1066.0L797.8 1068.9L798.6 1071.8L799.3 1074.8L799.9 1077.7L800.6 1080.7L801.2 1083.6L801.8 1086.6L802.3 1089.5L802.8 1092.5L803.3 1095.5L803.8 1098.5L804.2 1101.4L804.6 1104.4L805.0 1107.4L805.4 1110.4L805.9 1113.3L806.3 1116.3L806.8 1119.2L807.3 1122.2L807.9 1125.1L808.6 1128.0L809.3 1130.9L810.2 1133.7L811.2 1136.5L812.3 1139.3L813.6 1142.0L815.0 1144.7L816.6 1147.4"/>
<path d="M367.9 1147.4L368.3 1144.4L368.6 1141.5L369.0 1138.5L369.3 1135.5L369.6 1132.6L369.9 1129.6L370.2 1126.6L370.5 1123.6L370.7 1120.7L371.0 1117.7L371.3 1114.7L371.5 1111.7L371.7 1108.7L371.9 1105.7L372.2 1102.7L372.4 1099.7L372.6 1096.7L372.8 1093.7L372.9 1090.7L373.1 1087.7L373.3 1084.6L373.5 1081.6L373.6 1078.6L373.8 1075.6L373.9 1072.6L374.1 1069.5L374.2 1066.5L374.4 1063.5L374.5 1060.5L374.6 1057.4L374.8 1054.4L374.9 1051.4L375.0 1048.4L375.2 1045.3L375.3 1042.3L375.4 1039.3L375.5 1036.2L375.7 1033.2L375.8 1030.2L375.9 1027.1L376.0 1024.1L376.2 1021.1L376.3 1018.0L376.4 1015.0L376.6 1012.0L376.7 1008.9L376.8 1005.9L377.0 1002.9L377.1 999.8L377.3 996.8L377.4 993.8L377.6 990.7L377.8 987.7L378.0 984.7L378.1 981.6L378.3 978.6L378.5 975.6L378.7 972.6L378.9 969.5L379.1 966.5L379.4 963.5L379.6 960.5L379.8 957.5L380.1 954.4L380.4 951.4L380.6 948.4L380.9 945.4L381.2 942.4L381.5 939.4L381.8 936.4L382.1 933.4L382.5 930.4L382.8 927.4L383.2 924.4L383.6 921.4L384.0 918.4L384.4 915.4L384.8 912.5L385.2 909.5L385.7 906.5L386.2 903.5L386.6 900.6L387.1 897.6L387.7 894.7L388.2 891.7L388.7 888.7L389.3 885.8L389.9 882.8L390.5 879.9L391.1 877.0L391.8 874.0L392.4 871.1L393.1 868.2L393.8 865.3L394.5 862.3L395.3 859.4L396.0 856.5L396.8 853.6L397.6 850.7L398.5 847.8L399.3 844.9L400.2 842.1L401.1 839.2L402.0 836.3L403.0 833.4L404.0 830.6L405.0 827.7L406.0 824.9L407.0 822.0L408.1 819.2L409.2 816.4L410.3 813.5L411.5 810.7L412.7 807.9L413.9 805.1L415.1 802.3L416.4 799.5L417.7 796.7L419.0 793.9L420.4 791.2L421.8 788.5L423.4 785.9L424.9 783.3L426.6 780.9L428.3 778.5L430.2 776.3L432.1 774.1L434.2 772.1L436.4 770.3L438.7 768.6L441.2 767.0L443.8 765.7L446.5 764.5L449.4 763.6L452.4 762.7L455.4 762.0L458.5 761.5L461.7 761.1L464.8 760.8L468.1 760.6L471.3 760.5L474.4 760.6L477.6 760.7L480.7 760.8L483.7 761.1L486.7 761.4L489.7 761.8L492.6 762.2L495.5 762.6L498.4 763.1L501.3 763.6L504.2 764.2L507.1 764.8L510.0 765.4L512.9 766.0L515.8 766.7L518.8 767.4L521.7 768.1L524.6 768.9L527.5 769.6L530.5 770.5L533.4 771.3L536.3 772.2L539.2 773.1L542.1 774.0L545.0 774.9L547.9 775.9L550.7 776.9L553.6 778.0L556.4 779.1L559.2 780.2L562.0 781.4L564.8 782.6L567.5 783.9L570.2 785.2L572.9 786.6L575.5 788.0L578.2 789.5L580.7 791.0L583.3 792.6L585.8 794.2L588.3 795.8L590.8 797.6L593.2 799.3L595.6 801.1L598.0 803.0L600.3 804.9L602.6 806.8L604.9 808.7L607.2 810.7L609.5 812.7L611.8 814.7L614.0 816.7L616.3 818.8L618.5 820.8L620.7 822.9L622.9 825.0L625.1 827.1L627.3 829.2L629.5 831.3L631.7 833.4L633.9 835.4L636.1 837.5L638.3 839.6L640.6 841.7L642.8 843.7L645.0 845.8L647.2 847.8L649.3 849.9L651.4 852.1L653.5 854.2L655.5 856.4L657.5 858.7L659.5 860.9L661.4 863.2L663.2 865.6L665.1 867.9L666.9 870.3L668.7 872.7L670.5 875.1L672.3 877.5L674.0 880.0L675.8 882.4L677.5 884.9L679.2 887.4L680.9 889.8L682.7 892.3L684.4 894.8L686.1 897.3L687.8 899.8L689.5 902.3L691.3 904.8L693.0 907.2L694.7 909.7L696.5 912.2L698.2 914.7L699.9 917.2L701.7 919.7L703.4 922.2L705.1 924.7L706.8 927.2L708.5 929.7L710.2 932.2L711.9 934.7L713.6 937.2L715.2 939.8L716.9 942.3L718.5 944.9L720.1 947.4L721.7 950.0L723.2 952.6L724.8 955.2L726.3 957.8L727.7 960.4L729.2 963.1L730.6 965.7L732.1 968.4L733.5 971.0L734.8 973.7L736.2 976.4L737.5 979.1L738.8 981.8L740.1 984.5L741.4 987.3L742.6 990.0L743.8 992.8L745.0 995.5L746.2 998.3L747.4 1001.1L748.5 1003.8L749.6 1006.6L750.7 1009.4L751.8 1012.3L752.8 1015.1L753.9 1017.9L754.9 1020.7L755.9 1023.6L756.9 1026.4L757.8 1029.3L758.8 1032.1L759.7 1035.0L760.6 1037.9L761.5 1040.8L762.3 1043.7L763.2 1046.6L764.0 1049.5L764.8 1052.4L765.6 1055.3L766.3 1058.2L767.1 1061.1L767.8 1064.1L768.5 1067.0L769.2 1069.9L769.9 1072.9L770.6 1075.8L771.2 1078.8L771.8 1081.7L772.4 1084.7L773.0 1087.6L773.6 1090.6L774.1 1093.6L774.7 1096.6L775.2 1099.5L775.7 1102.5L776.2 1105.5L776.7 1108.5L777.1 1111.5L777.6 1114.5L778.0 1117.4L778.4 1120.4L778.8 1123.4L779.2 1126.4L779.5 1129.4L779.9 1132.4L780.2 1135.4L780.5 1138.4L780.8 1141.4L781.1 1144.4L781.4 1147.4"/>
<path d="M385.5 1147.4L385.6 1144.3L385.7 1141.2L385.8 1138.0L386.0 1134.9L386.1 1131.9L386.2 1128.8L386.3 1125.7L386.5 1122.6L386.6 1119.5L386.8 1116.5L386.9 1113.4L387.0 1110.4L387.2 1107.3L387.3 1104.3L387.5 1101.3L387.7 1098.2L387.8 1095.2L388.0 1092.2L388.2 1089.2L388.3 1086.2L388.5 1083.2L388.7 1080.2L388.9 1077.2L389.1 1074.2L389.3 1071.2L389.5 1068.3L389.7 1065.3L389.9 1062.3L390.1 1059.3L390.3 1056.4L390.5 1053.4L390.7 1050.4L390.9 1047.5L391.2 1044.5L391.4 1041.6L391.6 1038.6L391.9 1035.7L392.1 1032.7L392.4 1029.8L392.6 1026.8L392.9 1023.9L393.1 1020.9L393.4 1018.0L393.7 1015.1L393.9 1012.1L394.2 1009.2L394.5 1006.2L394.8 1003.3L395.0 1000.3L395.3 997.4L395.6 994.4L395.9 991.5L396.2 988.6L396.5 985.6L396.9 982.7L397.2 979.7L397.5 976.8L397.8 973.8L398.2 970.8L398.5 967.9L398.8 964.9L399.2 962.0L399.5 959.0L399.9 956.0L400.2 953.1L400.6 950.1L401.0 947.1L401.3 944.1L401.7 941.1L402.1 938.1L402.5 935.1L402.9 932.1L403.3 929.1L403.7 926.1L404.1 923.1L404.5 920.1L404.9 917.1L405.3 914.1L405.7 911.0L406.2 908.0L406.6 904.9L407.0 901.9L407.5 898.8L407.9 895.8L408.4 892.7L408.8 889.6L409.3 886.5L409.8 883.4L410.2 880.3L410.7 877.2L411.2 874.1L411.7 871.0L412.2 867.9L412.8 864.8L413.3 861.7L413.9 858.6L414.5 855.5L415.1 852.4L415.8 849.3L416.4 846.3L417.2 843.3L418.0 840.3L418.8 837.3L419.6 834.3L420.6 831.4L421.5 828.5L422.5 825.6L423.6 822.8L424.8 820.0L426.0 817.3L427.3 814.6L428.6 812.0L430.0 809.4L431.5 806.8L433.1 804.3L434.8 801.9L436.5 799.5L438.4 797.2L440.3 794.9L442.3 792.8L444.4 790.6L446.6 788.6L448.8 786.6L451.1 784.8L453.5 783.0L455.9 781.2L458.4 779.6L461.0 778.1L463.6 776.6L466.3 775.3L469.0 774.0L471.7 772.9L474.5 771.8L477.4 770.9L480.2 770.1L483.1 769.4L486.1 768.8L489.0 768.3L492.0 767.9L495.0 767.6L498.0 767.4L501.1 767.3L504.1 767.3L507.2 767.4L510.2 767.5L513.3 767.8L516.3 768.1L519.4 768.5L522.4 769.0L525.5 769.5L528.5 770.1L531.5 770.8L534.5 771.5L537.5 772.3L540.5 773.1L543.4 774.0L546.3 775.0L549.2 776.0L552.0 777.0L554.9 778.1L557.7 779.3L560.4 780.5L563.1 781.7L565.8 783.1L568.5 784.5L571.1 785.9L573.6 787.4L576.2 789.0L578.7 790.6L581.1 792.3L583.5 794.0L585.9 795.8L588.3 797.7L590.6 799.6L592.9 801.5L595.1 803.5L597.4 805.5L599.6 807.5L601.8 809.6L604.0 811.6L606.2 813.7L608.4 815.8L610.5 817.9L612.6 820.0L614.8 822.1L616.9 824.2L619.0 826.4L621.1 828.6L623.2 830.7L625.2 832.9L627.3 835.1L629.3 837.4L631.3 839.6L633.3 841.9L635.3 844.1L637.3 846.4L639.2 848.7L641.2 851.0L643.1 853.3L645.0 855.7L647.0 858.0L648.8 860.3L650.7 862.7L652.6 865.1L654.4 867.5L656.3 869.9L658.1 872.3L659.9 874.7L661.7 877.2L663.4 879.6L665.2 882.1L666.9 884.5L668.7 887.0L670.4 889.5L672.1 892.0L673.8 894.5L675.4 897.1L677.1 899.6L678.7 902.1L680.3 904.7L681.9 907.3L683.5 909.8L685.1 912.4L686.7 915.0L688.2 917.6L689.7 920.2L691.2 922.9L692.7 925.5L694.2 928.1L695.7 930.8L697.1 933.4L698.5 936.1L700.0 938.8L701.4 941.4L702.7 944.1L704.1 946.8L705.5 949.5L706.8 952.2L708.1 955.0L709.4 957.7L710.7 960.4L712.0 963.2L713.2 965.9L714.4 968.7L715.7 971.4L716.9 974.2L718.1 977.0L719.2 979.8L720.4 982.5L721.5 985.3L722.6 988.1L723.7 990.9L724.8 993.7L725.9 996.6L726.9 999.4L727.9 1002.2L729.0 1005.0L730.0 1007.9L730.9 1010.7L731.9 1013.6L732.8 1016.4L733.7 1019.3L734.6 1022.1L735.5 1025.0L736.4 1027.9L737.2 1030.8L738.1 1033.7L738.9 1036.6L739.6 1039.5L740.4 1042.4L741.1 1045.3L741.9 1048.2L742.6 1051.1L743.2 1054.0L743.9 1057.0L744.5 1059.9L745.1 1062.9L745.7 1065.8L746.3 1068.8L746.8 1071.7L747.3 1074.7L747.8 1077.7L748.3 1080.7L748.7 1083.7L749.1 1086.7L749.5 1089.7L749.9 1092.7L750.2 1095.7L750.6 1098.8L750.8 1101.8L751.1 1104.8L751.4 1107.9L751.6 1110.9L751.9 1113.9L752.3 1116.9L752.6 1119.9L753.1 1122.9L753.6 1125.8L754.2 1128.7L754.9 1131.6L755.8 1134.4L756.8 1137.1L758.0 1139.8L759.4 1142.4L761.0 1145.0L762.8 1147.4"/>
<path d="M501.4 757.7L504.1 758.9L506.9 760.1L509.7 761.3L512.4 762.5L515.2 763.7L518.0 764.9L520.7 766.0L523.5 767.2L526.3 768.3L529.1 769.4L531.9 770.5L534.7 771.6L537.5 772.7L540.3 773.8L543.1 774.8L545.9 775.8L548.8 776.9L551.6 777.9L554.4 778.9L557.3 779.9L560.1 780.9L562.9 781.9L565.8 782.8L568.6 783.8L571.5 784.7L574.3 785.6L577.2 786.6L580.1 787.5L582.9 788.4L585.8 789.3L588.7 790.1L591.5 791.0L594.4 791.9L597.3 792.7L600.2 793.6L603.1 794.4L606.0 795.2L608.8 796.0L611.7 796.8L614.6 797.6L617.5 798.4L620.4 799.2L623.3 800.0L626.3 800.7L629.2 801.5L632.1 802.2L635.0 803.0L637.9 803.7L640.8 804.4L643.8 805.2L646.7 805.9L649.6 806.6L652.5 807.3L655.5 808.0L657.0 811.9L654.1 811.0L651.2 810.2L648.3 809.3L645.4 808.5L642.6 807.6L639.7 806.8L636.8 805.9L633.9 805.0L631.0 804.2L628.1 803.3L625.2 802.4L622.4 801.6L619.5 800.7L616.6 799.8L613.7 798.9L610.8 798.0L607.9 797.1L605.1 796.2L602.2 795.3L599.3 794.4L596.5 793.5L593.6 792.6L590.7 791.6L587.8 790.7L585.0 789.8L582.1 788.8L579.3 787.9L576.4 786.9L573.5 786.0L570.7 785.0L567.8 784.0L565.0 783.0L562.2 782.0L559.3 781.0L556.5 780.0L553.6 779.0L550.8 778.0L548.0 776.9L545.1 775.9L542.3 774.8L539.5 773.8L536.7 772.7L533.9 771.6L531.1 770.5L528.3 769.4L525.5 768.3L522.7 767.2L519.9 766.0L517.1 764.9L514.3 763.7L511.5 762.5L508.7 761.3L506.0 760.2L503.2 758.9L500.5 757.7Z" fill="#000" stroke="none"/>
<path d="M500.5 757.7L503.2 758.9L506.0 760.2L508.7 761.3L511.5 762.5L514.3 763.7L517.1 764.9L519.9 766.0L522.7 767.2L525.5 768.3L528.3 769.4L531.1 770.5L533.9 771.6L536.7 772.7L539.5 773.8L542.3 774.8L545.1 775.9L548.0 776.9L550.8 778.0L553.6 779.0L556.5 780.0L559.3 781.0L562.2 782.0L565.0 783.0L567.8 784.0L570.7 785.0L573.5 786.0L576.4 786.9L579.3 787.9L582.1 788.8L585.0 789.8L587.8 790.7L590.7 791.6L593.6 792.6L596.5 793.5L599.3 794.4L602.2 795.3L605.1 796.2L607.9 797.1L610.8 798.0L613.7 798.9L616.6 799.8L619.5 800.7L622.4 801.6L625.2 802.4L628.1 803.3L631.0 804.2L633.9 805.0L636.8 805.9L639.7 806.8L642.6 807.6L641.8 811.0L639.0 809.9L636.2 808.9L633.4 807.9L630.5 806.9L627.7 805.8L624.9 804.8L622.1 803.8L619.2 802.8L616.4 801.7L613.6 800.7L610.8 799.7L607.9 798.6L605.1 797.6L602.3 796.6L599.5 795.6L596.6 794.5L593.8 793.5L591.0 792.5L588.2 791.5L585.3 790.4L582.5 789.4L579.7 788.4L576.9 787.3L574.0 786.3L571.2 785.3L568.4 784.2L565.5 783.2L562.7 782.2L559.9 781.2L557.1 780.1L554.2 779.1L551.4 778.1L548.6 777.0L545.7 776.0L542.9 775.0L540.1 774.0L537.2 772.9L534.4 771.9L531.6 770.9L528.8 769.8L525.9 768.8L523.1 767.7L520.3 766.7L517.5 765.6L514.7 764.5L511.9 763.4L509.1 762.3L506.3 761.2L503.5 760.0L500.8 758.8Z" fill="#000" stroke="none"/>
<path d="M500.8 758.8L503.5 760.0L506.3 761.2L509.1 762.3L511.9 763.4L514.7 764.5L517.5 765.6L520.3 766.7L523.1 767.7L525.9 768.8L528.8 769.8L531.6 770.9L534.4 771.9L537.2 772.9L540.1 774.0L542.9 775.0L545.7 776.0L548.6 777.0L551.4 778.1L554.2 779.1L557.1 780.1L559.9 781.2L562.7 782.2L565.5 783.2L568.4 784.2L571.2 785.3L574.0 786.3L576.9 787.3L579.7 788.4L582.5 789.4L585.3 790.4L588.2 791.5L591.0 792.5L593.8 793.5L596.6 794.5L599.5 795.6L602.3 796.6L605.1 797.6L607.9 798.6L610.8 799.7L613.6 800.7L616.4 801.7L619.2 802.8L622.1 803.8L624.9 804.8L627.7 805.8L630.5 806.9L633.4 807.9L636.2 808.9L635.1 812.1L632.3 811.0L629.6 809.9L626.8 808.8L624.0 807.6L621.2 806.5L618.4 805.3L615.7 804.2L612.9 803.0L610.1 801.8L607.4 800.7L604.6 799.5L601.8 798.3L599.1 797.1L596.3 795.9L593.5 794.8L590.8 793.6L588.0 792.4L585.3 791.2L582.5 790.1L579.7 788.9L576.9 787.7L574.2 786.6L571.4 785.4L568.6 784.3L565.8 783.2L563.0 782.1L560.2 781.0L557.5 779.9L554.6 778.8L551.8 777.7L549.0 776.7L546.2 775.6L543.4 774.6L540.5 773.6L537.7 772.6L534.8 771.7L532.0 770.7L529.1 769.8L526.2 768.8L523.4 767.9L520.5 766.9L517.7 766.0L514.8 765.0L512.0 764.0L509.2 763.0L506.3 761.9L503.5 760.8L500.8 759.7Z" fill="#000" stroke="none"/>
<path d="M500.8 759.7L503.5 760.8L506.3 761.9L509.2 763.0L512.0 764.0L514.8 765.0L517.7 766.0L520.5 766.9L523.4 767.9L526.2 768.8L529.1 769.8L532.0 770.7L534.8 771.7L537.7 772.6L540.5 773.6L543.4 774.6L546.2 775.6L549.0 776.7L551.8 777.7L554.6 778.8L557.5 779.9L560.2 781.0L563.0 782.1L565.8 783.2L568.6 784.3L571.4 785.4L574.2 786.6L576.9 787.7L579.7 788.9L582.5 790.1L585.3 791.2L588.0 792.4L590.8 793.6L593.5 794.8L596.3 795.9L599.1 797.1L601.8 798.3L604.6 799.5L607.4 800.7L610.1 801.8L612.9 803.0L615.7 804.2L618.4 805.3L621.2 806.5L624.0 807.6L626.8 808.8L629.6 809.9L632.3 811.0L633.3 815.4L630.5 814.1L627.8 812.8L625.0 811.6L622.3 810.3L619.6 808.9L616.9 807.6L614.2 806.3L611.5 804.9L608.8 803.6L606.1 802.2L603.5 800.8L600.8 799.4L598.2 798.1L595.5 796.7L592.8 795.4L590.2 794.0L587.5 792.7L584.8 791.4L582.1 790.1L579.4 788.8L576.6 787.6L573.9 786.3L571.1 785.1L568.4 783.9L565.6 782.8L562.8 781.7L560.0 780.5L557.2 779.5L554.4 778.4L551.5 777.4L548.7 776.3L545.8 775.3L543.0 774.4L540.1 773.4L537.2 772.5L534.4 771.6L531.5 770.7L528.6 769.8L525.7 768.9L522.9 768.0L520.0 767.1L517.1 766.1L514.3 765.2L511.4 764.2L508.6 763.3L505.7 762.2L502.9 761.2L500.1 760.1Z" fill="#000" stroke="none"/>
<path d="M500.1 760.1L502.9 761.2L505.7 762.2L508.6 763.3L511.4 764.2L514.3 765.2L517.1 766.1L520.0 767.1L522.9 768.0L525.7 768.9L528.6 769.8L531.5 770.7L534.4 771.6L537.2 772.5L540.1 773.4L543.0 774.4L545.8 775.3L548.7 776.3L551.5 777.4L554.4 778.4L557.2 779.5L560.0 780.5L562.8 781.7L565.6 782.8L568.4 783.9L571.1 785.1L573.9 786.3L576.6 787.6L579.4 788.8L582.1 790.1L584.8 791.4L587.5 792.7L590.2 794.0L592.8 795.4L595.5 796.7L598.2 798.1L600.8 799.4L603.5 800.8L606.1 802.2L608.8 803.6L611.5 804.9L614.2 806.3L616.9 807.6L619.6 808.9L622.3 810.3L625.0 811.6L627.8 812.8L630.5 814.1L633.3 815.4L632.5 819.1L629.9 817.6L627.3 816.1L624.6 814.7L622.0 813.2L619.4 811.7L616.8 810.2L614.2 808.7L611.6 807.1L609.0 805.6L606.4 804.1L603.8 802.6L601.2 801.1L598.6 799.6L596.0 798.1L593.3 796.6L590.7 795.2L588.1 793.7L585.4 792.3L582.8 790.9L580.1 789.6L577.4 788.2L574.7 786.9L572.0 785.7L569.2 784.5L566.5 783.2L563.7 782.1L560.9 780.9L558.1 779.8L555.3 778.7L552.5 777.7L549.6 776.6L546.8 775.6L543.9 774.7L541.1 773.7L538.2 772.8L535.3 771.9L532.4 771.0L529.5 770.1L526.6 769.3L523.7 768.4L520.8 767.6L518.0 766.7L515.1 765.8L512.2 764.9L509.4 763.9L506.5 762.9L503.7 761.9L500.9 760.8Z" fill="#000" stroke="none"/>
<path d="M500.9 760.8L503.7 761.9L506.5 762.9L509.4 763.9L512.2 764.9L515.1 765.8L518.0 766.7L520.8 767.6L523.7 768.4L526.6 769.3L529.5 770.1L532.4 771.0L535.3 771.9L538.2 772.8L541.1 773.7L543.9 774.7L546.8 775.6L549.6 776.6L552.5 777.7L555.3 778.7L558.1 779.8L560.9 780.9L563.7 782.1L566.5 783.2L569.2 784.5L572.0 785.7L574.7 786.9L577.4 788.2L580.1 789.6L582.8 790.9L585.4 792.3L588.1 793.7L590.7 795.2L593.3 796.6L596.0 798.1L598.6 799.6L601.2 801.1L603.8 802.6L606.4 804.1L609.0 805.6L611.6 807.1L614.2 808.7L616.8 810.2L619.4 811.7L622.0 813.2L624.6 814.7L624.7 818.1L622.2 816.4L619.7 814.8L617.1 813.1L614.6 811.4L612.1 809.7L609.6 808.0L607.1 806.4L604.6 804.7L602.1 803.0L599.5 801.4L597.0 799.8L594.4 798.2L591.9 796.6L589.3 795.1L586.7 793.6L584.1 792.1L581.4 790.6L578.8 789.2L576.1 787.9L573.4 786.6L570.7 785.3L567.9 784.0L565.1 782.8L562.4 781.7L559.6 780.5L556.8 779.4L553.9 778.3L551.1 777.3L548.3 776.3L545.4 775.3L542.5 774.3L539.6 773.4L536.7 772.5L533.8 771.6L530.9 770.7L528.0 769.8L525.1 769.0L522.2 768.1L519.3 767.2L516.5 766.3L513.6 765.4L510.7 764.5L507.9 763.6L505.1 762.6L502.3 761.6Z" fill="#000" stroke="none"/>
<path d="M502.3 761.6L505.1 762.6L507.9 763.6L510.7 764.5L513.6 765.4L516.5 766.3L519.3 767.2L522.2 768.1L525.1 769.0L528.0 769.8L530.9 770.7L533.8 771.6L536.7 772.5L539.6 773.4L542.5 774.3L545.4 775.3L548.3 776.3L551.1 777.3L553.9 778.3L556.8 779.4L559.6 780.5L562.4 781.7L565.1 782.8L567.9 784.0L570.7 785.3L573.4 786.6L576.1 787.9L578.8 789.2L581.4 790.6L584.1 792.1L586.7 793.6L589.3 795.1L591.9 796.6L594.4 798.2L597.0 799.8L599.5 801.4L602.1 803.0L604.6 804.7L607.1 806.4L609.6 808.0L612.1 809.7L614.6 811.4L617.1 813.1L619.7 814.8L622.2 816.4L624.7 818.1L627.2 819.8L629.7 821.5L632.2 823.1L633.4 828.8L631.1 826.8L628.8 824.9L626.5 823.0L624.1 821.0L621.7 819.1L619.4 817.2L617.0 815.3L614.6 813.5L612.1 811.6L609.7 809.8L607.2 808.0L604.8 806.2L602.3 804.5L599.8 802.8L597.3 801.1L594.7 799.4L592.2 797.8L589.6 796.2L587.1 794.6L584.5 793.1L581.9 791.6L579.3 790.2L576.6 788.8L574.0 787.4L571.3 786.1L568.6 784.8L565.9 783.6L563.2 782.3L560.5 781.2L557.8 780.0L555.0 778.9L552.2 777.8L549.5 776.7L546.7 775.7L543.9 774.6L541.1 773.6L538.3 772.7L535.4 771.7L532.6 770.8L529.7 769.8L526.9 768.9L524.0 768.0L521.1 767.1L518.2 766.3L515.4 765.4L512.5 764.5L509.5 763.7L506.6 762.8L503.7 762.0L500.8 761.2Z" fill="#000" stroke="none"/>
<path d="M486.1 756.9L489.0 757.8L492.0 758.6L494.9 759.5L497.9 760.3L500.8 761.2L503.7 762.0L506.6 762.8L509.5 763.7L512.5 764.5L515.4 765.4L518.2 766.3L521.1 767.1L524.0 768.0L526.9 768.9L529.7 769.8L532.6 770.8L535.4 771.7L538.3 772.7L541.1 773.6L543.9 774.6L546.7 775.7L549.5 776.7L552.2 777.8L555.0 778.9L557.8 780.0L560.5 781.2L563.2 782.3L565.9 783.6L568.6 784.8L571.3 786.1L574.0 787.4L576.6 788.8L579.3 790.2L581.9 791.6L584.5 793.1L587.1 794.6L589.6 796.2L592.2 797.8L594.7 799.4L597.3 801.1L599.8 802.8L602.3 804.5L604.8 806.2L607.2 808.0L609.7 809.8L612.1 811.6L614.6 813.5L617.0 815.3L619.4 817.2L621.7 819.1L624.1 821.0L626.5 823.0L628.8 824.9L629.5 831.3L627.3 829.2L625.1 827.1L622.9 825.0L620.7 822.9L618.5 820.8L616.3 818.8L614.0 816.7L611.8 814.7L609.5 812.7L607.2 810.7L604.9 808.7L602.6 806.8L600.3 804.9L598.0 803.0L595.6 801.1L593.2 799.3L590.8 797.6L588.3 795.8L585.8 794.2L583.3 792.6L580.7 791.0L578.2 789.5L575.5 788.0L572.9 786.6L570.2 785.2L567.5 783.9L564.8 782.6L562.0 781.4L559.2 780.2L556.4 779.1L553.6 778.0L550.7 776.9L547.9 775.9L545.0 774.9L542.1 774.0L539.2 773.1L536.3 772.2L533.4 771.3L530.5 770.5L527.5 769.6L524.6 768.9L521.7 768.1L518.8 767.4L515.8 766.7L512.9 766.0L510.0 765.4L507.1 764.8L504.2 764.2L501.3 763.6L498.4 763.1L495.5 762.6L492.6 762.2L489.7 761.8L486.7 761.4Z" fill="#000" stroke="none"/>
<path d="M492.6 762.2L495.5 762.6L498.4 763.1L501.3 763.6L504.2 764.2L507.1 764.8L510.0 765.4L512.9 766.0L515.8 766.7L518.8 767.4L521.7 768.1L524.6 768.9L527.5 769.6L530.5 770.5L533.4 771.3L536.3 772.2L539.2 773.1L542.1 774.0L545.0 774.9L547.9 775.9L550.7 776.9L553.6 778.0L556.4 779.1L559.2 780.2L562.0 781.4L564.8 782.6L567.5 783.9L570.2 785.2L572.9 786.6L575.5 788.0L578.2 789.5L580.7 791.0L583.3 792.6L585.8 794.2L588.3 795.8L590.8 797.6L593.2 799.3L595.6 801.1L598.0 803.0L600.3 804.9L602.6 806.8L604.9 808.7L607.2 810.7L609.5 812.7L611.8 814.7L614.0 816.7L616.3 818.8L618.5 820.8L620.7 822.9L622.9 825.0L625.1 827.1L625.2 832.9L623.2 830.7L621.1 828.6L619.0 826.4L616.9 824.2L614.8 822.1L612.6 820.0L610.5 817.9L608.4 815.8L606.2 813.7L604.0 811.6L601.8 809.6L599.6 807.5L597.4 805.5L595.1 803.5L592.9 801.5L590.6 799.6L588.3 797.7L585.9 795.8L583.5 794.0L581.1 792.3L578.7 790.6L576.2 789.0L573.6 787.4L571.1 785.9L568.5 784.5L565.8 783.1L563.1 781.7L560.4 780.5L557.7 779.3L554.9 778.1L552.0 777.0L549.2 776.0L546.3 775.0L543.4 774.0L540.5 773.1L537.5 772.3L534.5 771.5L531.5 770.8L528.5 770.1L525.5 769.5L522.4 769.0L519.4 768.5L516.3 768.1L513.3 767.8L510.2 767.5L507.2 767.4L504.1 767.3L501.1 767.3L498.0 767.4L495.0 767.6L492.0 767.9Z" fill="#000" stroke="none"/>
<path d="M380.7 679.5L382.9 681.5L385.1 683.6L387.3 685.6L389.5 687.6L391.8 689.6L394.0 691.5L396.3 693.5L398.6 695.4L400.9 697.3L403.3 699.2L405.6 701.0L408.0 702.9L410.3 704.7L412.7 706.5L415.2 708.3L417.6 710.0L420.0 711.8L422.5 713.5L425.0 715.2L427.4 716.9L429.9 718.6L432.4 720.3L435.0 721.9L437.5 723.5L440.1 725.1L442.6 726.7L445.2 728.3L447.8 729.9L450.4 731.4L453.0 732.9L455.6 734.4L458.2 735.9L460.9 737.4L463.5 738.9L466.2 740.3L468.8 741.7L471.5 743.1L474.2 744.5L476.9 745.9L479.6 747.3L479.1 750.7L476.5 749.3L473.8 747.9L471.2 746.4L468.5 745.0L465.9 743.5L463.2 742.1L460.6 740.6L457.9 739.2L455.2 737.8L452.6 736.3L449.9 734.9L447.2 733.5L444.6 732.1L441.9 730.6L439.2 729.2L436.6 727.8L433.9 726.4L431.3 724.9L428.6 723.5L426.0 722.1L423.3 720.6L420.7 719.1L418.1 717.6L415.5 716.1L412.9 714.6L410.3 713.1L407.8 711.6L405.2 710.0L402.7 708.4L400.2 706.8L397.7 705.2L395.2 703.5L392.8 701.8L390.3 700.1L387.9 698.4L385.4 696.7L382.9 695.0L380.4 693.4Z" fill="#000" stroke="none"/>
<path d="M325.4 624.5L327.2 626.8L329.1 629.2L330.9 631.6L332.8 633.9L334.7 636.2L336.6 638.6L338.6 640.9L340.5 643.1L342.5 645.4L344.4 647.7L346.4 649.9L348.4 652.1L350.5 654.4L352.5 656.6L354.6 658.7L356.6 660.9L358.7 663.0L360.8 665.2L363.0 667.3L365.1 669.4L367.2 671.5L369.4 673.5L371.6 675.6L373.8 677.6L376.0 679.6L378.2 681.6L380.5 683.6L382.8 685.6L385.0 687.5L387.3 689.4L389.6 691.4L392.0 693.2L394.3 695.1L396.7 697.0L399.0 698.8L397.5 703.0L394.9 701.5L392.4 699.8L389.9 698.2L387.4 696.5L384.9 694.8L382.4 693.1L380.0 691.4L377.6 689.6L375.2 687.8L372.9 685.9L370.5 684.0L368.2 682.1L365.9 680.2L363.6 678.3L361.4 676.3L359.1 674.3L356.9 672.3L354.7 670.2L352.5 668.2L350.4 666.1L348.2 664.0L346.0 661.9L343.9 659.7L341.8 657.6L339.7 655.5L337.6 653.3L335.5 651.1L333.4 649.0L331.3 646.8L329.2 644.6L327.1 642.4L325.1 640.2Z" fill="#000" stroke="none"/>
<path d="M303.1 602.2L304.8 604.7L306.6 607.2L308.3 609.6L310.1 612.0L311.8 614.5L313.6 616.9L315.5 619.2L317.3 621.6L319.1 624.0L321.0 626.3L322.9 628.7L324.8 631.0L326.7 633.3L328.6 635.6L329.2 644.6L327.1 642.4L325.1 640.2L323.0 638.0L320.9 635.8L318.9 633.6L316.8 631.4L314.7 629.2L312.7 627.0L310.6 624.8L308.5 622.6L306.4 620.4L304.3 618.3L302.2 616.1L300.0 614.0Z" fill="#000" stroke="none"/>
</g></g>
<path d="M196.1 83.5L196.1 101.2M196.1 122.2L196.1 139.9M196.1 160.9L196.1 178.6M196.1 199.6L196.1 217.3M196.1 238.3L196.1 256.0M196.1 277.0L196.1 294.7M196.1 315.7L196.1 333.4M196.7 354.4L198.1 374.2M202.9 392.9L206.0 412.2M210.7 431.5L215.4 450.3M221.5 470.1L226.4 486.3M233.2 507.7L238.2 522.0M246.9 544.3L252.5 558.4M263.0 579.7L270.2 592.9M281.7 613.2L290.9 627.0M303.9 644.9L314.8 658.2M329.1 674.8L340.4 686.9M355.5 699.8L371.6 713.1M387.5 724.0L402.0 733.7M421.8 742.8L437.2 749.5M459.0 757.3L472.8 761.9" fill="none" stroke="#FBC79D" stroke-width="7.2" stroke-linecap="round"/>
<path d="M431.5 647.4L389.8 688.9" stroke="#FBC79D" stroke-width="5" fill="none"/>
<path d="M370.3 708.3L379.9 674.0L389.8 688.9L404.6 698.8Z" fill="#FBC79D"/>
<g stroke="#262626" fill="none" stroke-linecap="butt">
<path d="M376.5 1147.4v-13.6M376.5 44.4v13.6" stroke-width="2.9"/>
<path d="M557.0 1147.4v-13.6M557.0 44.4v13.6" stroke-width="2.9"/>
<path d="M736.8 1147.4v-13.6M736.8 44.4v13.6" stroke-width="2.9"/>
<path d="M917.2 1147.4v-13.6M917.2 44.4v13.6" stroke-width="2.9"/>
<path d="M1097.6 1147.4v-13.6M1097.6 44.4v13.6" stroke-width="2.9"/>
<path d="M1277.6 1147.4v-13.6M1277.6 44.4v13.6" stroke-width="2.9"/>
<path d="M196.1 964.5h13.6M1458.0 964.5h-13.6" stroke-width="2.6"/>
<path d="M196.1 780.3h13.6M1458.0 780.3h-13.6" stroke-width="2.6"/>
<path d="M196.1 596.1h13.6M1458.0 596.1h-13.6" stroke-width="2.6"/>
<path d="M196.1 412.1h13.6M1458.0 412.1h-13.6" stroke-width="2.6"/>
<path d="M196.1 227.6h13.6M1458.0 227.6h-13.6" stroke-width="2.6"/>
<path d="M196.1 42.949999999999996V1148.8000000000002M1458.0 42.949999999999996V1148.8000000000002" stroke-width="3.8"/>
<path d="M194.2 44.4H1459.9M194.2 1147.4H1459.9" stroke-width="2.9"/>
</g>
<rect x="1554.55" y="44.4" width="59.05" height="1103.0" fill="url(#cb)" stroke="#262626" stroke-width="2.9"/>
<path d="M1613.6 872.0h-5.6" stroke="#262626" stroke-width="3.4" stroke-linecap="round"/>
<path d="M1613.6 596.2h-5.6" stroke="#262626" stroke-width="3.4" stroke-linecap="round"/>
<path d="M1613.6 320.5h-5.6" stroke="#262626" stroke-width="3.4" stroke-linecap="round"/>
<g stroke="#fff" stroke-width="0.7">
<text x="170.7" y="1227.3" font-size="70" fill="#262626" >0.6</text>
<text x="353.0" y="1227.3" font-size="70" fill="#262626" >0.8</text>
<text x="552.75" y="1227.3" font-size="70" fill="#262626" >1</text>
<text x="712.7" y="1227.3" font-size="70" fill="#262626" >1.2</text>
<text x="890.9" y="1227.3" font-size="70" fill="#262626" >1.4</text>
<text x="1073.0" y="1227.3" font-size="70" fill="#262626" >1.6</text>
<text x="1249.0" y="1227.3" font-size="70" fill="#262626" >1.8</text>
<text x="140.75" y="73" font-size="70" fill="#262626" >3</text>
<text x="109.9" y="255" font-size="70" fill="#262626" >2.5</text>
<text x="142.75" y="437" font-size="70" fill="#262626" >2</text>
<text x="110.9" y="627" font-size="70" fill="#262626" >1.5</text>
<text x="132.75" y="809.7" font-size="70" fill="#262626" >1</text>
<text x="109.4" y="993.5" font-size="70" fill="#262626" >0.5</text>
<text x="141.75" y="1175.5" font-size="70" fill="#262626" >0</text>
<text x="1640.75" y="72.5" font-size="70" fill="#262626" >2</text>
<text x="1616.9" y="346.5" font-size="70" fill="#262626" >1.5</text>
<text x="1641.75" y="627" font-size="70" fill="#262626" >1</text>
<text x="1617.4" y="902" font-size="70" fill="#262626" >0.5</text>
<text x="1629.75" y="1175.7" font-size="70" fill="#262626" >0</text>
</g>
<g stroke="#000" stroke-width="0.35" stroke-linejoin="round">
<text x="338.3" y="1289.3" font-size="70" fill="#000" letter-spacing="-0.31">Normalized switching frequency</text>
<text x="1259.6" y="1289.3" font-size="70" fill="#000" font-style="italic">f<tspan x="1281" y="1299" font-size="47">n</tspan></text>
<text transform="translate(96.4 811.5) rotate(-90)" font-size="70" fill="#000" letter-spacing="-0.1">Voltage gain <tspan font-style="italic">M</tspan></text>
<text transform="translate(1524.7 994.5) rotate(-90)" font-size="70" fill="#000" letter-spacing="-0.42">Normalized output current <tspan font-style="italic">I</tspan><tspan font-style="italic" font-size="47" dy="6">n</tspan></text>
</g>
<g stroke="#fff" stroke-width="0.7">
<text x="424" y="617.1" font-size="70" fill="#404040"><tspan font-style="italic">M</tspan><tspan font-size="46" dy="9.7">peak</tspan></text>
</g>
</svg></body></html>
